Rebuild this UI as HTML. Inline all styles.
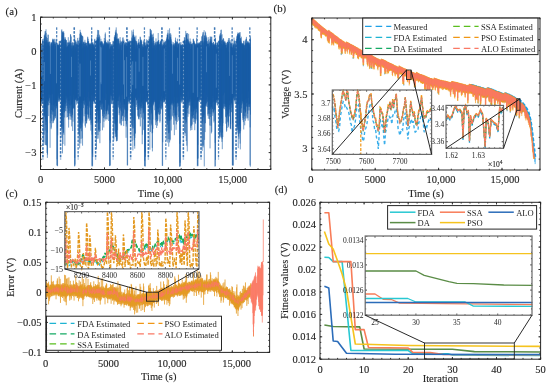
<!DOCTYPE html>
<html><head><meta charset="utf-8"><style>html,body{margin:0;padding:0;background:#fff;}</style></head>
<body><svg width="550" height="387" viewBox="0 0 550 387" style="display:block;will-change:transform;font-family:'Liberation Serif',serif"><style>text{stroke:#262626;stroke-width:0.12px;opacity:0.999;} text.s{stroke:none;}</style><rect width="550" height="387" fill="#fff"/><path d="M40.90 43.1V100.9M41.07 50.5V101.1M41.24 45.8V105.0M41.41 44.8V103.8M41.58 50.6V100.2M41.75 49.6V101.2M41.92 48.8V101.8M42.09 45.2V99.8M42.26 42.7V101.0M42.43 39.2V103.4M42.60 40.9V43.3M42.60 44.7V47.1M42.60 48.5V50.9M42.60 52.3V54.7M42.60 56.1V58.5M42.60 59.9V62.3M42.60 63.7V66.1M42.60 67.5V69.9M42.60 71.3V73.7M42.60 75.1V77.5M42.60 78.9V81.3M42.60 82.7V85.1M42.60 86.5V88.9M42.60 90.3V92.7M42.60 94.1V96.5M42.60 97.9V100.3M42.60 101.7V104.1M42.60 105.5V107.9M42.60 109.3V111.7M42.60 113.1V115.5M42.60 116.9V119.3M42.60 120.7V123.1M42.60 124.5V126.9M42.60 128.3V130.7M42.60 132.1V134.5M42.60 135.9V138.3M42.60 139.7V142.1M42.60 143.5V145.9M42.60 147.3V149.7M42.60 151.1V153.5M42.60 154.9V157.3M42.60 158.7V159.3M42.94 40.9V43.3M42.94 44.7V47.1M42.94 48.5V50.9M42.94 52.3V54.7M42.94 56.1V58.5M42.94 59.9V62.3M42.94 63.7V66.1M42.94 67.5V69.9M42.94 71.3V73.7M42.94 75.1V77.5M42.94 78.9V81.3M42.94 82.7V85.1M42.94 86.5V88.9M42.94 90.3V92.7M42.94 94.1V96.5M42.94 97.9V100.3M42.94 101.7V104.1M42.94 105.5V107.9M42.94 109.3V111.7M42.94 113.1V115.5M42.94 116.9V119.3M42.94 120.7V123.1M42.94 124.5V126.9M42.94 128.3V130.7M42.94 132.1V134.5M42.94 135.9V138.3M42.94 139.7V142.1M42.94 143.5V145.9M42.94 147.3V149.7M42.94 151.1V153.5M42.94 154.9V157.3M42.94 158.7V159.3M43.28 40.9V43.3M43.28 44.7V47.1M43.28 48.5V50.9M43.28 52.3V54.7M43.28 56.1V58.5M43.28 59.9V62.3M43.28 63.7V66.1M43.28 67.5V69.9M43.28 71.3V73.7M43.28 75.1V77.5M43.28 78.9V81.3M43.28 82.7V85.1M43.28 86.5V88.9M43.28 90.3V92.7M43.28 94.1V96.5M43.28 97.9V100.3M43.28 101.7V104.1M43.28 105.5V107.9M43.28 109.3V111.7M43.28 113.1V115.5M43.28 116.9V119.3M43.28 120.7V123.1M43.28 124.5V126.9M43.28 128.3V130.7M43.28 132.1V134.5M43.28 135.9V138.3M43.28 139.7V142.1M43.28 143.5V145.9M43.28 147.3V149.7M43.28 151.1V153.5M43.28 154.9V157.3M43.28 158.7V159.3M43.62 46.4V101.5M43.79 42.6V142.5M43.96 39.0V144.8M44.13 38.2V134.7M44.30 35.1V116.7M44.47 35.7V115.4M44.64 49.0V94.8M44.81 40.0V107.8M44.98 33.8V116.5M45.15 31.5V130.6M45.32 31.0V119.5M45.49 41.9V144.9M45.66 41.2V107.0M45.83 36.4V120.6M46.00 29.3V125.0M46.17 32.9V145.2M46.34 46.4V122.0M46.51 37.1V145.4M46.68 41.8V102.8M46.85 39.7V99.0M47.02 40.1V152.9M47.19 41.9V132.6M47.36 38.0V157.9M47.53 42.6V154.6M47.70 45.5V105.1M47.87 44.2V99.3M48.04 34.5V105.6M48.21 34.9V101.0M48.38 43.2V100.3M48.55 44.9V101.5M48.72 42.5V116.1M48.89 41.9V105.0M49.06 42.0V94.9M49.23 41.6V94.0M49.40 41.7V98.4M49.57 46.4V97.5M49.74 46.1V103.0M49.91 44.7V100.2M50.08 49.3V147.8M50.25 48.5V123.2M50.42 46.5V95.2M50.59 44.5V118.4M50.76 43.5V103.3M50.93 47.2V113.9M51.10 42.8V129.2M51.27 41.9V127.6M51.44 42.8V104.8M51.61 43.3V110.0M51.78 46.0V120.9M51.95 44.1V110.0M52.12 42.3V94.4M52.29 45.2V114.7M52.46 46.0V93.7M52.63 38.7V111.7M52.80 39.8V123.3M52.97 40.2V110.6M53.14 39.3V105.1M53.31 41.7V122.8M53.48 43.9V121.2M53.65 41.4V105.3M53.82 39.6V111.7M53.99 38.8V100.2M54.16 44.1V119.3M54.33 43.6V120.4M54.50 48.5V106.7M54.67 41.9V104.1M54.84 43.7V116.4M55.01 38.9V117.7M55.18 42.3V110.0M55.35 43.7V116.1M55.52 45.6V118.3M55.69 45.8V102.7M55.86 47.1V102.5M56.03 43.7V106.2M56.20 42.4V108.7M56.37 40.4V107.9M56.54 27.4V29.8M56.54 31.2V33.6M56.54 35.0V37.4M56.54 38.8V41.2M56.54 42.6V42.6M56.54 44.2V106.2M56.71 42.9V105.9M56.88 27.4V29.8M56.88 31.2V33.6M56.88 35.0V37.4M56.88 38.8V41.2M56.88 42.6V42.6M56.88 42.6V165.4M57.05 45.6V159.3M57.22 44.8V165.7M57.39 45.2V128.4M57.56 45.0V166.2M57.73 43.3V135.3M57.90 44.2V101.6M58.07 45.3V101.0M58.24 45.6V97.5M58.41 45.3V95.7M58.58 44.7V93.4M58.75 46.2V99.8M58.92 45.5V102.0M59.09 44.9V100.1M59.26 41.2V98.0M59.43 40.9V98.7M59.60 44.2V101.3M59.77 43.9V98.8M59.94 45.9V97.0M60.11 48.5V98.4M60.28 40.9V43.3M60.28 44.7V47.1M60.28 48.5V50.9M60.28 52.3V54.7M60.28 56.1V58.5M60.28 59.9V62.3M60.28 63.7V66.1M60.28 67.5V69.9M60.28 71.3V73.7M60.28 75.1V77.5M60.28 78.9V81.3M60.28 82.7V85.1M60.28 86.5V88.9M60.28 90.3V92.7M60.28 94.1V96.5M60.28 97.9V100.3M60.28 101.7V104.1M60.28 105.5V107.9M60.28 109.3V111.7M60.28 113.1V115.5M60.28 116.9V119.3M60.28 120.7V123.1M60.28 124.5V126.9M60.28 128.3V130.7M60.28 132.1V134.5M60.28 135.9V138.3M60.28 139.7V142.1M60.28 143.5V145.9M60.28 147.3V149.7M60.28 151.1V153.5M60.28 154.9V157.3M60.28 158.7V159.3M60.62 40.9V43.3M60.62 44.7V47.1M60.62 48.5V50.9M60.62 52.3V54.7M60.62 56.1V58.5M60.62 59.9V62.3M60.62 63.7V66.1M60.62 67.5V69.9M60.62 71.3V73.7M60.62 75.1V77.5M60.62 78.9V81.3M60.62 82.7V85.1M60.62 86.5V88.9M60.62 90.3V92.7M60.62 94.1V96.5M60.62 97.9V100.3M60.62 101.7V104.1M60.62 105.5V107.9M60.62 109.3V111.7M60.62 113.1V115.5M60.62 116.9V119.3M60.62 120.7V123.1M60.62 124.5V126.9M60.62 128.3V130.7M60.62 132.1V134.5M60.62 135.9V138.3M60.62 139.7V142.1M60.62 143.5V145.9M60.62 147.3V149.7M60.62 151.1V153.5M60.62 154.9V157.3M60.62 158.7V159.3M60.96 40.9V43.3M60.96 44.7V47.1M60.96 48.5V50.9M60.96 52.3V54.7M60.96 56.1V58.5M60.96 59.9V62.3M60.96 63.7V66.1M60.96 67.5V69.9M60.96 71.3V73.7M60.96 75.1V77.5M60.96 78.9V81.3M60.96 82.7V85.1M60.96 86.5V88.9M60.96 90.3V92.7M60.96 94.1V96.5M60.96 97.9V100.3M60.96 101.7V104.1M60.96 105.5V107.9M60.96 109.3V111.7M60.96 113.1V115.5M60.96 116.9V119.3M60.96 120.7V123.1M60.96 124.5V126.9M60.96 128.3V130.7M60.96 132.1V134.5M60.96 135.9V138.3M60.96 139.7V142.1M60.96 143.5V145.9M60.96 147.3V149.7M60.96 151.1V153.5M60.96 154.9V157.3M60.96 158.7V159.3M61.30 40.0V125.2M61.47 43.7V127.4M61.64 30.4V129.4M61.81 29.3V137.6M61.98 49.1V126.0M62.15 35.5V120.6M62.32 38.9V116.0M62.49 31.4V153.4M62.66 32.3V115.1M62.83 32.6V128.7M63.00 49.1V144.1M63.17 32.7V107.9M63.34 32.1V133.3M63.51 37.5V132.4M63.68 31.1V110.0M63.85 33.1V134.8M64.02 47.5V110.2M64.19 42.0V111.9M64.36 39.8V102.5M64.53 39.4V112.6M64.70 45.9V117.5M64.87 37.4V145.7M65.04 43.8V106.0M65.21 37.3V107.9M65.38 39.1V104.0M65.55 39.5V102.5M65.72 41.4V110.9M65.89 39.9V111.3M66.06 40.5V95.6M66.23 47.5V96.4M66.40 40.1V98.7M66.57 47.6V105.8M66.74 44.6V102.6M66.91 42.6V117.5M67.08 47.0V99.9M67.25 46.6V97.6M67.42 46.0V108.5M67.59 42.3V117.0M67.76 46.9V105.6M67.93 46.8V112.8M68.10 43.0V97.4M68.27 37.2V101.0M68.44 45.0V119.6M68.61 44.9V127.6M68.78 42.7V103.8M68.95 42.2V116.0M69.12 42.3V110.9M69.29 43.3V113.3M69.46 45.2V100.6M69.63 44.2V105.3M69.80 41.5V108.1M69.97 40.3V119.6M70.14 43.3V113.8M70.31 45.9V99.9M70.48 34.3V95.9M70.65 34.5V116.3M70.82 43.0V105.5M70.99 48.1V112.3M71.16 42.8V119.8M71.33 36.5V116.6M71.50 45.6V104.3M71.67 49.2V126.4M71.84 44.6V104.1M72.01 46.2V117.7M72.18 50.9V109.4M72.35 47.9V113.6M72.52 42.1V115.2M72.69 42.9V131.0M72.86 45.2V101.4M73.03 46.5V121.7M73.20 46.1V108.3M73.37 45.6V108.5M73.54 45.3V94.6M73.71 42.4V107.8M73.88 27.4V29.8M73.88 31.2V33.6M73.88 35.0V37.4M73.88 38.8V41.2M73.88 42.6V42.6M73.88 46.1V99.3M74.05 50.2V96.9M74.22 27.4V29.8M74.22 31.2V33.6M74.22 35.0V37.4M74.22 38.8V41.2M74.22 42.6V42.6M74.22 43.1V107.4M74.39 42.8V109.1M74.56 27.4V29.8M74.56 31.2V33.6M74.56 35.0V37.4M74.56 38.8V41.2M74.56 42.6V42.6M74.56 39.5V166.3M74.73 36.9V157.9M74.90 45.2V166.2M75.07 48.9V164.6M75.24 47.7V100.2M75.41 41.6V98.7M75.58 41.3V99.9M75.75 40.1V99.3M75.92 47.2V98.1M76.09 43.8V99.9M76.26 43.4V101.4M76.43 44.5V104.6M76.60 41.7V97.7M76.77 51.0V98.3M76.94 45.3V101.3M77.11 45.1V100.2M77.28 44.0V100.8M77.45 44.9V102.8M77.62 37.9V100.0M77.79 43.0V100.9M77.96 40.9V43.3M77.96 44.7V47.1M77.96 48.5V50.9M77.96 52.3V54.7M77.96 56.1V58.5M77.96 59.9V62.3M77.96 63.7V66.1M77.96 67.5V69.9M77.96 71.3V73.7M77.96 75.1V77.5M77.96 78.9V81.3M77.96 82.7V85.1M77.96 86.5V88.9M77.96 90.3V92.7M77.96 94.1V96.5M77.96 97.9V100.3M77.96 101.7V104.1M77.96 105.5V107.9M77.96 109.3V111.7M77.96 113.1V115.5M77.96 116.9V119.3M77.96 120.7V123.1M77.96 124.5V126.9M77.96 128.3V130.7M77.96 132.1V134.5M77.96 135.9V138.3M77.96 139.7V142.1M77.96 143.5V145.9M77.96 147.3V149.7M77.96 151.1V153.5M77.96 154.9V157.3M77.96 158.7V159.3M78.30 40.9V43.3M78.30 44.7V47.1M78.30 48.5V50.9M78.30 52.3V54.7M78.30 56.1V58.5M78.30 59.9V62.3M78.30 63.7V66.1M78.30 67.5V69.9M78.30 71.3V73.7M78.30 75.1V77.5M78.30 78.9V81.3M78.30 82.7V85.1M78.30 86.5V88.9M78.30 90.3V92.7M78.30 94.1V96.5M78.30 97.9V100.3M78.30 101.7V104.1M78.30 105.5V107.9M78.30 109.3V111.7M78.30 113.1V115.5M78.30 116.9V119.3M78.30 120.7V123.1M78.30 124.5V126.9M78.30 128.3V130.7M78.30 132.1V134.5M78.30 135.9V138.3M78.30 139.7V142.1M78.30 143.5V145.9M78.30 147.3V149.7M78.30 151.1V153.5M78.30 154.9V157.3M78.30 158.7V159.3M78.64 42.7V133.8M78.81 45.8V120.9M78.98 40.1V116.2M79.15 44.8V143.0M79.32 37.6V104.0M79.49 43.3V135.9M79.66 44.3V148.4M79.83 33.7V127.7M80.00 43.5V103.6M80.17 29.8V115.3M80.34 40.8V124.7M80.51 32.0V128.6M80.68 43.0V123.0M80.85 32.7V143.5M81.02 33.5V138.9M81.19 34.9V128.3M81.36 35.3V131.2M81.53 40.2V103.0M81.70 42.3V110.5M81.87 35.8V126.7M82.04 35.6V120.0M82.21 44.3V138.3M82.38 48.4V114.9M82.55 36.0V145.7M82.72 43.7V121.6M82.89 36.7V123.4M83.06 47.7V103.4M83.23 41.6V100.3M83.40 42.1V108.1M83.57 42.6V101.0M83.74 46.1V100.1M83.91 43.3V103.8M84.08 42.3V116.3M84.25 44.4V105.3M84.42 46.6V104.5M84.59 43.8V97.3M84.76 41.7V99.9M84.93 39.8V101.1M85.10 48.0V125.7M85.27 44.1V114.0M85.44 42.6V127.6M85.61 46.5V121.0M85.78 43.7V102.6M85.95 42.6V101.5M86.12 43.1V114.2M86.29 43.0V113.5M86.46 46.0V123.3M86.63 45.1V123.4M86.80 46.2V119.3M86.97 45.4V120.6M87.14 42.6V108.8M87.31 46.8V105.5M87.48 47.8V97.2M87.65 36.7V105.9M87.82 37.5V114.6M87.99 41.2V114.3M88.16 39.0V114.5M88.33 41.1V117.2M88.50 43.5V91.9M88.67 41.5V118.9M88.84 45.4V118.1M89.01 43.1V106.3M89.18 44.0V98.0M89.35 44.2V120.7M89.52 44.9V101.6M89.69 45.2V100.7M89.86 43.0V107.8M90.03 45.2V99.7M90.20 43.7V106.8M90.37 44.2V115.0M90.54 44.4V120.2M90.71 47.7V118.8M90.88 42.7V130.7M91.05 44.1V124.8M91.22 49.1V123.1M91.39 45.4V101.7M91.56 27.4V29.8M91.56 31.2V33.6M91.56 35.0V37.4M91.56 38.8V41.2M91.56 42.6V42.6M91.56 37.4V95.3M91.73 38.4V108.2M91.90 27.4V29.8M91.90 31.2V33.6M91.90 35.0V37.4M91.90 38.8V41.2M91.90 42.6V42.6M91.90 43.1V166.4M92.07 43.2V134.6M92.24 45.0V165.5M92.41 42.4V153.5M92.58 43.6V166.3M92.75 46.1V156.9M92.92 42.0V96.1M93.09 44.5V94.0M93.26 44.8V101.7M93.43 44.5V100.1M93.60 43.5V101.2M93.77 45.0V101.0M93.94 48.0V104.0M94.11 46.8V96.9M94.28 46.2V102.5M94.45 46.9V102.6M94.62 39.5V98.5M94.79 38.8V103.5M94.96 45.0V97.1M95.13 43.8V99.8M95.30 40.9V43.3M95.30 44.7V47.1M95.30 48.5V50.9M95.30 52.3V54.7M95.30 56.1V58.5M95.30 59.9V62.3M95.30 63.7V66.1M95.30 67.5V69.9M95.30 71.3V73.7M95.30 75.1V77.5M95.30 78.9V81.3M95.30 82.7V85.1M95.30 86.5V88.9M95.30 90.3V92.7M95.30 94.1V96.5M95.30 97.9V100.3M95.30 101.7V104.1M95.30 105.5V107.9M95.30 109.3V111.7M95.30 113.1V115.5M95.30 116.9V119.3M95.30 120.7V123.1M95.30 124.5V126.9M95.30 128.3V130.7M95.30 132.1V134.5M95.30 135.9V138.3M95.30 139.7V142.1M95.30 143.5V145.9M95.30 147.3V149.7M95.30 151.1V153.5M95.30 154.9V157.3M95.30 158.7V159.3M95.64 40.9V43.3M95.64 44.7V47.1M95.64 48.5V50.9M95.64 52.3V54.7M95.64 56.1V58.5M95.64 59.9V62.3M95.64 63.7V66.1M95.64 67.5V69.9M95.64 71.3V73.7M95.64 75.1V77.5M95.64 78.9V81.3M95.64 82.7V85.1M95.64 86.5V88.9M95.64 90.3V92.7M95.64 94.1V96.5M95.64 97.9V100.3M95.64 101.7V104.1M95.64 105.5V107.9M95.64 109.3V111.7M95.64 113.1V115.5M95.64 116.9V119.3M95.64 120.7V123.1M95.64 124.5V126.9M95.64 128.3V130.7M95.64 132.1V134.5M95.64 135.9V138.3M95.64 139.7V142.1M95.64 143.5V145.9M95.64 147.3V149.7M95.64 151.1V153.5M95.64 154.9V157.3M95.64 158.7V159.3M95.98 40.9V43.3M95.98 44.7V47.1M95.98 48.5V50.9M95.98 52.3V54.7M95.98 56.1V58.5M95.98 59.9V62.3M95.98 63.7V66.1M95.98 67.5V69.9M95.98 71.3V73.7M95.98 75.1V77.5M95.98 78.9V81.3M95.98 82.7V85.1M95.98 86.5V88.9M95.98 90.3V92.7M95.98 94.1V96.5M95.98 97.9V100.3M95.98 101.7V104.1M95.98 105.5V107.9M95.98 109.3V111.7M95.98 113.1V115.5M95.98 116.9V119.3M95.98 120.7V123.1M95.98 124.5V126.9M95.98 128.3V130.7M95.98 132.1V134.5M95.98 135.9V138.3M95.98 139.7V142.1M95.98 143.5V145.9M95.98 147.3V149.7M95.98 151.1V153.5M95.98 154.9V157.3M95.98 158.7V159.3M96.32 40.9V107.7M96.49 40.7V149.3M96.66 47.6V123.4M96.83 40.0V122.7M97.00 36.9V122.8M97.17 38.4V138.8M97.34 34.7V110.9M97.51 38.4V110.3M97.68 29.9V104.5M97.85 45.8V115.4M98.02 39.7V135.0M98.19 30.2V138.6M98.36 37.2V109.9M98.53 39.1V121.9M98.70 30.3V130.7M98.87 38.5V129.0M99.04 44.9V130.1M99.21 37.2V132.0M99.38 34.7V110.9M99.55 46.4V119.3M99.72 45.3V102.4M99.89 36.3V143.2M100.06 42.9V130.9M100.23 41.6V123.1M100.40 45.3V105.3M100.57 43.5V99.9M100.74 41.2V107.0M100.91 38.8V103.3M101.08 42.2V101.7M101.25 41.8V109.1M101.42 41.7V109.7M101.59 41.2V109.4M101.76 48.4V104.6M101.93 51.0V99.9M102.10 41.8V104.2M102.27 41.5V102.9M102.44 43.2V130.3M102.61 43.8V116.2M102.78 49.3V113.8M102.95 45.0V97.1M103.12 45.1V103.9M103.29 43.6V111.7M103.46 46.1V118.2M103.63 45.5V107.6M103.80 43.8V127.5M103.97 43.3V121.7M104.14 46.7V107.2M104.31 38.0V117.4M104.48 44.6V114.2M104.65 41.1V109.5M104.82 41.8V98.1M104.99 41.4V118.8M105.16 34.2V110.8M105.33 32.5V100.1M105.50 41.3V100.1M105.67 39.6V92.3M105.84 45.1V120.5M106.01 43.1V115.8M106.18 41.9V119.0M106.35 46.8V111.3M106.52 43.5V113.7M106.69 42.7V111.2M106.86 42.8V94.0M107.03 42.3V114.6M107.20 45.0V119.5M107.37 44.0V110.1M107.54 43.4V108.7M107.71 40.5V106.1M107.88 43.4V110.7M108.05 45.8V111.5M108.22 44.7V103.4M108.39 44.7V103.7M108.56 43.8V114.3M108.73 41.5V121.0M108.90 43.1V104.9M109.07 41.4V105.4M109.24 27.4V29.8M109.24 31.2V33.6M109.24 35.0V37.4M109.24 38.8V41.2M109.24 42.6V42.6M109.24 42.1V105.6M109.41 49.7V114.8M109.58 27.4V29.8M109.58 31.2V33.6M109.58 35.0V37.4M109.58 38.8V41.2M109.58 42.6V42.6M109.58 48.9V166.1M109.75 48.4V140.3M109.92 43.1V165.8M110.09 44.0V120.9M110.26 46.7V165.4M110.43 42.1V142.8M110.60 46.5V95.3M110.77 48.4V99.3M110.94 48.6V93.9M111.11 46.1V96.3M111.28 44.3V94.5M111.45 44.4V96.0M111.62 46.7V103.6M111.79 45.9V104.0M111.96 45.1V100.3M112.13 47.6V104.5M112.30 44.0V99.3M112.47 46.1V100.5M112.64 46.6V99.7M112.81 42.8V101.6M112.98 40.9V43.3M112.98 44.7V47.1M112.98 48.5V50.9M112.98 52.3V54.7M112.98 56.1V58.5M112.98 59.9V62.3M112.98 63.7V66.1M112.98 67.5V69.9M112.98 71.3V73.7M112.98 75.1V77.5M112.98 78.9V81.3M112.98 82.7V85.1M112.98 86.5V88.9M112.98 90.3V92.7M112.98 94.1V96.5M112.98 97.9V100.3M112.98 101.7V104.1M112.98 105.5V107.9M112.98 109.3V111.7M112.98 113.1V115.5M112.98 116.9V119.3M112.98 120.7V123.1M112.98 124.5V126.9M112.98 128.3V130.7M112.98 132.1V134.5M112.98 135.9V138.3M112.98 139.7V142.1M112.98 143.5V145.9M112.98 147.3V149.7M112.98 151.1V153.5M112.98 154.9V157.3M112.98 158.7V159.3M113.32 40.9V43.3M113.32 44.7V47.1M113.32 48.5V50.9M113.32 52.3V54.7M113.32 56.1V58.5M113.32 59.9V62.3M113.32 63.7V66.1M113.32 67.5V69.9M113.32 71.3V73.7M113.32 75.1V77.5M113.32 78.9V81.3M113.32 82.7V85.1M113.32 86.5V88.9M113.32 90.3V92.7M113.32 94.1V96.5M113.32 97.9V100.3M113.32 101.7V104.1M113.32 105.5V107.9M113.32 109.3V111.7M113.32 113.1V115.5M113.32 116.9V119.3M113.32 120.7V123.1M113.32 124.5V126.9M113.32 128.3V130.7M113.32 132.1V134.5M113.32 135.9V138.3M113.32 139.7V142.1M113.32 143.5V145.9M113.32 147.3V149.7M113.32 151.1V153.5M113.32 154.9V157.3M113.32 158.7V159.3M113.66 42.3V138.5M113.83 49.5V140.6M114.00 41.7V94.7M114.17 41.7V105.0M114.34 36.8V118.9M114.51 39.5V123.6M114.68 35.2V100.6M114.85 36.8V130.7M115.02 38.1V108.5M115.19 38.0V133.8M115.36 31.6V136.7M115.53 33.2V123.8M115.70 33.7V98.7M115.87 29.8V137.2M116.04 39.1V132.3M116.21 27.4V125.5M116.38 32.5V141.1M116.55 37.4V141.3M116.72 39.1V136.5M116.89 39.0V139.5M117.06 45.0V101.2M117.23 43.5V122.5M117.40 33.6V140.9M117.57 39.3V130.2M117.74 38.9V101.2M117.91 38.2V100.8M118.08 49.0V106.6M118.25 43.1V97.7M118.42 39.8V101.0M118.59 38.8V107.6M118.76 38.6V104.9M118.93 41.1V96.5M119.10 49.2V115.2M119.27 44.1V113.2M119.44 42.8V94.6M119.61 45.4V109.0M119.78 48.6V96.5M119.95 44.4V123.5M120.12 37.1V123.5M120.29 40.5V101.5M120.46 47.2V108.3M120.63 42.6V110.6M120.80 45.5V102.7M120.97 42.6V99.9M121.14 45.1V125.3M121.31 41.3V125.3M121.48 50.1V119.2M121.65 50.3V111.8M121.82 41.9V94.9M121.99 41.9V104.8M122.16 44.3V121.2M122.33 40.6V116.3M122.50 43.1V94.2M122.67 43.7V115.1M122.84 38.0V107.4M123.01 37.1V116.0M123.18 41.3V96.2M123.35 41.7V120.8M123.52 42.0V113.4M123.69 43.2V126.1M123.86 39.6V101.9M124.03 41.3V104.9M124.20 43.2V103.7M124.37 44.8V107.7M124.54 45.8V109.3M124.71 48.3V117.3M124.88 43.5V104.5M125.05 44.8V110.3M125.22 42.4V120.9M125.39 43.9V120.9M125.56 45.4V109.9M125.73 42.3V94.7M125.90 47.1V116.2M126.07 42.9V137.8M126.24 42.4V126.6M126.41 42.7V124.3M126.58 27.4V29.8M126.58 31.2V33.6M126.58 35.0V37.4M126.58 38.8V41.2M126.58 42.6V42.6M126.58 46.0V113.7M126.75 45.8V118.2M126.92 27.4V29.8M126.92 31.2V33.6M126.92 35.0V37.4M126.92 38.8V41.2M126.92 42.6V42.6M126.92 42.7V91.9M127.09 46.4V113.0M127.26 27.4V29.8M127.26 31.2V33.6M127.26 35.0V37.4M127.26 38.8V41.2M127.26 42.6V42.6M127.26 45.5V165.4M127.43 43.4V120.6M127.60 40.7V165.4M127.77 39.0V110.4M127.94 42.3V101.6M128.11 42.3V101.4M128.28 48.8V101.5M128.45 43.3V99.3M128.62 41.6V97.0M128.79 41.7V95.0M128.96 41.1V104.2M129.13 41.6V103.3M129.30 43.1V100.3M129.47 42.4V97.1M129.64 40.5V101.6M129.81 42.2V102.7M129.98 45.9V99.8M130.15 43.0V100.1M130.32 40.9V43.3M130.32 44.7V47.1M130.32 48.5V50.9M130.32 52.3V54.7M130.32 56.1V58.5M130.32 59.9V62.3M130.32 63.7V66.1M130.32 67.5V69.9M130.32 71.3V73.7M130.32 75.1V77.5M130.32 78.9V81.3M130.32 82.7V85.1M130.32 86.5V88.9M130.32 90.3V92.7M130.32 94.1V96.5M130.32 97.9V100.3M130.32 101.7V104.1M130.32 105.5V107.9M130.32 109.3V111.7M130.32 113.1V115.5M130.32 116.9V119.3M130.32 120.7V123.1M130.32 124.5V126.9M130.32 128.3V130.7M130.32 132.1V134.5M130.32 135.9V138.3M130.32 139.7V142.1M130.32 143.5V145.9M130.32 147.3V149.7M130.32 151.1V153.5M130.32 154.9V157.3M130.32 158.7V159.3M130.66 40.9V43.3M130.66 44.7V47.1M130.66 48.5V50.9M130.66 52.3V54.7M130.66 56.1V58.5M130.66 59.9V62.3M130.66 63.7V66.1M130.66 67.5V69.9M130.66 71.3V73.7M130.66 75.1V77.5M130.66 78.9V81.3M130.66 82.7V85.1M130.66 86.5V88.9M130.66 90.3V92.7M130.66 94.1V96.5M130.66 97.9V100.3M130.66 101.7V104.1M130.66 105.5V107.9M130.66 109.3V111.7M130.66 113.1V115.5M130.66 116.9V119.3M130.66 120.7V123.1M130.66 124.5V126.9M130.66 128.3V130.7M130.66 132.1V134.5M130.66 135.9V138.3M130.66 139.7V142.1M130.66 143.5V145.9M130.66 147.3V149.7M130.66 151.1V153.5M130.66 154.9V157.3M130.66 158.7V159.3M131.00 40.9V43.3M131.00 44.7V47.1M131.00 48.5V50.9M131.00 52.3V54.7M131.00 56.1V58.5M131.00 59.9V62.3M131.00 63.7V66.1M131.00 67.5V69.9M131.00 71.3V73.7M131.00 75.1V77.5M131.00 78.9V81.3M131.00 82.7V85.1M131.00 86.5V88.9M131.00 90.3V92.7M131.00 94.1V96.5M131.00 97.9V100.3M131.00 101.7V104.1M131.00 105.5V107.9M131.00 109.3V111.7M131.00 113.1V115.5M131.00 116.9V119.3M131.00 120.7V123.1M131.00 124.5V126.9M131.00 128.3V130.7M131.00 132.1V134.5M131.00 135.9V138.3M131.00 139.7V142.1M131.00 143.5V145.9M131.00 147.3V149.7M131.00 151.1V153.5M131.00 154.9V157.3M131.00 158.7V159.3M131.34 44.8V116.2M131.51 40.9V124.9M131.68 37.5V98.5M131.85 30.4V102.9M132.02 47.3V141.0M132.19 41.6V118.0M132.36 38.8V128.6M132.53 35.5V104.0M132.70 40.5V126.5M132.87 37.8V150.4M133.04 31.9V102.4M133.21 33.9V120.4M133.38 29.5V102.8M133.55 35.3V128.4M133.72 44.9V98.2M133.89 35.1V105.9M134.06 38.4V135.8M134.23 36.9V140.1M134.40 38.2V123.1M134.57 39.5V145.9M134.74 36.5V148.7M134.91 37.2V137.9M135.08 39.6V133.2M135.25 47.0V133.7M135.42 41.2V96.5M135.59 40.4V97.8M135.76 49.0V97.3M135.93 35.6V98.0M136.10 45.2V107.0M136.27 41.1V104.8M136.44 42.5V100.1M136.61 42.3V99.6M136.78 41.0V100.3M136.95 43.5V100.4M137.12 44.7V94.6M137.29 48.5V109.9M137.46 45.5V99.3M137.63 44.5V103.3M137.80 48.4V115.7M137.97 48.6V116.6M138.14 43.0V105.9M138.31 42.4V110.0M138.48 39.2V97.7M138.65 43.0V118.7M138.82 44.7V118.7M138.99 44.0V119.6M139.16 42.6V105.3M139.33 45.2V116.8M139.50 44.6V98.4M139.67 45.2V109.1M139.84 41.7V102.8M140.01 47.8V107.6M140.18 36.6V106.7M140.35 37.2V126.4M140.52 39.9V93.7M140.69 41.1V114.1M140.86 47.6V110.6M141.03 39.7V108.2M141.20 44.3V105.9M141.37 39.8V117.6M141.54 41.5V102.0M141.71 41.5V102.4M141.88 50.9V107.8M142.05 44.3V108.3M142.22 45.7V144.2M142.39 48.8V134.7M142.56 46.6V104.5M142.73 44.6V100.8M142.90 46.7V94.0M143.07 44.2V109.8M143.24 47.5V113.5M143.41 40.5V107.7M143.58 47.1V112.6M143.75 48.0V119.3M143.92 42.2V130.2M144.09 45.0V129.7M144.26 27.4V29.8M144.26 31.2V33.6M144.26 35.0V37.4M144.26 38.8V41.2M144.26 42.6V42.6M144.26 41.6V109.8M144.43 43.0V98.7M144.60 27.4V29.8M144.60 31.2V33.6M144.60 35.0V37.4M144.60 38.8V41.2M144.60 42.6V42.6M144.60 41.1V166.2M144.77 42.9V160.7M144.94 46.7V166.1M145.11 46.0V152.4M145.28 42.3V166.6M145.45 46.2V156.8M145.62 45.0V100.3M145.79 45.7V102.0M145.96 46.4V101.1M146.13 43.7V100.9M146.30 47.5V101.6M146.47 48.3V102.3M146.64 39.3V96.1M146.81 41.3V100.9M146.98 45.0V98.2M147.15 44.3V102.3M147.32 45.6V101.3M147.49 44.5V98.5M147.66 40.1V104.7M147.83 43.6V105.4M148.00 40.9V43.3M148.00 44.7V47.1M148.00 48.5V50.9M148.00 52.3V54.7M148.00 56.1V58.5M148.00 59.9V62.3M148.00 63.7V66.1M148.00 67.5V69.9M148.00 71.3V73.7M148.00 75.1V77.5M148.00 78.9V81.3M148.00 82.7V85.1M148.00 86.5V88.9M148.00 90.3V92.7M148.00 94.1V96.5M148.00 97.9V100.3M148.00 101.7V104.1M148.00 105.5V107.9M148.00 109.3V111.7M148.00 113.1V115.5M148.00 116.9V119.3M148.00 120.7V123.1M148.00 124.5V126.9M148.00 128.3V130.7M148.00 132.1V134.5M148.00 135.9V138.3M148.00 139.7V142.1M148.00 143.5V145.9M148.00 147.3V149.7M148.00 151.1V153.5M148.00 154.9V157.3M148.00 158.7V159.3M148.34 40.9V43.3M148.34 44.7V47.1M148.34 48.5V50.9M148.34 52.3V54.7M148.34 56.1V58.5M148.34 59.9V62.3M148.34 63.7V66.1M148.34 67.5V69.9M148.34 71.3V73.7M148.34 75.1V77.5M148.34 78.9V81.3M148.34 82.7V85.1M148.34 86.5V88.9M148.34 90.3V92.7M148.34 94.1V96.5M148.34 97.9V100.3M148.34 101.7V104.1M148.34 105.5V107.9M148.34 109.3V111.7M148.34 113.1V115.5M148.34 116.9V119.3M148.34 120.7V123.1M148.34 124.5V126.9M148.34 128.3V130.7M148.34 132.1V134.5M148.34 135.9V138.3M148.34 139.7V142.1M148.34 143.5V145.9M148.34 147.3V149.7M148.34 151.1V153.5M148.34 154.9V157.3M148.34 158.7V159.3M148.68 40.9V43.3M148.68 44.7V47.1M148.68 48.5V50.9M148.68 52.3V54.7M148.68 56.1V58.5M148.68 59.9V62.3M148.68 63.7V66.1M148.68 67.5V69.9M148.68 71.3V73.7M148.68 75.1V77.5M148.68 78.9V81.3M148.68 82.7V85.1M148.68 86.5V88.9M148.68 90.3V92.7M148.68 94.1V96.5M148.68 97.9V100.3M148.68 101.7V104.1M148.68 105.5V107.9M148.68 109.3V111.7M148.68 113.1V115.5M148.68 116.9V119.3M148.68 120.7V123.1M148.68 124.5V126.9M148.68 128.3V130.7M148.68 132.1V134.5M148.68 135.9V138.3M148.68 139.7V142.1M148.68 143.5V145.9M148.68 147.3V149.7M148.68 151.1V153.5M148.68 154.9V157.3M148.68 158.7V159.3M149.02 39.1V94.5M149.19 36.3V113.2M149.36 45.5V119.6M149.53 44.0V98.8M149.70 39.7V125.5M149.87 38.5V149.7M150.04 36.8V109.8M150.21 28.8V119.8M150.38 29.1V103.8M150.55 35.4V131.9M150.72 32.9V107.5M150.89 42.9V110.2M151.06 30.0V114.3M151.23 30.6V123.7M151.40 35.1V106.6M151.57 38.1V112.9M151.74 34.0V125.4M151.91 39.5V102.2M152.08 37.3V133.3M152.25 37.4V147.9M152.42 42.7V151.4M152.59 34.7V132.7M152.76 47.6V119.4M152.93 44.7V128.8M153.10 48.2V102.3M153.27 33.5V103.2M153.44 36.9V105.4M153.61 40.7V104.1M153.78 45.8V101.1M153.95 41.0V102.0M154.12 43.0V99.6M154.29 45.5V101.7M154.46 48.0V100.8M154.63 44.8V99.5M154.80 45.5V110.2M154.97 43.8V102.6M155.14 46.6V102.1M155.31 42.0V120.3M155.48 49.6V106.7M155.65 43.1V125.1M155.82 44.3V114.9M155.99 38.4V105.2M156.16 44.5V116.3M156.33 44.7V122.3M156.50 48.1V119.1M156.67 45.9V128.0M156.84 41.9V108.4M157.01 42.5V114.2M157.18 41.8V120.7M157.35 41.4V125.7M157.52 44.7V109.5M157.69 43.5V121.0M157.86 42.2V119.5M158.03 40.9V108.0M158.20 33.0V109.2M158.37 44.6V112.4M158.54 40.3V112.2M158.71 40.1V114.1M158.88 45.0V104.5M159.05 42.3V108.0M159.22 44.3V114.9M159.39 44.2V114.6M159.56 50.3V107.4M159.73 44.6V103.9M159.90 45.7V122.6M160.07 43.9V121.2M160.24 42.3V99.1M160.41 41.1V113.8M160.58 43.2V100.7M160.75 41.5V108.0M160.92 42.3V108.9M161.09 40.6V101.2M161.26 40.1V99.2M161.43 39.4V109.5M161.60 27.4V29.8M161.60 31.2V33.6M161.60 35.0V37.4M161.60 38.8V41.2M161.60 42.6V42.6M161.60 50.0V96.5M161.77 44.8V105.9M161.94 27.4V29.8M161.94 31.2V33.6M161.94 35.0V37.4M161.94 38.8V41.2M161.94 42.6V42.6M161.94 45.2V107.9M162.11 46.9V101.1M162.28 27.4V29.8M162.28 31.2V33.6M162.28 35.0V37.4M162.28 38.8V41.2M162.28 42.6V42.6M162.28 39.6V165.8M162.45 46.0V107.2M162.62 44.4V165.9M162.79 46.4V142.2M162.96 47.7V100.0M163.13 44.3V102.1M163.30 45.0V102.5M163.47 44.9V97.9M163.64 42.6V98.5M163.81 40.3V100.4M163.98 50.4V102.1M164.15 42.4V100.9M164.32 43.9V99.6M164.49 42.5V101.7M164.66 46.5V100.4M164.83 46.1V101.7M165.00 41.5V103.7M165.17 42.1V97.4M165.34 44.9V99.3M165.51 42.7V98.6M165.68 40.9V43.3M165.68 44.7V47.1M165.68 48.5V50.9M165.68 52.3V54.7M165.68 56.1V58.5M165.68 59.9V62.3M165.68 63.7V66.1M165.68 67.5V69.9M165.68 71.3V73.7M165.68 75.1V77.5M165.68 78.9V81.3M165.68 82.7V85.1M165.68 86.5V88.9M165.68 90.3V92.7M165.68 94.1V96.5M165.68 97.9V100.3M165.68 101.7V104.1M165.68 105.5V107.9M165.68 109.3V111.7M165.68 113.1V115.5M165.68 116.9V119.3M165.68 120.7V123.1M165.68 124.5V126.9M165.68 128.3V130.7M165.68 132.1V134.5M165.68 135.9V138.3M165.68 139.7V142.1M165.68 143.5V145.9M165.68 147.3V149.7M165.68 151.1V153.5M165.68 154.9V157.3M165.68 158.7V159.3M166.02 40.9V43.3M166.02 44.7V47.1M166.02 48.5V50.9M166.02 52.3V54.7M166.02 56.1V58.5M166.02 59.9V62.3M166.02 63.7V66.1M166.02 67.5V69.9M166.02 71.3V73.7M166.02 75.1V77.5M166.02 78.9V81.3M166.02 82.7V85.1M166.02 86.5V88.9M166.02 90.3V92.7M166.02 94.1V96.5M166.02 97.9V100.3M166.02 101.7V104.1M166.02 105.5V107.9M166.02 109.3V111.7M166.02 113.1V115.5M166.02 116.9V119.3M166.02 120.7V123.1M166.02 124.5V126.9M166.02 128.3V130.7M166.02 132.1V134.5M166.02 135.9V138.3M166.02 139.7V142.1M166.02 143.5V145.9M166.02 147.3V149.7M166.02 151.1V153.5M166.02 154.9V157.3M166.02 158.7V159.3M166.36 39.7V101.9M166.53 38.5V106.2M166.70 43.5V140.5M166.87 46.0V120.6M167.04 37.0V130.5M167.21 34.5V103.6M167.38 34.7V111.6M167.55 35.3V124.8M167.72 32.8V142.5M167.89 35.2V105.7M168.06 29.9V121.1M168.23 39.8V139.1M168.40 40.6V116.1M168.57 38.9V133.3M168.74 40.0V146.7M168.91 33.5V109.7M169.08 40.7V117.6M169.25 40.6V132.7M169.42 46.9V120.9M169.59 28.3V142.5M169.76 33.7V119.2M169.93 36.7V139.1M170.10 38.6V120.7M170.27 40.2V140.3M170.44 36.8V104.3M170.61 33.2V109.2M170.78 37.3V105.2M170.95 34.7V104.6M171.12 41.4V119.4M171.29 39.4V130.5M171.46 43.9V104.4M171.63 44.2V103.2M171.80 45.3V99.2M171.97 43.8V103.4M172.14 46.9V102.4M172.31 47.8V115.7M172.48 45.9V105.4M172.65 45.9V100.7M172.82 45.1V103.6M172.99 44.4V116.6M173.16 45.0V102.8M173.33 42.2V103.9M173.50 50.3V110.1M173.67 44.4V124.7M173.84 46.3V112.9M174.01 43.5V118.3M174.18 51.0V102.2M174.35 44.5V135.2M174.52 46.5V97.3M174.69 45.9V115.5M174.86 43.1V107.4M175.03 43.4V106.2M175.20 44.9V120.5M175.37 40.2V103.3M175.54 37.6V116.7M175.71 41.5V115.2M175.88 47.0V120.8M176.05 43.1V129.8M176.22 44.8V118.6M176.39 41.4V124.4M176.56 46.5V103.5M176.73 43.0V97.8M176.90 41.8V115.2M177.07 42.1V107.2M177.24 42.1V121.9M177.41 38.7V102.3M177.58 48.2V102.8M177.75 47.9V103.6M177.92 46.9V97.3M178.09 44.2V102.7M178.26 43.9V106.0M178.43 45.4V117.1M178.60 43.4V103.6M178.77 44.9V120.7M178.94 43.9V111.5M179.11 42.9V101.5M179.28 27.4V29.8M179.28 31.2V33.6M179.28 35.0V37.4M179.28 38.8V41.2M179.28 42.6V42.6M179.28 42.7V100.1M179.45 43.3V119.3M179.62 27.4V29.8M179.62 31.2V33.6M179.62 35.0V37.4M179.62 38.8V41.2M179.62 42.6V42.6M179.62 44.5V166.6M179.79 44.4V143.8M179.96 44.4V166.8M180.13 42.5V162.7M180.30 44.7V165.9M180.47 46.0V102.2M180.64 46.2V95.2M180.81 45.1V97.1M180.98 42.1V100.8M181.15 44.4V100.5M181.32 45.3V99.2M181.49 49.2V96.3M181.66 45.2V102.2M181.83 45.0V103.3M182.00 45.3V99.8M182.17 46.2V99.7M182.34 47.8V95.3M182.51 44.4V101.7M182.68 44.1V98.7M182.85 49.9V98.9M183.02 40.9V43.3M183.02 44.7V47.1M183.02 48.5V50.9M183.02 52.3V54.7M183.02 56.1V58.5M183.02 59.9V62.3M183.02 63.7V66.1M183.02 67.5V69.9M183.02 71.3V73.7M183.02 75.1V77.5M183.02 78.9V81.3M183.02 82.7V85.1M183.02 86.5V88.9M183.02 90.3V92.7M183.02 94.1V96.5M183.02 97.9V100.3M183.02 101.7V104.1M183.02 105.5V107.9M183.02 109.3V111.7M183.02 113.1V115.5M183.02 116.9V119.3M183.02 120.7V123.1M183.02 124.5V126.9M183.02 128.3V130.7M183.02 132.1V134.5M183.02 135.9V138.3M183.02 139.7V142.1M183.02 143.5V145.9M183.02 147.3V149.7M183.02 151.1V153.5M183.02 154.9V157.3M183.02 158.7V159.3M183.36 40.9V43.3M183.36 44.7V47.1M183.36 48.5V50.9M183.36 52.3V54.7M183.36 56.1V58.5M183.36 59.9V62.3M183.36 63.7V66.1M183.36 67.5V69.9M183.36 71.3V73.7M183.36 75.1V77.5M183.36 78.9V81.3M183.36 82.7V85.1M183.36 86.5V88.9M183.36 90.3V92.7M183.36 94.1V96.5M183.36 97.9V100.3M183.36 101.7V104.1M183.36 105.5V107.9M183.36 109.3V111.7M183.36 113.1V115.5M183.36 116.9V119.3M183.36 120.7V123.1M183.36 124.5V126.9M183.36 128.3V130.7M183.36 132.1V134.5M183.36 135.9V138.3M183.36 139.7V142.1M183.36 143.5V145.9M183.36 147.3V149.7M183.36 151.1V153.5M183.36 154.9V157.3M183.36 158.7V159.3M183.70 40.9V43.3M183.70 44.7V47.1M183.70 48.5V50.9M183.70 52.3V54.7M183.70 56.1V58.5M183.70 59.9V62.3M183.70 63.7V66.1M183.70 67.5V69.9M183.70 71.3V73.7M183.70 75.1V77.5M183.70 78.9V81.3M183.70 82.7V85.1M183.70 86.5V88.9M183.70 90.3V92.7M183.70 94.1V96.5M183.70 97.9V100.3M183.70 101.7V104.1M183.70 105.5V107.9M183.70 109.3V111.7M183.70 113.1V115.5M183.70 116.9V119.3M183.70 120.7V123.1M183.70 124.5V126.9M183.70 128.3V130.7M183.70 132.1V134.5M183.70 135.9V138.3M183.70 139.7V142.1M183.70 143.5V145.9M183.70 147.3V149.7M183.70 151.1V153.5M183.70 154.9V157.3M183.70 158.7V159.3M184.04 45.8V96.5M184.21 40.6V119.3M184.38 37.1V100.3M184.55 39.9V132.5M184.72 40.7V106.9M184.89 37.7V111.3M185.06 40.2V136.0M185.23 41.5V120.2M185.40 44.8V133.3M185.57 44.6V118.7M185.74 30.9V112.8M185.91 44.3V123.7M186.08 39.9V114.5M186.25 35.0V141.0M186.42 34.8V122.2M186.59 33.5V97.4M186.76 39.7V145.7M186.93 33.2V102.2M187.10 38.7V104.3M187.27 33.0V151.4M187.44 44.5V108.9M187.61 39.6V101.6M187.78 39.7V113.1M187.95 38.7V116.8M188.12 47.6V102.7M188.29 42.0V107.6M188.46 40.5V91.7M188.63 33.8V105.4M188.80 42.4V102.7M188.97 43.2V114.2M189.14 42.7V100.9M189.31 41.3V100.5M189.48 43.6V99.2M189.65 44.7V105.5M189.82 44.4V102.4M189.99 44.6V101.8M190.16 38.5V105.6M190.33 41.6V96.9M190.50 49.0V99.4M190.67 43.9V130.5M190.84 49.1V127.8M191.01 41.6V125.7M191.18 47.4V100.9M191.35 44.5V111.6M191.52 44.3V125.6M191.69 44.1V111.4M191.86 43.7V130.0M192.03 43.4V116.5M192.20 46.2V116.2M192.37 45.0V118.7M192.54 44.2V106.7M192.71 43.2V124.5M192.88 50.7V118.1M193.05 45.0V105.3M193.22 39.0V108.4M193.39 38.7V111.7M193.56 43.0V115.1M193.73 40.3V118.0M193.90 41.6V122.0M194.07 42.2V110.9M194.24 41.1V119.0M194.41 43.2V101.5M194.58 45.6V108.5M194.75 45.0V130.2M194.92 43.7V109.6M195.09 43.2V122.7M195.26 44.0V118.9M195.43 44.9V123.8M195.60 47.2V100.3M195.77 45.9V113.7M195.94 44.0V107.0M196.11 46.1V120.5M196.28 43.9V108.3M196.45 45.2V108.9M196.62 37.7V107.0M196.79 40.8V112.0M196.96 27.4V29.8M196.96 31.2V33.6M196.96 35.0V37.4M196.96 38.8V41.2M196.96 42.6V42.6M196.96 43.8V118.9M197.13 44.3V113.3M197.30 27.4V29.8M197.30 31.2V33.6M197.30 35.0V37.4M197.30 38.8V41.2M197.30 42.6V42.6M197.30 42.9V166.2M197.47 44.9V158.8M197.64 45.3V165.5M197.81 44.1V144.9M197.98 42.4V166.2M198.15 42.7V158.5M198.32 46.1V100.5M198.49 43.3V101.5M198.66 43.8V98.4M198.83 45.0V100.8M199.00 44.1V98.3M199.17 43.6V100.0M199.34 44.1V92.0M199.51 42.4V102.1M199.68 43.1V99.5M199.85 49.0V99.8M200.02 42.6V94.6M200.19 42.1V96.8M200.36 45.6V100.3M200.53 42.9V99.2M200.70 40.9V43.3M200.70 44.7V47.1M200.70 48.5V50.9M200.70 52.3V54.7M200.70 56.1V58.5M200.70 59.9V62.3M200.70 63.7V66.1M200.70 67.5V69.9M200.70 71.3V73.7M200.70 75.1V77.5M200.70 78.9V81.3M200.70 82.7V85.1M200.70 86.5V88.9M200.70 90.3V92.7M200.70 94.1V96.5M200.70 97.9V100.3M200.70 101.7V104.1M200.70 105.5V107.9M200.70 109.3V111.7M200.70 113.1V115.5M200.70 116.9V119.3M200.70 120.7V123.1M200.70 124.5V126.9M200.70 128.3V130.7M200.70 132.1V134.5M200.70 135.9V138.3M200.70 139.7V142.1M200.70 143.5V145.9M200.70 147.3V149.7M200.70 151.1V153.5M200.70 154.9V157.3M200.70 158.7V159.3M201.04 40.9V43.3M201.04 44.7V47.1M201.04 48.5V50.9M201.04 52.3V54.7M201.04 56.1V58.5M201.04 59.9V62.3M201.04 63.7V66.1M201.04 67.5V69.9M201.04 71.3V73.7M201.04 75.1V77.5M201.04 78.9V81.3M201.04 82.7V85.1M201.04 86.5V88.9M201.04 90.3V92.7M201.04 94.1V96.5M201.04 97.9V100.3M201.04 101.7V104.1M201.04 105.5V107.9M201.04 109.3V111.7M201.04 113.1V115.5M201.04 116.9V119.3M201.04 120.7V123.1M201.04 124.5V126.9M201.04 128.3V130.7M201.04 132.1V134.5M201.04 135.9V138.3M201.04 139.7V142.1M201.04 143.5V145.9M201.04 147.3V149.7M201.04 151.1V153.5M201.04 154.9V157.3M201.04 158.7V159.3M201.38 40.9V43.3M201.38 44.7V47.1M201.38 48.5V50.9M201.38 52.3V54.7M201.38 56.1V58.5M201.38 59.9V62.3M201.38 63.7V66.1M201.38 67.5V69.9M201.38 71.3V73.7M201.38 75.1V77.5M201.38 78.9V81.3M201.38 82.7V85.1M201.38 86.5V88.9M201.38 90.3V92.7M201.38 94.1V96.5M201.38 97.9V100.3M201.38 101.7V104.1M201.38 105.5V107.9M201.38 109.3V111.7M201.38 113.1V115.5M201.38 116.9V119.3M201.38 120.7V123.1M201.38 124.5V126.9M201.38 128.3V130.7M201.38 132.1V134.5M201.38 135.9V138.3M201.38 139.7V142.1M201.38 143.5V145.9M201.38 147.3V149.7M201.38 151.1V153.5M201.38 154.9V157.3M201.38 158.7V159.3M201.72 36.4V111.5M201.89 42.9V100.5M202.06 43.0V124.0M202.23 36.3V150.9M202.40 41.2V145.7M202.57 34.6V121.0M202.74 46.6V108.1M202.91 32.4V122.6M203.08 40.7V109.3M203.25 32.2V147.4M203.42 45.2V145.6M203.59 42.7V117.1M203.76 48.1V99.2M203.93 41.9V117.4M204.10 30.2V115.1M204.27 38.2V166.4M204.44 35.6V107.6M204.61 35.5V139.9M204.78 41.2V92.6M204.95 42.0V123.5M205.12 37.8V132.1M205.29 39.8V123.0M205.46 31.6V106.0M205.63 32.8V103.7M205.80 41.2V105.2M205.97 36.5V100.2M206.14 35.4V106.8M206.31 37.2V105.8M206.48 45.6V103.5M206.65 38.2V102.5M206.82 41.1V99.3M206.99 42.3V94.7M207.16 41.1V100.9M207.33 43.6V107.0M207.50 46.9V97.0M207.67 44.2V102.1M207.84 43.9V114.4M208.01 44.0V115.9M208.18 37.1V101.2M208.35 39.7V118.8M208.52 43.7V105.7M208.69 47.6V113.3M208.86 47.2V109.8M209.03 42.6V110.0M209.20 44.5V114.0M209.37 45.9V109.6M209.54 47.5V119.1M209.71 41.4V100.4M209.88 42.8V125.5M210.05 38.9V148.4M210.22 36.3V107.2M210.39 37.0V104.1M210.56 40.9V109.1M210.73 40.8V117.1M210.90 41.6V114.0M211.07 39.6V125.8M211.24 42.5V107.5M211.41 42.1V133.4M211.58 36.8V106.3M211.75 36.7V131.8M211.92 43.1V106.8M212.09 43.0V111.9M212.26 46.0V102.7M212.43 45.0V109.2M212.60 48.4V108.8M212.77 43.2V115.8M212.94 43.6V96.0M213.11 44.1V113.4M213.28 41.9V97.6M213.45 42.0V101.7M213.62 45.5V112.3M213.79 44.4V111.1M213.96 44.9V122.5M214.13 45.0V120.9M214.30 27.4V29.8M214.30 31.2V33.6M214.30 35.0V37.4M214.30 38.8V41.2M214.30 42.6V42.6M214.30 46.5V101.6M214.47 45.8V109.7M214.64 27.4V29.8M214.64 31.2V33.6M214.64 35.0V37.4M214.64 38.8V41.2M214.64 42.6V42.6M214.64 44.1V108.9M214.81 44.9V101.5M214.98 27.4V29.8M214.98 31.2V33.6M214.98 35.0V37.4M214.98 38.8V41.2M214.98 42.6V42.6M214.98 43.2V166.6M215.15 44.6V142.9M215.32 38.6V166.2M215.49 37.7V159.9M215.66 44.6V104.4M215.83 43.0V102.5M216.00 44.9V99.7M216.17 42.5V101.7M216.34 45.0V102.5M216.51 46.7V100.1M216.68 49.2V99.7M216.85 50.4V99.6M217.02 48.8V103.0M217.19 48.8V105.3M217.36 42.2V99.8M217.53 43.3V99.0M217.70 43.8V105.4M217.87 42.8V101.0M218.04 48.8V94.4M218.21 42.8V99.1M218.38 40.9V43.3M218.38 44.7V47.1M218.38 48.5V50.9M218.38 52.3V54.7M218.38 56.1V58.5M218.38 59.9V62.3M218.38 63.7V66.1M218.38 67.5V69.9M218.38 71.3V73.7M218.38 75.1V77.5M218.38 78.9V81.3M218.38 82.7V85.1M218.38 86.5V88.9M218.38 90.3V92.7M218.38 94.1V96.5M218.38 97.9V100.3M218.38 101.7V104.1M218.38 105.5V107.9M218.38 109.3V111.7M218.38 113.1V115.5M218.38 116.9V119.3M218.38 120.7V123.1M218.38 124.5V126.9M218.38 128.3V130.7M218.38 132.1V134.5M218.38 135.9V138.3M218.38 139.7V142.1M218.38 143.5V145.9M218.38 147.3V149.7M218.38 151.1V153.5M218.38 154.9V157.3M218.38 158.7V159.3M218.72 40.9V43.3M218.72 44.7V47.1M218.72 48.5V50.9M218.72 52.3V54.7M218.72 56.1V58.5M218.72 59.9V62.3M218.72 63.7V66.1M218.72 67.5V69.9M218.72 71.3V73.7M218.72 75.1V77.5M218.72 78.9V81.3M218.72 82.7V85.1M218.72 86.5V88.9M218.72 90.3V92.7M218.72 94.1V96.5M218.72 97.9V100.3M218.72 101.7V104.1M218.72 105.5V107.9M218.72 109.3V111.7M218.72 113.1V115.5M218.72 116.9V119.3M218.72 120.7V123.1M218.72 124.5V126.9M218.72 128.3V130.7M218.72 132.1V134.5M218.72 135.9V138.3M218.72 139.7V142.1M218.72 143.5V145.9M218.72 147.3V149.7M218.72 151.1V153.5M218.72 154.9V157.3M218.72 158.7V159.3M219.06 44.9V104.5M219.23 40.6V105.2M219.40 40.4V136.6M219.57 41.9V138.6M219.74 36.4V129.1M219.91 34.4V112.7M220.08 35.6V136.6M220.25 35.7V125.8M220.42 33.1V132.5M220.59 42.9V109.9M220.76 48.5V122.4M220.93 30.1V137.4M221.10 34.9V135.4M221.27 29.6V118.5M221.44 41.1V137.6M221.61 44.0V118.4M221.78 44.1V113.6M221.95 40.5V141.9M222.12 34.3V139.1M222.29 39.5V149.2M222.46 46.6V132.6M222.63 40.1V125.9M222.80 44.8V137.1M222.97 39.4V123.2M223.14 41.5V94.9M223.31 43.8V95.4M223.48 38.0V108.5M223.65 39.1V107.5M223.82 41.8V103.6M223.99 41.5V103.7M224.16 42.1V106.0M224.33 42.1V109.2M224.50 43.1V93.3M224.67 40.8V92.2M224.84 44.7V106.9M225.01 44.8V104.0M225.18 43.1V105.5M225.35 41.7V107.2M225.52 45.3V116.8M225.69 45.0V104.2M225.86 45.0V123.7M226.03 43.3V106.4M226.20 43.1V110.8M226.37 48.1V117.7M226.54 48.3V131.7M226.71 47.1V130.5M226.88 44.8V108.0M227.05 44.7V128.0M227.22 42.4V116.4M227.39 42.0V104.9M227.56 42.1V115.3M227.73 46.0V114.0M227.90 44.0V121.9M228.07 41.4V122.7M228.24 39.8V121.2M228.41 42.6V127.3M228.58 51.4V125.6M228.75 43.6V111.4M228.92 38.1V113.1M229.09 38.0V106.8M229.26 52.1V105.1M229.43 41.7V116.5M229.60 42.1V109.5M229.77 42.1V105.0M229.94 41.8V100.5M230.11 40.2V101.0M230.28 52.2V128.3M230.45 46.8V128.7M230.62 43.4V124.2M230.79 43.1V129.3M230.96 46.1V111.8M231.13 44.1V104.1M231.30 47.2V112.2M231.47 43.5V103.2M231.64 47.0V102.5M231.81 39.2V107.7M231.98 27.4V29.8M231.98 31.2V33.6M231.98 35.0V37.4M231.98 38.8V41.2M231.98 42.6V42.6M231.98 43.4V102.7M232.15 42.7V105.3M232.32 27.4V29.8M232.32 31.2V33.6M232.32 35.0V37.4M232.32 38.8V41.2M232.32 42.6V42.6M232.32 47.5V165.4M232.49 47.5V122.9M232.66 50.0V165.2M232.83 45.7V149.7M233.00 48.4V165.7M233.17 45.0V165.4M233.34 44.3V97.0M233.51 43.4V98.6M233.68 45.7V98.3M233.85 44.8V96.6M234.02 37.6V100.1M234.19 41.4V100.9M234.36 50.3V91.1M234.53 40.5V96.6M234.70 48.6V100.0M234.87 44.1V100.0M235.04 47.7V103.8M235.21 45.9V101.9M235.38 43.0V96.3M235.55 43.6V98.4M235.72 40.9V43.3M235.72 44.7V47.1M235.72 48.5V50.9M235.72 52.3V54.7M235.72 56.1V58.5M235.72 59.9V62.3M235.72 63.7V66.1M235.72 67.5V69.9M235.72 71.3V73.7M235.72 75.1V77.5M235.72 78.9V81.3M235.72 82.7V85.1M235.72 86.5V88.9M235.72 90.3V92.7M235.72 94.1V96.5M235.72 97.9V100.3M235.72 101.7V104.1M235.72 105.5V107.9M235.72 109.3V111.7M235.72 113.1V115.5M235.72 116.9V119.3M235.72 120.7V123.1M235.72 124.5V126.9M235.72 128.3V130.7M235.72 132.1V134.5M235.72 135.9V138.3M235.72 139.7V142.1M235.72 143.5V145.9M235.72 147.3V149.7M235.72 151.1V153.5M235.72 154.9V157.3M235.72 158.7V159.3M236.06 40.9V43.3M236.06 44.7V47.1M236.06 48.5V50.9M236.06 52.3V54.7M236.06 56.1V58.5M236.06 59.9V62.3M236.06 63.7V66.1M236.06 67.5V69.9M236.06 71.3V73.7M236.06 75.1V77.5M236.06 78.9V81.3M236.06 82.7V85.1M236.06 86.5V88.9M236.06 90.3V92.7M236.06 94.1V96.5M236.06 97.9V100.3M236.06 101.7V104.1M236.06 105.5V107.9M236.06 109.3V111.7M236.06 113.1V115.5M236.06 116.9V119.3M236.06 120.7V123.1M236.06 124.5V126.9M236.06 128.3V130.7M236.06 132.1V134.5M236.06 135.9V138.3M236.06 139.7V142.1M236.06 143.5V145.9M236.06 147.3V149.7M236.06 151.1V153.5M236.06 154.9V157.3M236.06 158.7V159.3M236.40 40.9V43.3M236.40 44.7V47.1M236.40 48.5V50.9M236.40 52.3V54.7M236.40 56.1V58.5M236.40 59.9V62.3M236.40 63.7V66.1M236.40 67.5V69.9M236.40 71.3V73.7M236.40 75.1V77.5M236.40 78.9V81.3M236.40 82.7V85.1M236.40 86.5V88.9M236.40 90.3V92.7M236.40 94.1V96.5M236.40 97.9V100.3M236.40 101.7V104.1M236.40 105.5V107.9M236.40 109.3V111.7M236.40 113.1V115.5M236.40 116.9V119.3M236.40 120.7V123.1M236.40 124.5V126.9M236.40 128.3V130.7M236.40 132.1V134.5M236.40 135.9V138.3M236.40 139.7V142.1M236.40 143.5V145.9M236.40 147.3V149.7M236.40 151.1V153.5M236.40 154.9V157.3M236.40 158.7V159.3M236.74 39.0V106.5M236.91 36.2V132.7M237.08 37.4V127.4M237.25 35.1V130.1M237.42 36.0V125.6M237.59 34.1V104.4M237.76 33.6V117.9M237.93 32.3V129.3M238.10 50.6V133.8M238.27 36.6V148.2M238.44 33.6V104.0M238.61 33.1V136.6M238.78 35.2V104.9M238.95 35.0V138.8M239.12 44.4V103.5M239.29 33.1V131.3M239.46 41.1V125.4M239.63 34.6V133.6M239.80 32.4V120.6M239.97 32.0V133.2M240.14 40.6V143.6M240.31 43.2V149.4M240.48 38.6V129.4M240.65 38.2V131.2M240.82 38.3V109.0M240.99 41.3V111.9M241.16 42.5V102.5M241.33 36.7V105.1M241.50 44.1V113.0M241.67 42.8V108.0M241.84 45.5V99.2M242.01 46.2V93.6M242.18 44.4V104.2M242.35 43.4V101.0M242.52 43.1V102.7M242.69 44.4V101.1M242.86 44.0V120.1M243.03 44.5V118.1M243.20 44.4V115.7M243.37 45.6V122.1M243.54 43.3V102.0M243.71 41.0V129.5M243.88 40.6V109.3M244.05 50.5V119.0M244.22 45.1V109.1M244.39 45.4V104.8M244.56 47.8V116.3M244.73 46.2V125.3M244.90 45.0V110.6M245.07 43.8V99.7M245.24 41.7V112.8M245.41 40.2V120.8M245.58 49.4V112.1M245.75 44.4V111.2M245.92 43.0V118.3M246.09 38.9V116.4M246.26 38.8V98.5M246.43 36.9V103.2M246.60 48.5V106.5M246.77 43.0V106.5M246.94 44.0V102.4M247.11 42.8V118.6M247.28 43.6V102.2M247.45 43.3V107.2M247.62 41.6V113.8M247.79 40.8V117.8M247.96 41.9V110.4M248.13 41.6V120.6M248.30 44.4V97.9M248.47 42.8V104.6M248.64 42.7V91.6M248.81 43.6V106.9M248.98 43.1V106.5M249.15 44.4V110.4M249.32 46.5V103.8M249.49 42.3V106.9M249.66 27.4V29.8M249.66 31.2V33.6M249.66 35.0V37.4M249.66 38.8V41.2M249.66 42.6V42.6M249.66 44.7V104.3M249.83 43.4V103.7M250.00 27.4V29.8M250.00 31.2V33.6M250.00 35.0V37.4M250.00 38.8V41.2M250.00 42.6V42.6M250.00 47.0V165.4M250.17 38.2V127.4M250.34 39.8V166.7M250.51 36.4V114.6" fill="none" stroke="#175da6" stroke-width="0.6"/><path d="M41.92 44.6V76.2M44.30 62.1V81.2M50.42 41.9V73.9M56.54 44.2V83.3M71.50 56.8V77.1M80.00 63.6V96.5M90.54 60.5V75.5M100.06 45.3V100.5M100.74 47.0V82.4M101.08 47.6V84.2M123.52 43.2V84.5M124.54 60.2V99.1M126.58 56.9V96.7M131.34 64.6V92.3M132.70 61.3V84.9M135.76 61.6V88.5M139.16 48.3V71.7M142.90 56.9V85.9M147.66 48.5V90.8M164.32 48.5V91.2M172.48 41.7V73.7M177.58 57.8V81.0M179.62 41.7V84.6M193.22 44.2V92.8M197.64 47.5V97.2M206.48 46.4V72.2M216.34 53.7V87.7M229.60 42.4V75.9M232.32 55.2V94.0" fill="none" stroke="#6d9fd0" stroke-width="0.5"/><path d="M40.5 169.5v-2.2M40.5 17.2v2.2M104.5 169.5v-2.2M104.5 17.2v2.2M168.4 169.5v-2.2M168.4 17.2v2.2M232.4 169.5v-2.2M232.4 17.2v2.2M40.5 169.5v-1.3M40.5 17.2v1.3M53.3 169.5v-1.3M53.3 17.2v1.3M66.1 169.5v-1.3M66.1 17.2v1.3M78.9 169.5v-1.3M78.9 17.2v1.3M91.7 169.5v-1.3M91.7 17.2v1.3M104.5 169.5v-1.3M104.5 17.2v1.3M117.3 169.5v-1.3M117.3 17.2v1.3M130.1 169.5v-1.3M130.1 17.2v1.3M142.9 169.5v-1.3M142.9 17.2v1.3M155.7 169.5v-1.3M155.7 17.2v1.3M168.4 169.5v-1.3M168.4 17.2v1.3M181.2 169.5v-1.3M181.2 17.2v1.3M194.0 169.5v-1.3M194.0 17.2v1.3M206.8 169.5v-1.3M206.8 17.2v1.3M219.6 169.5v-1.3M219.6 17.2v1.3M232.4 169.5v-1.3M232.4 17.2v1.3M245.2 169.5v-1.3M245.2 17.2v1.3M258.0 169.5v-1.3M258.0 17.2v1.3M270.8 169.5v-1.3M270.8 17.2v1.3M40.5 17.2h2.2M270.8 17.2h-2.2M40.5 51.0h2.2M270.8 51.0h-2.2M40.5 84.9h2.2M270.8 84.9h-2.2M40.5 118.7h2.2M270.8 118.7h-2.2M40.5 152.6h2.2M270.8 152.6h-2.2M40.5 166.1h1.3M270.8 166.1h-1.3M40.5 159.3h1.3M270.8 159.3h-1.3M40.5 152.6h1.3M270.8 152.6h-1.3M40.5 145.8h1.3M270.8 145.8h-1.3M40.5 139.0h1.3M270.8 139.0h-1.3M40.5 132.3h1.3M270.8 132.3h-1.3M40.5 125.5h1.3M270.8 125.5h-1.3M40.5 118.7h1.3M270.8 118.7h-1.3M40.5 112.0h1.3M270.8 112.0h-1.3M40.5 105.2h1.3M270.8 105.2h-1.3M40.5 98.4h1.3M270.8 98.4h-1.3M40.5 91.7h1.3M270.8 91.7h-1.3M40.5 84.9h1.3M270.8 84.9h-1.3M40.5 78.1h1.3M270.8 78.1h-1.3M40.5 71.4h1.3M270.8 71.4h-1.3M40.5 64.6h1.3M270.8 64.6h-1.3M40.5 57.8h1.3M270.8 57.8h-1.3M40.5 51.0h1.3M270.8 51.0h-1.3M40.5 44.3h1.3M270.8 44.3h-1.3M40.5 37.5h1.3M270.8 37.5h-1.3M40.5 30.7h1.3M270.8 30.7h-1.3M40.5 24.0h1.3M270.8 24.0h-1.3M40.5 17.2h1.3M270.8 17.2h-1.3" stroke="#262626" stroke-width="0.9" fill="none"/><rect x="40.5" y="17.2" width="230.3" height="152.3" fill="none" stroke="#262626" stroke-width="1.0"/><text x="36.5" y="20.8" font-size="10.5" text-anchor="end" fill="#262626" >1</text><text x="36.5" y="54.6" font-size="10.5" text-anchor="end" fill="#262626" >0</text><text x="36.5" y="88.5" font-size="10.5" text-anchor="end" fill="#262626" >−1</text><text x="36.5" y="122.3" font-size="10.5" text-anchor="end" fill="#262626" >−2</text><text x="36.5" y="156.2" font-size="10.5" text-anchor="end" fill="#262626" >−3</text><text x="40.7" y="182.7" font-size="10.5" text-anchor="middle" fill="#262626" >0</text><text x="104.6" y="182.7" font-size="10.5" text-anchor="middle" fill="#262626" >5000</text><text x="167.8" y="182.7" font-size="10.5" text-anchor="middle" fill="#262626" >10,000</text><text x="232.6" y="182.7" font-size="10.5" text-anchor="middle" fill="#262626" >15,000</text><text x="155.6" y="196.5" font-size="10.5" text-anchor="middle" fill="#262626" >Time (s)</text><text transform="translate(22.3,93.3) rotate(-90)" font-size="10.5" text-anchor="middle" fill="#262626">Current (A)</text><text x="5.6" y="14.8" font-size="10.8" text-anchor="start" fill="#262626" >(a)</text><path d="M519.0 99.0L524.0 104.5L528.3 111.0L530.8 121.0L532.3 132.0L533.8 145.0L535.3 157.0" fill="none" stroke="#1ea0e6" stroke-width="2.0" stroke-dasharray="3.5 1.8"/><path d="M341.24 53.0V55.1M341.58 51.2V53.3M341.92 51.7V53.8M353.14 56.9V59.0M363.34 64.2V66.3M369.80 65.6V67.7M371.16 66.9V69.0M371.50 66.3V68.4M384.76 72.4V74.5M403.80 83.6V85.7M414.68 85.9V88.0M427.94 91.8V93.9M428.96 91.8V93.9M429.30 92.8V94.9M438.14 91.8V93.9M470.90 84.0V92.0M471.24 84.1V91.9M471.58 84.2V93.1M471.92 84.1V92.1M472.26 84.3V93.2M472.60 84.3V92.2M472.94 84.7V92.5M473.28 84.8V93.0M473.62 84.5V92.3M473.96 84.6V92.6M474.30 84.9V92.6M474.64 85.2V94.2M474.98 85.3V94.0M475.32 85.5V94.5M475.66 85.2V94.2M476.00 85.2V92.9M476.34 85.3V94.5M476.68 85.4V93.8M477.02 86.0V94.2M477.36 85.9V94.2M477.70 86.0V94.3M478.04 86.2V95.3M478.38 85.9V93.5M478.72 86.0V93.2M477.92 101.4V103.5M479.06 86.6V94.4M479.40 86.4V95.6M479.74 86.4V94.3M480.08 86.6V94.2M480.42 86.5V94.5M480.76 86.7V93.8M481.10 87.2V95.1M480.30 103.6V105.7M481.44 87.2V95.3M481.78 87.1V94.5M482.12 87.2V96.3M482.46 87.3V94.9M482.80 87.3V95.0M483.14 87.4V95.7M483.48 87.6V96.9M483.82 87.6V96.8M484.16 87.8V96.0M484.50 88.3V97.1M484.84 88.4V96.7M485.18 88.1V96.7M485.52 88.4V95.7M485.86 88.2V97.4M486.20 88.7V97.6M485.40 106.4V108.5M486.54 88.9V96.7M485.74 105.7V107.8M486.88 88.6V96.6M487.22 88.6V97.6M487.56 87.6V95.2M487.90 87.5V96.6M488.24 87.5V95.8M488.58 87.5V95.7M488.92 87.6V96.6M489.26 87.6V94.9M489.60 88.2V95.8M489.94 88.1V96.9M490.28 88.0V97.3M490.62 88.2V95.8M490.96 88.1V97.3M491.30 88.3V97.5M491.64 88.6V97.9M490.84 102.9V105.0M491.98 89.0V98.4M492.32 88.7V98.1M492.66 88.9V98.3M491.86 103.4V105.5M493.00 88.9V96.2M493.34 89.4V97.5M493.68 89.2V97.5M494.02 89.8V97.3M494.36 89.8V97.4M494.70 89.8V97.9M495.04 89.8V97.1M495.38 90.1V98.9M494.58 103.8V105.9M495.72 90.5V97.9M494.92 103.7V105.8M496.06 90.5V98.0M496.40 90.5V99.5M496.74 90.9V98.9M497.08 90.9V98.2M497.42 91.1V99.9M497.76 91.3V99.1M498.10 91.2V100.1M498.44 91.0V100.2M498.78 91.6V100.6M499.12 91.4V100.4M499.46 91.7V99.4M499.80 91.6V100.8M500.14 91.9V99.9M500.48 92.0V100.9M499.68 111.8V113.9M500.82 92.0V100.8M501.16 92.5V101.9M501.50 92.4V100.6M501.84 92.5V100.5M502.18 92.9V100.9M502.52 92.8V101.3M502.86 93.3V101.4M503.20 93.3V101.4M503.54 93.5V101.7M503.88 93.1V101.7M504.22 93.5V101.5M504.56 93.6V101.0M504.90 94.0V102.6M505.24 92.4V101.1M505.58 92.4V100.9M505.92 92.6V102.1M506.26 92.7V100.4M506.60 92.6V100.8M506.94 93.1V101.8M507.28 93.3V102.2M506.48 108.1V110.2M507.62 93.2V101.5M506.82 107.3V109.4M507.96 93.5V102.6M507.16 109.2V111.3M508.30 93.6V101.3M508.64 93.9V102.6M508.98 93.6V102.2M509.32 93.8V101.7M509.66 94.2V102.6M510.00 94.5V104.0M510.34 94.6V103.0M510.68 94.7V102.4M511.02 94.6V104.0M510.22 110.7V112.8M511.36 94.9V102.6M511.70 95.1V102.9M512.04 95.3V103.3M512.38 95.5V104.0M512.72 95.4V104.5M513.06 96.0V105.5M513.40 96.3V104.7M513.74 96.4V105.2M514.08 96.2V105.3M514.42 96.5V105.0M514.76 96.9V105.6M515.10 96.9V106.4M515.44 97.0V105.9M515.78 97.3V106.9M516.12 97.9V107.1M516.46 98.1V107.4M516.80 98.2V107.4M517.14 98.1V107.3M516.34 114.5V116.6M517.48 98.5V106.8M517.82 98.8V108.3M518.16 98.6V106.6M518.50 98.8V108.0M518.84 99.2V109.0M519.18 99.6V109.3M519.52 100.3V109.6M519.86 100.7V110.2M519.06 116.3V118.4M520.20 101.2V110.8M520.54 101.5V109.7M520.88 101.9V110.3M521.22 102.0V111.8M521.56 102.9V111.4M521.90 103.2V112.1M522.24 103.9V112.7M522.58 102.5V112.0M522.92 102.6V110.2M523.26 103.5V108.8M523.60 103.9V111.3M523.94 104.3V110.8M524.28 104.5V111.0M524.62 104.7V109.6M524.96 105.3V111.5M525.30 106.0V111.7M525.64 106.8V111.7M525.98 107.4V114.3M526.32 108.6V113.7M526.66 109.3V116.6M527.00 109.9V116.2M527.34 110.5V116.9M527.68 111.1V117.9M528.02 112.1V119.1M528.36 112.8V118.4M528.70 113.4V119.5M529.04 114.2V121.7M529.38 115.2V120.2M529.72 116.5V122.9M530.06 117.4V122.7M530.40 118.8V126.5M530.74 119.6V125.7M531.08 122.5V128.0M531.42 124.9V130.0M531.76 128.1V135.6M532.10 130.8V136.1M532.44 133.7V139.3M532.78 136.8V141.8M533.12 139.6V146.7M533.46 142.5V149.9M533.80 145.7V151.3M534.14 149.0V156.4M534.48 151.6V158.7M534.82 154.9V161.8M535.16 157.6V164.1" fill="none" stroke="#1ea0e6" stroke-width="0.7"/><path d="M312.00 17.9V25.5M312.34 17.8V25.1M312.68 18.2V23.8M313.02 18.3V24.1M313.36 18.9V25.9M313.70 19.4V25.5M314.04 19.6V25.7M314.38 19.7V26.6M314.72 20.0V27.7M315.06 20.3V26.3M315.40 20.9V28.4M315.74 20.8V27.1M316.08 21.3V27.0M316.42 21.5V28.7M316.76 22.0V27.9M317.10 22.1V28.2M317.44 22.6V28.5M317.78 23.1V28.9M318.12 23.1V30.2M318.46 23.7V30.6M318.80 23.9V30.7M319.14 23.8V30.3M319.48 24.3V31.1M319.82 24.8V31.6M320.16 24.8V31.6M320.50 25.2V30.8M320.84 25.4V37.6M321.18 25.7V38.1M321.52 26.0V38.3M321.86 26.6V33.9M322.20 26.5V33.7M322.54 26.9V34.6M322.88 26.9V34.2M323.22 27.4V35.0M323.56 27.8V33.5M323.90 28.1V34.9M324.24 28.1V34.0M324.58 28.5V35.4M324.92 28.8V34.5M325.26 28.9V36.0M325.60 29.4V36.7M325.94 29.6V35.8M326.28 30.1V36.2M326.62 29.9V36.4M326.96 30.4V36.5M327.30 31.0V40.5M327.64 30.7V41.5M327.98 31.0V37.3M328.32 31.4V43.0M328.66 29.9V42.0M329.00 30.2V43.1M329.34 30.9V43.7M329.68 30.8V37.3M330.02 31.4V37.4M330.36 31.6V38.1M330.70 32.0V38.5M331.04 31.9V38.3M331.38 32.3V40.2M331.72 32.6V45.4M332.06 32.6V44.7M332.40 33.2V39.6M332.74 33.2V43.5M333.08 33.4V43.3M333.42 33.8V44.8M333.76 34.4V45.6M334.10 34.4V41.8M334.44 34.6V40.5M334.78 35.0V42.4M335.12 35.3V43.0M335.46 35.6V43.2M335.80 35.4V43.4M336.14 36.0V43.1M336.48 36.2V42.7M336.82 36.3V44.1M337.16 36.7V44.7M337.50 36.8V43.9M337.84 37.2V43.2M338.18 37.5V44.2M338.52 37.6V47.3M338.86 38.0V48.9M339.20 38.4V49.6M339.54 38.7V46.7M339.88 38.8V47.8M340.22 39.0V47.7M340.56 39.2V48.7M340.90 39.5V47.0M341.24 39.4V54.4M341.58 39.9V52.6M341.92 40.2V53.1M342.26 40.6V54.1M342.60 40.8V47.5M342.94 40.7V48.5M343.28 41.0V48.6M343.62 41.5V48.4M343.96 41.4V48.3M344.30 41.7V49.3M344.64 42.3V48.6M344.98 42.4V53.3M345.32 42.7V54.0M345.66 42.6V49.2M346.00 43.3V51.0M346.34 41.5V49.2M346.68 41.7V48.1M347.02 42.2V51.5M347.36 42.3V53.7M347.70 42.1V50.0M348.04 42.7V48.8M348.38 42.7V49.2M348.72 42.8V49.7M349.06 43.0V49.0M349.40 43.1V53.5M349.74 43.5V54.6M350.08 43.8V51.2M350.42 44.1V51.3M350.76 43.9V50.0M351.10 44.3V54.5M351.44 44.2V54.6M351.78 44.9V54.9M352.12 44.7V52.5M352.46 44.9V51.0M352.80 44.9V53.1M353.14 45.1V58.3M353.48 45.5V57.4M353.82 45.5V58.3M354.16 45.9V52.3M354.50 46.3V54.3M354.84 46.2V53.1M355.18 46.2V52.4M355.52 46.6V52.9M355.86 47.1V54.6M356.20 46.9V54.3M356.54 47.0V55.1M356.88 47.4V55.0M357.22 47.4V54.6M357.56 47.9V58.3M357.90 47.7V58.1M358.24 48.3V59.0M358.58 48.6V59.3M358.92 48.8V55.0M359.26 48.8V56.1M359.60 48.9V57.0M359.94 48.9V56.2M360.28 49.3V57.5M360.62 49.8V56.4M360.96 49.6V55.8M361.30 49.8V58.1M361.64 50.5V58.4M361.98 50.4V57.6M362.32 50.7V58.7M362.66 50.6V57.2M363.00 51.2V64.7M363.34 51.0V65.6M363.68 51.3V65.0M364.02 50.4V57.7M364.36 50.6V58.8M364.70 50.9V57.9M365.04 50.8V57.0M365.38 50.9V57.9M365.72 51.0V59.1M366.06 51.3V57.8M366.40 51.4V57.7M366.74 52.0V59.4M367.08 52.1V64.3M367.42 52.2V64.9M367.76 52.8V66.6M368.10 52.5V65.8M368.44 53.1V60.1M368.78 53.3V61.7M369.12 53.5V61.4M369.46 53.8V69.1M369.80 53.5V67.0M370.14 54.0V67.8M370.48 54.5V62.9M370.82 54.2V62.0M371.16 54.4V68.3M371.50 54.6V67.7M371.84 55.2V61.9M372.18 55.4V63.8M372.52 55.5V62.8M372.86 56.0V69.1M373.20 56.1V67.8M373.54 56.3V62.7M373.88 56.6V69.3M374.22 56.7V69.3M374.56 56.8V65.0M374.90 57.0V64.2M375.24 57.3V64.7M375.58 57.3V64.3M375.92 57.5V64.8M376.26 57.9V66.0M376.60 58.1V66.3M376.94 58.0V65.2M377.28 58.5V65.2M377.62 58.5V69.2M377.96 58.7V70.3M378.30 58.9V65.8M378.64 58.6V67.1M378.98 59.3V66.8M379.32 59.3V66.0M379.66 59.4V67.1M380.00 59.7V66.6M380.34 59.5V76.1M380.68 59.7V76.0M381.02 59.9V75.9M381.36 58.6V65.4M381.70 58.9V66.7M382.04 59.0V65.7M382.38 59.3V66.5M382.72 59.2V67.1M383.06 59.3V67.8M383.40 59.7V68.0M383.74 59.7V67.1M384.08 59.8V66.9M384.42 60.1V68.3M384.76 60.3V73.8M385.10 60.4V72.0M385.44 60.4V73.4M385.78 60.6V73.8M386.12 61.3V68.3M386.46 60.9V68.9M386.80 61.3V69.2M387.14 61.6V74.1M387.48 61.8V72.5M387.82 62.0V69.5M388.16 62.3V73.1M388.50 61.9V73.4M388.84 62.2V70.5M389.18 62.6V70.8M389.52 62.8V71.4M389.86 63.0V71.0M390.20 62.9V70.5M390.54 63.0V70.3M390.88 63.3V70.8M391.22 63.4V70.6M391.56 63.6V70.6M391.90 63.9V70.7M392.24 63.8V75.0M392.58 64.3V76.1M392.92 64.1V72.5M393.26 64.5V72.8M393.60 64.6V71.9M393.94 64.9V71.6M394.28 65.3V72.2M394.62 65.4V73.5M394.96 65.5V75.6M395.30 65.7V76.4M395.64 65.6V72.7M395.98 65.6V74.2M396.32 66.3V73.9M396.66 66.3V74.5M397.00 66.3V74.0M397.34 66.5V74.0M397.68 66.8V78.6M398.02 66.8V77.9M398.36 67.3V77.8M398.70 67.3V79.3M399.04 65.6V74.5M399.38 65.6V72.9M399.72 66.0V74.1M400.06 66.3V74.6M400.40 66.6V73.4M400.74 66.6V74.2M401.08 66.9V74.7M401.42 66.8V73.6M401.76 67.0V74.7M402.10 67.1V74.7M402.44 67.5V75.0M402.78 67.8V84.0M403.12 67.7V83.9M403.46 68.2V84.1M403.80 67.9V85.0M404.14 68.5V76.6M404.48 68.5V76.1M404.82 68.5V75.6M405.16 68.5V76.7M405.50 68.8V75.7M405.84 68.9V76.0M406.18 69.1V76.8M406.52 69.7V77.7M406.86 69.7V76.7M407.20 69.8V81.5M407.54 70.2V81.6M407.88 70.1V82.3M408.22 69.9V78.5M408.56 70.4V78.9M408.90 70.4V77.4M409.24 70.4V85.5M409.58 71.0V84.0M409.92 70.9V78.4M410.26 70.9V78.5M410.60 71.1V78.5M410.94 71.2V80.2M411.28 71.5V79.7M411.62 71.8V79.4M411.96 72.1V79.6M412.30 71.8V78.7M412.64 72.0V79.0M412.98 72.3V80.5M413.32 72.1V81.1M413.66 72.7V80.8M414.00 73.0V81.0M414.34 72.7V87.2M414.68 72.7V87.3M415.02 73.4V86.2M415.36 73.1V87.0M415.70 73.6V80.6M416.04 73.6V80.8M416.38 71.9V79.2M416.72 72.1V81.1M417.06 72.5V80.0M417.40 72.6V79.6M417.74 72.6V80.9M418.08 73.0V81.3M418.42 73.3V82.4M418.76 73.4V81.4M419.10 73.5V81.0M419.44 73.7V81.2M419.78 73.9V80.9M420.12 74.0V82.0M420.46 74.1V82.3M420.80 74.3V82.8M421.14 74.3V83.4M421.48 74.2V83.2M421.82 74.5V83.1M422.16 74.8V82.6M422.50 74.8V84.0M422.84 74.9V84.0M423.18 74.8V83.1M423.52 75.3V83.2M423.86 75.1V83.9M424.20 75.6V83.5M424.54 75.4V89.2M424.88 75.9V89.6M425.22 75.7V90.0M425.56 75.9V89.4M425.90 76.4V84.5M426.24 76.2V84.6M426.58 76.5V84.4M426.92 76.6V94.4M427.26 76.5V93.9M427.60 77.0V93.2M427.94 77.1V93.2M428.28 77.2V84.4M428.62 77.5V86.1M428.96 77.3V93.2M429.30 77.5V94.2M429.64 77.8V93.2M429.98 78.0V95.5M430.32 78.1V85.3M430.66 78.1V86.3M431.00 78.3V85.5M431.34 78.1V86.3M431.68 78.1V86.7M432.02 78.7V87.8M432.36 78.4V90.1M432.70 79.1V89.6M433.04 79.0V89.9M433.38 79.3V87.8M433.72 79.4V86.7M434.06 77.8V85.8M434.40 77.6V85.7M434.74 78.1V86.6M435.08 78.1V90.0M435.42 78.2V90.6M435.76 78.6V87.7M436.10 78.4V86.7M436.44 78.5V86.9M436.78 78.5V87.9M437.12 78.8V86.1M437.46 78.9V88.2M437.80 79.0V92.7M438.14 79.4V93.2M438.48 79.2V93.7M438.82 79.4V95.0M439.16 79.7V87.8M439.50 79.5V87.9M439.84 79.7V88.8M440.18 79.9V87.8M440.52 79.9V88.0M440.86 80.0V87.3M441.20 80.2V89.0M441.54 79.8V87.6M441.88 80.0V88.4M442.22 80.5V89.9M442.56 80.4V87.9M442.90 80.7V90.1M443.24 80.2V89.0M443.58 80.7V89.4M443.92 80.8V88.1M444.26 80.6V88.7M444.60 80.9V88.4M444.94 80.8V88.5M445.28 80.7V89.1M445.62 80.9V89.3M445.96 81.0V90.0M446.30 81.0V90.0M446.64 81.4V89.1M446.98 81.3V89.5M447.32 81.5V90.3M447.66 81.3V89.0M448.00 81.8V89.3M448.34 82.0V90.1M448.68 81.6V90.6M449.02 81.8V91.3M449.36 82.3V91.6M449.70 82.3V89.9M450.04 81.9V90.2M450.38 82.2V95.5M450.72 82.5V96.9M451.06 82.5V91.9M451.40 82.3V89.7M451.74 81.0V90.3M452.08 81.0V88.7M452.42 81.0V88.9M452.76 81.5V89.6M453.10 81.6V93.9M453.44 81.6V94.3M453.78 81.4V89.2M454.12 81.5V88.9M454.46 82.0V97.4M454.80 81.7V98.5M455.14 82.0V96.8M455.48 81.8V89.9M455.82 82.3V91.8M456.16 81.9V91.2M456.50 82.4V90.0M456.84 82.1V91.5M457.18 82.2V91.7M457.52 82.5V100.7M457.86 82.4V100.9M458.20 82.4V91.7M458.54 83.0V92.6M458.88 82.9V91.7M459.22 82.7V92.4M459.56 83.2V92.1M459.90 83.2V92.6M460.24 83.1V90.9M460.58 83.6V91.2M460.92 83.2V91.8M461.26 83.2V94.8M461.60 83.8V96.1M461.94 83.7V94.5M462.28 83.7V94.8M462.62 83.7V92.1M462.96 83.8V92.1M463.30 84.1V92.7M463.64 84.3V92.6M463.98 83.9V92.3M464.32 84.5V92.8M464.66 84.5V93.6M465.00 84.3V97.2M465.34 84.3V97.5M465.68 84.7V92.9M466.02 84.9V92.6M466.36 84.9V92.9M466.70 85.1V93.0M467.04 85.2V93.7M467.38 84.9V92.6M467.72 84.9V103.4M468.06 85.5V103.2M468.40 85.0V92.9M468.74 85.4V94.2M469.08 84.1V93.7M469.42 83.7V92.8M469.76 84.2V93.6M470.10 84.2V92.9M470.44 84.3V92.8M470.78 84.4V94.0M471.12 84.3V93.0M471.46 84.5V94.1M471.80 84.5V93.1M472.14 84.9V93.4M472.48 85.0V93.9M472.82 84.7V96.4M473.16 84.8V97.0M473.50 85.1V96.7M473.84 85.4V95.1M474.18 85.5V94.9M474.52 85.7V95.4M474.86 85.4V95.1M475.20 85.4V100.3M475.54 85.5V103.2M475.88 85.6V94.7M476.22 86.2V99.6M476.56 86.1V99.5M476.90 86.2V99.0M477.24 86.4V99.9M477.58 86.1V94.4M477.92 86.2V102.8M478.26 86.8V103.7M478.60 86.6V96.5M478.94 86.6V95.2M479.28 86.8V95.1M479.62 86.7V95.4M479.96 86.9V94.7M480.30 87.4V105.0M480.64 87.4V104.4M480.98 87.3V103.6M481.32 87.4V97.2M481.66 87.5V95.8M482.00 87.5V95.9M482.34 87.6V96.6M482.68 87.8V97.8M483.02 87.8V97.7M483.36 88.0V96.9M483.70 88.5V98.0M484.04 88.6V97.6M484.38 88.3V97.6M484.72 88.6V96.6M485.06 88.4V98.3M485.40 88.9V107.8M485.74 89.1V107.1M486.08 88.8V97.5M486.42 88.8V98.5M486.76 87.8V96.1M487.10 87.7V97.5M487.44 87.7V96.7M487.78 87.7V96.6M488.12 87.8V97.5M488.46 87.8V95.8M488.80 88.4V100.9M489.14 88.3V101.8M489.48 88.2V102.3M489.82 88.4V101.2M490.16 88.3V98.2M490.50 88.5V98.4M490.84 88.8V104.3M491.18 89.2V105.2M491.52 88.9V105.5M491.86 89.1V104.8M492.20 89.1V97.1M492.54 89.6V98.4M492.88 89.4V98.4M493.22 90.0V98.2M493.56 90.0V98.3M493.90 90.0V98.8M494.24 90.0V103.4M494.58 90.3V105.2M494.92 90.7V105.1M495.26 90.7V105.3M495.60 90.7V100.4M495.94 91.1V99.8M496.28 91.1V99.1M496.62 91.3V100.8M496.96 91.5V100.0M497.30 91.4V101.0M497.64 91.2V103.6M497.98 91.8V104.2M498.32 91.6V101.3M498.66 91.9V100.3M499.00 91.8V101.7M499.34 92.1V100.8M499.68 92.2V113.2M500.02 92.2V111.4M500.36 92.7V114.5M500.70 92.6V101.5M501.04 92.7V101.4M501.38 93.1V101.8M501.72 93.0V102.2M502.06 93.5V102.3M502.40 93.5V102.3M502.74 93.7V102.6M503.08 93.3V102.6M503.42 93.7V102.4M503.76 93.8V101.9M504.10 94.2V103.5M504.44 92.6V102.0M504.78 92.6V101.8M505.12 92.8V103.0M505.46 92.9V101.3M505.80 92.8V101.7M506.14 93.3V102.7M506.48 93.5V109.5M506.82 93.4V108.7M507.16 93.7V110.6M507.50 93.8V102.2M507.84 94.1V103.5M508.18 93.8V106.6M508.52 94.0V106.2M508.86 94.4V103.5M509.20 94.7V104.9M509.54 94.8V103.9M509.88 94.9V110.4M510.22 94.8V112.1M510.56 95.1V111.1M510.90 95.3V110.7M511.24 95.5V104.2M511.58 95.7V104.9M511.92 95.6V105.4M512.26 96.2V106.4M512.60 96.5V109.7M512.94 96.6V110.7M513.28 96.4V106.2M513.62 96.7V105.9M513.96 97.1V106.5M514.30 97.1V107.3M514.64 97.2V106.8M514.98 97.5V107.8M515.32 98.1V108.0M515.66 98.3V108.3M516.00 98.4V115.3M516.34 98.3V115.9M516.68 98.7V115.2M517.02 99.0V115.6M517.36 98.8V107.5M517.70 99.0V108.9M518.04 99.4V109.9M518.38 99.8V110.2M518.72 100.5V110.5M519.06 100.9V117.7M519.40 101.4V118.4M519.74 101.7V116.5M520.08 102.1V111.2M520.42 102.2V112.7M520.76 103.1V112.3M521.10 103.4V113.0M521.44 104.1V113.6M521.78 102.7V116.0M522.12 102.8V112.0M522.46 103.7V110.5M522.80 104.1V112.2M523.14 104.5V111.7M523.48 104.7V111.9M523.82 104.9V110.5M524.16 105.5V112.4M524.50 106.2V112.6M524.84 107.0V115.7M525.18 107.6V118.3M525.52 108.8V117.7M525.86 109.5V120.5M526.20 110.1V117.1M526.54 110.7V117.8M526.88 111.3V118.8M527.22 112.3V120.0M527.56 113.0V119.3M527.90 113.6V120.4M528.24 114.4V122.6M528.58 115.4V122.3M528.92 116.7V125.0M529.26 117.6V124.9M529.60 119.0V127.4M529.94 119.8V126.6M530.28 122.7V128.9M530.62 125.1V130.9M530.96 128.3V136.5M531.30 131.0V137.0M531.64 133.9V140.2M531.98 137.0V142.7M532.32 139.8V147.6M532.66 142.7V151.8M533.00 145.9V153.3M533.34 149.2V157.3M533.68 151.8V158.9M534.02 155.1V158.9M534.36 157.8V158.9" fill="none" stroke="#f09614" stroke-width="0.7"/><path d="M312.00 18.5V23.8M312.34 18.4V23.4M312.68 18.8V22.1M313.02 18.9V22.4M313.36 19.5V24.2M313.70 20.0V23.8M314.04 20.2V24.0M314.38 20.3V24.9M314.72 20.6V26.0M315.06 20.9V24.6M315.40 21.5V26.7M315.74 21.4V25.4M316.08 21.9V25.3M316.42 22.1V27.0M316.76 22.6V26.2M317.10 22.7V26.5M317.44 23.2V26.8M317.78 23.7V27.2M318.12 23.7V28.5M318.46 24.3V28.9M318.80 24.5V29.0M319.14 24.4V28.6M319.48 24.9V29.4M319.82 25.4V29.9M320.16 25.4V29.9M320.50 25.8V29.1M320.84 26.0V35.2M321.18 26.3V35.8M321.52 26.6V35.9M321.86 27.2V32.2M322.20 27.1V32.0M322.54 27.5V32.9M322.88 27.5V32.5M323.22 28.0V33.3M323.56 28.4V31.8M323.90 28.7V33.2M324.24 28.7V32.3M324.58 29.1V33.7M324.92 29.4V32.8M325.26 29.5V34.3M325.60 30.0V35.0M325.94 30.2V34.1M326.28 30.7V34.5M326.62 30.5V34.7M326.96 31.0V34.8M327.30 31.6V38.4M327.64 31.3V39.3M327.98 31.6V35.6M328.32 32.0V40.6M328.66 30.5V39.7M329.00 30.8V40.7M329.34 31.5V41.4M329.68 31.4V35.6M330.02 32.0V35.7M330.36 32.2V36.4M330.70 32.6V36.8M331.04 32.5V36.6M331.38 32.9V38.5M331.72 33.2V43.0M332.06 33.2V42.4M332.40 33.8V37.9M332.74 33.8V41.4M333.08 34.0V41.1M333.42 34.4V42.6M333.76 35.0V43.4M334.10 35.0V40.1M334.44 35.2V38.8M334.78 35.6V40.7M335.12 35.9V41.3M335.46 36.2V41.5M335.80 36.0V41.7M336.14 36.6V41.4M336.48 36.8V41.0M336.82 36.9V42.4M337.16 37.3V43.0M337.50 37.4V42.2M337.84 37.8V41.5M338.18 38.1V42.5M338.52 38.2V45.2M338.86 38.6V46.8M339.20 39.0V47.5M339.54 39.3V45.0M339.88 39.4V45.8M340.22 39.6V45.7M340.56 39.8V46.6M340.90 40.1V45.3M341.24 40.0V51.8M341.58 40.5V50.1M341.92 40.8V50.7M342.26 41.2V51.5M342.60 41.4V45.8M342.94 41.3V46.8M343.28 41.6V46.9M343.62 42.1V46.7M343.96 42.0V46.6M344.30 42.3V47.6M344.64 42.9V46.9M344.98 43.0V51.0M345.32 43.3V51.7M345.66 43.2V47.5M346.00 43.9V49.3M346.34 42.1V47.5M346.68 42.3V46.4M347.02 42.8V49.4M347.36 42.9V51.6M347.70 42.7V48.3M348.04 43.3V47.1M348.38 43.3V47.5M348.72 43.4V48.0M349.06 43.6V47.3M349.40 43.7V51.4M349.74 44.1V52.5M350.08 44.4V49.5M350.42 44.7V49.6M350.76 44.5V48.3M351.10 44.9V52.4M351.44 44.8V52.5M351.78 45.5V52.9M352.12 45.3V50.8M352.46 45.5V49.3M352.80 45.5V51.4M353.14 45.7V56.0M353.48 46.1V55.1M353.82 46.1V55.9M354.16 46.5V50.6M354.50 46.9V52.6M354.84 46.8V51.4M355.18 46.8V50.7M355.52 47.2V51.2M355.86 47.7V52.9M356.20 47.5V52.6M356.54 47.6V53.4M356.88 48.0V53.3M357.22 48.0V52.9M357.56 48.5V56.2M357.90 48.3V56.0M358.24 48.9V56.9M358.58 49.2V57.2M358.92 49.4V53.3M359.26 49.4V54.4M359.60 49.5V55.3M359.94 49.5V54.5M360.28 49.9V55.8M360.62 50.4V54.7M360.96 50.2V54.1M361.30 50.4V56.4M361.64 51.1V56.7M361.98 51.0V55.9M362.32 51.3V57.0M362.66 51.2V55.5M363.00 51.8V62.2M363.34 51.6V63.1M363.68 51.9V62.5M364.02 51.0V56.0M364.36 51.2V57.1M364.70 51.5V56.2M365.04 51.4V55.3M365.38 51.5V56.2M365.72 51.6V57.4M366.06 51.9V56.1M366.40 52.0V56.0M366.74 52.6V57.7M367.08 52.7V62.0M367.42 52.8V62.6M367.76 53.4V64.2M368.10 53.1V63.5M368.44 53.7V58.4M368.78 53.9V60.0M369.12 54.1V59.7M369.46 54.4V66.5M369.80 54.1V64.5M370.14 54.6V65.2M370.48 55.1V61.2M370.82 54.8V60.3M371.16 55.0V66.0M371.50 55.2V65.2M371.84 55.8V60.2M372.18 56.0V62.1M372.52 56.1V61.1M372.86 56.6V66.6M373.20 56.7V65.4M373.54 56.9V61.0M373.88 57.2V67.1M374.22 57.3V67.1M374.56 57.4V63.3M374.90 57.6V62.5M375.24 57.9V63.0M375.58 57.9V62.6M375.92 58.1V63.1M376.26 58.5V64.3M376.60 58.7V64.6M376.94 58.6V63.5M377.28 59.1V63.5M377.62 59.1V67.1M377.96 59.3V68.1M378.30 59.5V64.1M378.64 59.2V65.4M378.98 59.9V65.1M379.32 59.9V64.3M379.66 60.0V65.4M380.00 60.3V64.9M380.34 60.1V73.4M380.68 60.3V73.3M381.02 60.5V73.3M381.36 59.2V63.7M381.70 59.5V65.0M382.04 59.6V64.0M382.38 59.9V64.8M382.72 59.8V65.4M383.06 59.9V66.1M383.40 60.3V66.3M383.74 60.3V65.4M384.08 60.4V65.2M384.42 60.7V66.6M384.76 60.9V71.5M385.10 61.0V69.7M385.44 61.0V71.0M385.78 61.2V71.5M386.12 61.9V66.6M386.46 61.5V67.2M386.80 61.9V67.5M387.14 62.2V72.0M387.48 62.4V70.4M387.82 62.6V67.8M388.16 62.9V71.0M388.50 62.5V71.3M388.84 62.8V68.8M389.18 63.2V69.1M389.52 63.4V69.7M389.86 63.6V69.3M390.20 63.5V68.8M390.54 63.6V68.6M390.88 63.9V69.1M391.22 64.0V68.9M391.56 64.2V68.9M391.90 64.5V69.0M392.24 64.4V72.8M392.58 64.9V73.9M392.92 64.7V70.8M393.26 65.1V71.1M393.60 65.2V70.2M393.94 65.5V69.9M394.28 65.9V70.5M394.62 66.0V71.8M394.96 66.1V73.5M395.30 66.3V74.3M395.64 66.2V71.0M395.98 66.2V72.5M396.32 66.9V72.2M396.66 66.9V72.8M397.00 66.9V72.3M397.34 67.1V72.3M397.68 67.4V76.4M398.02 67.4V75.8M398.36 67.9V75.6M398.70 67.9V77.1M399.04 66.2V72.8M399.38 66.2V71.2M399.72 66.6V72.4M400.06 66.9V72.9M400.40 67.2V71.7M400.74 67.2V72.5M401.08 67.5V73.0M401.42 67.4V71.9M401.76 67.6V73.0M402.10 67.7V73.0M402.44 68.1V73.3M402.78 68.4V81.3M403.12 68.3V81.3M403.46 68.8V81.3M403.80 68.5V82.3M404.14 69.1V74.9M404.48 69.1V74.4M404.82 69.1V73.9M405.16 69.1V75.0M405.50 69.4V74.0M405.84 69.5V74.3M406.18 69.7V75.1M406.52 70.3V76.0M406.86 70.3V75.0M407.20 70.4V79.5M407.54 70.8V79.5M407.88 70.7V80.2M408.22 70.5V76.8M408.56 71.0V77.2M408.90 71.0V75.7M409.24 71.0V83.0M409.58 71.6V81.6M409.92 71.5V76.7M410.26 71.5V76.8M410.60 71.7V76.8M410.94 71.8V78.5M411.28 72.1V78.0M411.62 72.4V77.7M411.96 72.7V77.9M412.30 72.4V77.0M412.64 72.6V77.3M412.98 72.9V78.8M413.32 72.7V79.4M413.66 73.3V79.1M414.00 73.6V79.3M414.34 73.3V84.8M414.68 73.3V84.8M415.02 74.0V83.8M415.36 73.7V84.7M415.70 74.2V78.9M416.04 74.2V79.1M416.38 72.5V77.5M416.72 72.7V79.4M417.06 73.1V78.3M417.40 73.2V77.9M417.74 73.2V79.2M418.08 73.6V79.6M418.42 73.9V80.7M418.76 74.0V79.7M419.10 74.1V79.3M419.44 74.3V79.5M419.78 74.5V79.2M420.12 74.6V80.3M420.46 74.7V80.6M420.80 74.9V81.1M421.14 74.9V81.7M421.48 74.8V81.5M421.82 75.1V81.4M422.16 75.4V80.9M422.50 75.4V82.3M422.84 75.5V82.3M423.18 75.4V81.4M423.52 75.9V81.5M423.86 75.7V82.2M424.20 76.2V81.8M424.54 76.0V86.9M424.88 76.5V87.4M425.22 76.3V87.6M425.56 76.5V87.0M425.90 77.0V82.8M426.24 76.8V82.9M426.58 77.1V82.7M426.92 77.2V91.6M427.26 77.1V91.1M427.60 77.6V90.6M427.94 77.7V90.4M428.28 77.8V82.7M428.62 78.1V84.4M428.96 77.9V90.6M429.30 78.1V91.6M429.64 78.4V90.6M429.98 78.6V92.8M430.32 78.7V83.6M430.66 78.7V84.6M431.00 78.9V83.8M431.34 78.7V84.6M431.68 78.7V85.0M432.02 79.3V86.1M432.36 79.0V88.0M432.70 79.7V87.5M433.04 79.6V87.8M433.38 79.9V86.1M433.72 80.0V85.0M434.06 78.4V84.1M434.40 78.2V84.0M434.74 78.7V84.9M435.08 78.7V87.8M435.42 78.8V88.4M435.76 79.2V86.0M436.10 79.0V85.0M436.44 79.1V85.2M436.78 79.1V86.2M437.12 79.4V84.4M437.46 79.5V86.5M437.80 79.6V90.3M438.14 80.0V90.8M438.48 79.8V91.3M438.82 80.0V92.5M439.16 80.3V86.1M439.50 80.1V86.2M439.84 80.3V87.1M440.18 80.5V86.1M440.52 80.5V86.3M440.86 80.6V85.6M441.20 80.8V87.3M441.54 80.4V85.9M441.88 80.6V86.7M442.22 81.1V88.2M442.56 81.0V86.2M442.90 81.3V88.4M443.24 80.8V87.3M443.58 81.3V87.7M443.92 81.4V86.4M444.26 81.2V87.0M444.60 81.5V86.7M444.94 81.4V86.8M445.28 81.3V87.4M445.62 81.5V87.6M445.96 81.6V88.3M446.30 81.6V88.3M446.64 82.0V87.4M446.98 81.9V87.8M447.32 82.1V88.6M447.66 81.9V87.3M448.00 82.4V87.6M448.34 82.6V88.4M448.68 82.2V88.9M449.02 82.4V89.6M449.36 82.9V89.9M449.70 82.9V88.2M450.04 82.5V88.5M450.38 82.8V93.2M450.72 83.1V94.6M451.06 83.1V90.2M451.40 82.9V88.0M451.74 81.6V88.6M452.08 81.6V87.0M452.42 81.6V87.2M452.76 82.1V87.9M453.10 82.2V91.9M453.44 82.2V92.2M453.78 82.0V87.5M454.12 82.1V87.2M454.46 82.6V94.8M454.80 82.3V95.8M455.14 82.6V94.2M455.48 82.4V88.2M455.82 82.9V90.1M456.16 82.5V89.5M456.50 83.0V88.3M456.84 82.7V89.8M457.18 82.8V90.0M457.52 83.1V98.0M457.86 83.0V98.0M458.20 83.0V90.0M458.54 83.6V90.9M458.88 83.5V90.0M459.22 83.3V90.7M459.56 83.8V90.4M459.90 83.8V90.9M460.24 83.7V89.2M460.58 84.2V89.5M460.92 83.8V90.1M461.26 83.8V92.7M461.60 84.4V94.0M461.94 84.3V92.5M462.28 84.3V92.7M462.62 84.3V90.4M462.96 84.4V90.4M463.30 84.7V91.0M463.64 84.9V90.9M463.98 84.5V90.6M464.32 85.1V91.1M464.66 85.1V91.9M465.00 84.9V94.9M465.34 84.9V95.3M465.68 85.3V91.2M466.02 85.5V90.9M466.36 85.5V91.2M466.70 85.7V91.3M467.04 85.8V92.0M467.38 85.5V90.9M467.72 85.5V100.5M468.06 86.1V100.4M468.40 85.6V91.2M468.74 86.0V92.5M469.08 84.7V92.0M469.42 84.3V91.1M469.76 84.8V91.9M470.10 84.8V91.2M470.44 84.9V91.1M470.78 85.0V92.3M471.12 84.9V91.3M471.46 85.1V92.4M471.80 85.1V91.4M472.14 85.5V91.7M472.48 85.6V92.2M472.82 85.3V94.3M473.16 85.4V94.9M473.50 85.7V94.6M473.84 86.0V93.4M474.18 86.1V93.2M474.52 86.3V93.7M474.86 86.0V93.4M475.20 86.0V97.8M475.54 86.1V100.5M475.88 86.2V93.0M476.22 86.8V97.4M476.56 86.7V97.2M476.90 86.8V96.8M477.24 87.0V97.8M477.58 86.7V92.7M477.92 86.8V100.0M478.26 87.4V101.0M478.60 87.2V94.8M478.94 87.2V93.5M479.28 87.4V93.4M479.62 87.3V93.7M479.96 87.5V93.0M480.30 88.0V102.2M480.64 88.0V101.7M480.98 87.9V100.9M481.32 88.0V95.5M481.66 88.1V94.1M482.00 88.1V94.2M482.34 88.2V94.9M482.68 88.4V96.1M483.02 88.4V96.0M483.36 88.6V95.2M483.70 89.1V96.3M484.04 89.2V95.9M484.38 88.9V95.9M484.72 89.2V94.9M485.06 89.0V96.6M485.40 89.5V105.0M485.74 89.7V104.3M486.08 89.4V95.8M486.42 89.4V96.8M486.76 88.4V94.4M487.10 88.3V95.8M487.44 88.3V95.0M487.78 88.3V94.9M488.12 88.4V95.8M488.46 88.4V94.1M488.80 89.0V98.7M489.14 88.9V99.7M489.48 88.8V100.1M489.82 89.0V99.0M490.16 88.9V96.5M490.50 89.1V96.7M490.84 89.4V102.0M491.18 89.8V102.7M491.52 89.5V103.0M491.86 89.7V102.4M492.20 89.7V95.4M492.54 90.2V96.7M492.88 90.0V96.7M493.22 90.6V96.5M493.56 90.6V96.6M493.90 90.6V97.1M494.24 90.6V101.1M494.58 90.9V102.8M494.92 91.3V102.7M495.26 91.3V102.8M495.60 91.3V98.7M495.94 91.7V98.1M496.28 91.7V97.4M496.62 91.9V99.1M496.96 92.1V98.3M497.30 92.0V99.3M497.64 91.8V101.6M497.98 92.4V102.2M498.32 92.2V99.6M498.66 92.5V98.6M499.00 92.4V100.0M499.34 92.7V99.1M499.68 92.8V110.1M500.02 92.8V108.6M500.36 93.3V111.4M500.70 93.2V99.8M501.04 93.3V99.7M501.38 93.7V100.1M501.72 93.6V100.5M502.06 94.1V100.6M502.40 94.1V100.6M502.74 94.3V100.9M503.08 93.9V100.9M503.42 94.3V100.7M503.76 94.4V100.2M504.10 94.8V101.8M504.44 93.2V100.3M504.78 93.2V100.1M505.12 93.4V101.3M505.46 93.5V99.6M505.80 93.4V100.0M506.14 93.9V101.0M506.48 94.1V107.0M506.82 94.0V106.3M507.16 94.3V108.1M507.50 94.4V100.5M507.84 94.7V101.8M508.18 94.4V104.4M508.52 94.6V104.0M508.86 95.0V101.8M509.20 95.3V103.2M509.54 95.4V102.2M509.88 95.5V107.8M510.22 95.4V109.6M510.56 95.7V108.5M510.90 95.9V108.2M511.24 96.1V102.5M511.58 96.3V103.2M511.92 96.2V103.7M512.26 96.8V104.7M512.60 97.1V107.5M512.94 97.2V108.5M513.28 97.0V104.5M513.62 97.3V104.2M513.96 97.7V104.8M514.30 97.7V105.6M514.64 97.8V105.1M514.98 98.1V106.1M515.32 98.7V106.3M515.66 98.9V106.6M516.00 99.0V112.7M516.34 98.9V113.3M516.68 99.3V112.6M517.02 99.6V113.1M517.36 99.4V105.8M517.70 99.6V107.2M518.04 100.0V108.2M518.38 100.4V108.5M518.72 101.1V108.8M519.06 101.5V115.2M519.40 102.0V115.9M519.74 102.3V114.1M520.08 102.7V109.5M520.42 102.8V111.0M520.76 103.7V110.6M521.10 104.0V111.3M521.44 104.7V111.9M521.78 103.3V114.0M522.12 103.4V110.2M522.46 104.3V108.7M522.80 104.7V110.5M523.14 105.1V110.0M523.48 105.3V110.2M523.82 105.5V108.8M524.16 106.1V110.7M524.50 106.8V110.9M524.84 107.6V113.6M525.18 108.2V116.3M525.52 109.4V115.6M525.86 110.1V118.5M526.20 110.7V115.4M526.54 111.3V116.1M526.88 111.9V117.1M527.22 112.9V118.3M527.56 113.6V117.6M527.90 114.2V118.7M528.24 115.0V120.9M528.58 116.0V120.5M528.92 117.3V123.2M529.26 118.2V123.1M529.60 119.6V125.7M529.94 120.4V124.9M530.28 123.3V127.2M530.62 125.7V129.2M530.96 128.9V134.8M531.30 131.6V135.3M531.64 134.5V138.5M531.98 137.6V141.0M532.32 140.4V145.9M532.66 143.3V150.0M533.00 146.5V151.5M533.34 149.8V155.6M533.68 152.4V157.2M534.02 155.7V157.2M534.36 158.4V157.2" fill="none" stroke="#fa7864" stroke-width="0.7"/><path d="M311.8 170.0v-2.2M311.8 18.0v2.2M375.2 170.0v-2.2M375.2 18.0v2.2M438.6 170.0v-2.2M438.6 18.0v2.2M502.0 170.0v-2.2M502.0 18.0v2.2M311.8 170.0v-1.3M311.8 18.0v1.3M324.5 170.0v-1.3M324.5 18.0v1.3M337.2 170.0v-1.3M337.2 18.0v1.3M349.8 170.0v-1.3M349.8 18.0v1.3M362.5 170.0v-1.3M362.5 18.0v1.3M375.2 170.0v-1.3M375.2 18.0v1.3M387.9 170.0v-1.3M387.9 18.0v1.3M400.5 170.0v-1.3M400.5 18.0v1.3M413.2 170.0v-1.3M413.2 18.0v1.3M425.9 170.0v-1.3M425.9 18.0v1.3M438.6 170.0v-1.3M438.6 18.0v1.3M451.3 170.0v-1.3M451.3 18.0v1.3M463.9 170.0v-1.3M463.9 18.0v1.3M476.6 170.0v-1.3M476.6 18.0v1.3M489.3 170.0v-1.3M489.3 18.0v1.3M502.0 170.0v-1.3M502.0 18.0v1.3M514.6 170.0v-1.3M514.6 18.0v1.3M527.3 170.0v-1.3M527.3 18.0v1.3M540.0 170.0v-1.3M540.0 18.0v1.3M311.8 148.3h2.2M540.0 148.3h-2.2M311.8 94.0h2.2M540.0 94.0h-2.2M311.8 39.7h2.2M540.0 39.7h-2.2M311.8 170.0h1.3M540.0 170.0h-1.3M311.8 159.1h1.3M540.0 159.1h-1.3M311.8 148.3h1.3M540.0 148.3h-1.3M311.8 137.4h1.3M540.0 137.4h-1.3M311.8 126.6h1.3M540.0 126.6h-1.3M311.8 115.7h1.3M540.0 115.7h-1.3M311.8 104.9h1.3M540.0 104.9h-1.3M311.8 94.0h1.3M540.0 94.0h-1.3M311.8 83.1h1.3M540.0 83.1h-1.3M311.8 72.3h1.3M540.0 72.3h-1.3M311.8 61.4h1.3M540.0 61.4h-1.3M311.8 50.6h1.3M540.0 50.6h-1.3M311.8 39.7h1.3M540.0 39.7h-1.3M311.8 28.9h1.3M540.0 28.9h-1.3M311.8 18.0h1.3M540.0 18.0h-1.3" stroke="#262626" stroke-width="0.9" fill="none"/><rect x="311.8" y="18.0" width="228.2" height="152.0" fill="none" stroke="#262626" stroke-width="1.0"/><text x="307.4" y="43.3" font-size="10.5" text-anchor="end" fill="#262626" >4</text><text x="307.4" y="97.6" font-size="10.5" text-anchor="end" fill="#262626" >3.5</text><text x="307.4" y="151.9" font-size="10.5" text-anchor="end" fill="#262626" >3</text><text x="310.9" y="182.7" font-size="10.5" text-anchor="middle" fill="#262626" >0</text><text x="375.0" y="182.7" font-size="10.5" text-anchor="middle" fill="#262626" >5000</text><text x="441.0" y="182.7" font-size="10.5" text-anchor="middle" fill="#262626" >10,000</text><text x="505.0" y="182.7" font-size="10.5" text-anchor="middle" fill="#262626" >15,000</text><text x="425.9" y="196.5" font-size="10.5" text-anchor="middle" fill="#262626" >Time (s)</text><text transform="translate(289,94.2) rotate(-90)" font-size="10.5" text-anchor="middle" fill="#262626">Voltage (V)</text><text x="273.6" y="12.3" font-size="10.8" text-anchor="start" fill="#262626" >(b)</text><rect x="332.3" y="90.0" width="99.3" height="64.4" fill="#fff"/><path d="M332.4 106.6L333.3 110.7L334.2 109.3L335.1 118.0L336.0 122.4L336.9 129.6L337.8 130.1L338.7 131.0L339.6 127.3L340.5 115.4L341.4 111.1L342.3 104.9L343.2 101.5L344.1 102.4L345.0 106.3L345.9 105.0L346.8 108.0L347.7 109.9L348.6 112.0L349.5 116.0L350.4 123.0L351.3 124.3L352.2 132.7L353.1 126.6L354.0 127.4L354.9 124.9L355.8 116.7L356.7 107.8L357.6 106.2L358.5 105.0L359.4 117.5L360.3 125.7L361.2 131.1L362.1 136.3L363.0 141.4L363.9 139.0L364.8 130.5L365.7 128.5L366.6 125.8L367.5 120.1L368.4 113.8L369.3 107.9L370.2 104.3L371.1 103.1L372.0 108.3L372.9 120.7L373.8 122.8L374.7 130.0L375.6 129.5L376.5 137.5L377.4 139.7L378.3 149.0L379.2 134.3L380.1 118.5L381.0 124.2L381.9 125.9L382.8 120.3L383.7 135.9L384.6 145.3L385.5 132.2L386.4 129.1L387.3 122.6L388.2 117.8L389.1 116.4L390.0 117.8L390.9 117.3L391.8 124.2L392.7 115.9L393.6 113.5L394.5 114.2L395.4 109.0L396.3 109.3L397.2 116.3L398.1 128.7L399.0 131.7L399.9 135.5L400.8 131.6L401.7 128.8L402.6 130.0L403.5 120.2L404.4 116.3L405.3 112.6L406.2 122.6L407.1 130.1L408.0 139.2L408.9 127.9L409.8 125.9L410.7 119.1L411.6 120.3L412.5 123.8L413.4 121.1L414.3 129.4L415.2 132.1L416.1 131.4L417.0 131.1L417.9 130.8L418.8 122.0L419.7 121.7L420.6 117.4L421.5 113.6L422.4 117.3L423.3 123.4L424.2 132.3L425.1 130.0L426.0 124.6L426.9 126.8L427.8 122.9L428.7 120.4L429.6 121.9L430.5 119.2L431.4 118.5" fill="none" stroke="#3aaeea" stroke-width="1.4" stroke-dasharray="3.2 2.4"/><path d="M332.4 93.9L333.3 94.8L334.2 98.5L335.1 104.2L336.0 113.1L336.9 118.3L337.8 126.2L338.7 120.1L339.6 110.9L340.5 105.2L341.4 99.5L342.3 93.1L343.2 90.8L344.1 93.6L345.0 95.6L345.9 98.6L346.8 90.8L347.7 91.5L348.6 101.0L349.5 105.2L350.4 109.9L351.3 113.9L352.2 115.8L353.1 118.7L354.0 115.2L354.9 111.6L355.8 107.1L356.7 96.2L357.6 90.8L358.5 92.5L359.4 100.2L360.3 109.9L361.2 118.2L362.1 121.9L363.0 130.2L363.9 126.7L364.8 119.5L365.7 114.7L366.6 105.4L367.5 101.3L368.4 100.6L369.3 95.6L370.2 93.7L371.1 93.9L372.0 104.5L372.9 107.7L373.8 112.5L374.7 116.9L375.6 118.1L376.5 124.2L377.4 125.4L378.3 130.1L379.2 125.5L380.1 107.4L381.0 108.6L381.9 112.4L382.8 113.8L383.7 121.5L384.6 131.8L385.5 124.9L386.4 115.3L387.3 111.6L388.2 105.2L389.1 106.1L390.0 101.6L390.9 109.1L391.8 106.2L392.7 99.0L393.6 105.1L394.5 100.1L395.4 98.3L396.3 93.5L397.2 107.7L398.1 115.9L399.0 117.6L399.9 121.0L400.8 121.1L401.7 118.7L402.6 114.9L403.5 108.6L404.4 105.4L405.3 97.1L406.2 107.1L407.1 115.9L408.0 125.7L408.9 117.3L409.8 112.8L410.7 100.8L411.6 107.0L412.5 110.8L413.4 115.5L414.3 111.3L415.2 119.8L416.1 123.7L417.0 124.0L417.9 115.7L418.8 109.9L419.7 109.1L420.6 105.5L421.5 94.8L422.4 105.1L423.3 112.6L424.2 116.3L425.1 116.3L426.0 114.7L426.9 111.3L427.8 110.8L428.7 110.7L429.6 110.3L430.5 108.9L431.4 110.8" fill="none" stroke="#f09614" stroke-width="1.4" stroke-dasharray="4 1"/><path d="M332.4 94.6L333.3 98.0L334.2 99.8L335.1 107.1L336.0 114.8L336.9 120.2L337.8 128.3L338.7 123.6L339.6 112.7L340.5 106.9L341.4 101.9L342.3 94.9L343.2 91.4L344.1 95.9L345.0 97.1L345.9 101.2L346.8 92.0L347.7 92.7L348.6 100.8L349.5 106.2L350.4 111.3L351.3 114.5L352.2 118.3L353.1 119.5L354.0 117.3L354.9 113.8L355.8 107.9L356.7 97.8L357.6 91.2L358.5 95.3L359.4 101.7L360.3 112.1L361.2 120.1L362.1 125.1L363.0 131.2L363.9 128.3L364.8 122.0L365.7 117.5L366.6 107.8L367.5 102.0L368.4 102.4L369.3 97.6L370.2 95.0L371.1 95.6L372.0 106.0L372.9 108.8L373.8 114.0L374.7 117.9L375.6 120.8L376.5 125.9L377.4 127.4L378.3 131.7L379.2 127.3L380.1 109.6L381.0 110.6L381.9 113.4L382.8 115.9L383.7 124.2L384.6 133.0L385.5 125.9L386.4 117.2L387.3 113.2L388.2 107.6L389.1 108.0L390.0 102.4L390.9 110.2L391.8 107.8L392.7 100.9L393.6 108.1L394.5 101.5L395.4 99.7L396.3 94.3L397.2 107.9L398.1 117.3L399.0 118.5L399.9 123.6L400.8 121.9L401.7 119.7L402.6 115.6L403.5 109.8L404.4 106.7L405.3 97.7L406.2 109.3L407.1 117.1L408.0 126.6L408.9 119.6L409.8 115.4L410.7 102.2L411.6 108.6L412.5 112.0L413.4 116.7L414.3 113.6L415.2 121.2L416.1 124.5L417.0 125.9L417.9 117.7L418.8 112.5L419.7 110.2L420.6 105.6L421.5 97.6L422.4 106.2L423.3 113.6L424.2 118.4L425.1 118.3L426.0 117.2L426.9 113.6L427.8 112.4L428.7 111.9L429.6 111.9L430.5 109.9L431.4 112.3" fill="none" stroke="#14aa64" stroke-width="1.2" stroke-dasharray="3 1.6"/><path d="M332.4 94.2L333.3 97.6L334.2 99.4L335.1 106.7L336.0 114.4L336.9 119.8L337.8 127.9L338.7 123.2L339.6 112.3L340.5 106.5L341.4 101.5L342.3 94.5L343.2 91.0L344.1 95.5L345.0 96.7L345.9 100.8L346.8 91.6L347.7 92.3L348.6 100.4L349.5 105.8L350.4 110.9L351.3 114.1L352.2 117.9L353.1 119.1L354.0 116.9L354.9 113.4L355.8 107.5L356.7 97.4L357.6 90.8L358.5 94.9L359.4 101.3L360.3 111.7L361.2 119.7L362.1 124.7L363.0 130.8L363.9 127.9L364.8 121.6L365.7 117.1L366.6 107.4L367.5 101.6L368.4 102.0L369.3 97.2L370.2 94.6L371.1 95.2L372.0 105.6L372.9 108.4L373.8 113.6L374.7 117.5L375.6 120.4L376.5 125.5L377.4 127.0L378.3 131.3L379.2 126.9L380.1 109.2L381.0 110.2L381.9 113.0L382.8 115.5L383.7 123.8L384.6 132.6L385.5 125.5L386.4 116.8L387.3 112.8L388.2 107.2L389.1 107.6L390.0 102.0L390.9 109.8L391.8 107.4L392.7 100.5L393.6 107.7L394.5 101.1L395.4 99.3L396.3 93.9L397.2 107.5L398.1 116.9L399.0 118.1L399.9 123.2L400.8 121.5L401.7 119.3L402.6 115.2L403.5 109.4L404.4 106.3L405.3 97.3L406.2 108.9L407.1 116.7L408.0 126.2L408.9 119.2L409.8 115.0L410.7 101.8L411.6 108.2L412.5 111.6L413.4 116.3L414.3 113.2L415.2 120.8L416.1 124.1L417.0 125.5L417.9 117.3L418.8 112.1L419.7 109.8L420.6 105.2L421.5 97.2L422.4 105.8L423.3 113.2L424.2 118.0L425.1 117.9L426.0 116.8L426.9 113.2L427.8 112.0L428.7 111.5L429.6 111.5L430.5 109.5L431.4 111.9" fill="none" stroke="#fa7864" stroke-width="1.1" stroke-dasharray="3.5 1"/><path d="M360.8 112V154.2" stroke="#f09614" stroke-width="1.2" stroke-dasharray="3 1.5"/><path d="M333.3 154.4v-1.8M333.3 90.0v1.8M366.6 154.4v-1.8M366.6 90.0v1.8M399.9 154.4v-1.8M399.9 90.0v1.8M333.3 154.4v-1.0M333.3 90.0v1.0M340.0 154.4v-1.0M340.0 90.0v1.0M346.6 154.4v-1.0M346.6 90.0v1.0M353.3 154.4v-1.0M353.3 90.0v1.0M360.0 154.4v-1.0M360.0 90.0v1.0M366.6 154.4v-1.0M366.6 90.0v1.0M373.3 154.4v-1.0M373.3 90.0v1.0M380.0 154.4v-1.0M380.0 90.0v1.0M386.6 154.4v-1.0M386.6 90.0v1.0M393.3 154.4v-1.0M393.3 90.0v1.0M399.9 154.4v-1.0M399.9 90.0v1.0M406.6 154.4v-1.0M406.6 90.0v1.0M413.3 154.4v-1.0M413.3 90.0v1.0M419.9 154.4v-1.0M419.9 90.0v1.0M426.6 154.4v-1.0M426.6 90.0v1.0M332.3 149.0h1.8M431.6 149.0h-1.8M332.3 133.7h1.8M431.6 133.7h-1.8M332.3 118.4h1.8M431.6 118.4h-1.8M332.3 103.0h1.8M431.6 103.0h-1.8M332.3 152.9h1.0M431.6 152.9h-1.0M332.3 149.0h1.0M431.6 149.0h-1.0M332.3 145.2h1.0M431.6 145.2h-1.0M332.3 141.4h1.0M431.6 141.4h-1.0M332.3 137.5h1.0M431.6 137.5h-1.0M332.3 133.7h1.0M431.6 133.7h-1.0M332.3 129.9h1.0M431.6 129.9h-1.0M332.3 126.0h1.0M431.6 126.0h-1.0M332.3 122.2h1.0M431.6 122.2h-1.0M332.3 118.4h1.0M431.6 118.4h-1.0M332.3 114.5h1.0M431.6 114.5h-1.0M332.3 110.7h1.0M431.6 110.7h-1.0M332.3 106.9h1.0M431.6 106.9h-1.0M332.3 103.0h1.0M431.6 103.0h-1.0M332.3 99.2h1.0M431.6 99.2h-1.0M332.3 95.4h1.0M431.6 95.4h-1.0M332.3 91.5h1.0M431.6 91.5h-1.0" stroke="#686868" stroke-width="1.08" fill="none"/><rect x="332.3" y="90.0" width="99.3" height="64.4" fill="none" stroke="#686868" stroke-width="1.2"/><text x="330.5" y="151.6" font-size="7.5" text-anchor="end" fill="#262626" class="s">3.64</text><text x="330.5" y="136.3" font-size="7.5" text-anchor="end" fill="#262626" class="s">3.66</text><text x="330.5" y="121.0" font-size="7.5" text-anchor="end" fill="#262626" class="s">3.68</text><text x="330.5" y="105.6" font-size="7.5" text-anchor="end" fill="#262626" class="s">3.7</text><text x="333.3" y="163.5" font-size="7.5" text-anchor="middle" fill="#262626" class="s">7500</text><text x="366.6" y="163.5" font-size="7.5" text-anchor="middle" fill="#262626" class="s">7600</text><text x="399.9" y="163.5" font-size="7.5" text-anchor="middle" fill="#262626" class="s">7700</text><rect x="446.0" y="105.4" width="57.5" height="42.9" fill="#fff"/><path d="M446.4 120.0L447.8 117.1L449.9 120.0L452.1 117.1L454.2 110.0L455.6 107.9L457.8 112.2L459.9 111.4L462.0 114.3L463.0 139.9L464.1 110.0L465.6 107.2L467.0 114.3L468.4 112.9L469.5 142.7L470.5 117.1L472.0 125.6L474.1 118.5L476.2 115.7L478.4 117.1L480.5 111.4L482.6 115.7L485.2 148.4L486.2 120.0L488.3 124.2L489.7 138.4L491.1 121.4L494.0 124.2L496.1 125.6L498.0 132.0L499.7 108.6L501.1 112.9L502.5 110.0L503.4 111.5" fill="none" stroke="#1ea0e6" stroke-width="1.3" stroke-dasharray="3 1.5"/><path d="M446.4 118.0L447.8 115.1L449.9 118.0L452.1 115.1L454.2 108.0L455.6 105.9L457.8 110.2L459.9 109.4L462.0 112.3L463.0 137.9L464.1 108.0L465.6 105.2L467.0 112.3L468.4 110.9L469.5 140.7L470.5 115.1L472.0 123.6L474.1 116.5L476.2 113.7L478.4 115.1L480.5 109.4L482.6 113.7L485.2 146.4L486.2 118.0L488.3 122.2L489.7 136.4L491.1 119.4L494.0 122.2L496.1 123.6L498.0 130.0L499.7 106.6L501.1 110.9L502.5 108.0L503.4 109.5" fill="none" stroke="#f09614" stroke-width="1.3"/><path d="M446.4 118.9L447.8 116.0L449.9 118.9L452.1 116.0L454.2 108.9L455.6 106.8L457.8 111.1L459.9 110.3L462.0 113.2L463.0 138.8L464.1 108.9L465.6 106.1L467.0 113.2L468.4 111.8L469.5 141.6L470.5 116.0L472.0 124.5L474.1 117.4L476.2 114.6L478.4 116.0L480.5 110.3L482.6 114.6L485.2 147.3L486.2 118.9L488.3 123.1L489.7 137.3L491.1 120.3L494.0 123.1L496.1 124.5L498.0 130.9L499.7 107.5L501.1 111.8L502.5 108.9L503.4 110.4" fill="none" stroke="#14aa64" stroke-width="1.1" stroke-dasharray="3 1.5"/><path d="M446.4 118.5L447.8 115.6L449.9 118.5L452.1 115.6L454.2 108.5L455.6 106.4L457.8 110.7L459.9 109.9L462.0 112.8L463.0 138.4L464.1 108.5L465.6 105.7L467.0 112.8L468.4 111.4L469.5 141.2L470.5 115.6L472.0 124.1L474.1 117.0L476.2 114.2L478.4 115.6L480.5 109.9L482.6 114.2L485.2 146.9L486.2 118.5L488.3 122.7L489.7 136.9L491.1 119.9L494.0 122.7L496.1 124.1L498.0 130.5L499.7 107.1L501.1 111.4L502.5 108.5L503.4 110.0" fill="none" stroke="#fa7864" stroke-width="1.2" stroke-dasharray="4 0.8"/><path d="M451.4 148.3v-1.8M451.4 105.4v1.8M478.4 148.3v-1.8M478.4 105.4v1.8M451.4 148.3v-1.0M451.4 105.4v1.0M456.8 148.3v-1.0M456.8 105.4v1.0M462.2 148.3v-1.0M462.2 105.4v1.0M467.6 148.3v-1.0M467.6 105.4v1.0M473.0 148.3v-1.0M473.0 105.4v1.0M478.4 148.3v-1.0M478.4 105.4v1.0M483.8 148.3v-1.0M483.8 105.4v1.0M489.2 148.3v-1.0M489.2 105.4v1.0M494.6 148.3v-1.0M494.6 105.4v1.0M500.0 148.3v-1.0M500.0 105.4v1.0M446.0 141.6h1.8M503.5 141.6h-1.8M446.0 124.7h1.8M503.5 124.7h-1.8M446.0 107.9h1.8M503.5 107.9h-1.8M446.0 145.8h1.0M503.5 145.8h-1.0M446.0 141.6h1.0M503.5 141.6h-1.0M446.0 137.4h1.0M503.5 137.4h-1.0M446.0 133.2h1.0M503.5 133.2h-1.0M446.0 129.0h1.0M503.5 129.0h-1.0M446.0 124.7h1.0M503.5 124.7h-1.0M446.0 120.5h1.0M503.5 120.5h-1.0M446.0 116.3h1.0M503.5 116.3h-1.0M446.0 112.1h1.0M503.5 112.1h-1.0M446.0 107.9h1.0M503.5 107.9h-1.0" stroke="#686868" stroke-width="1.08" fill="none"/><rect x="446.0" y="105.4" width="57.5" height="42.9" fill="none" stroke="#686868" stroke-width="1.2"/><text x="444.3" y="144.2" font-size="7.5" text-anchor="end" fill="#262626" class="s">3.36</text><text x="444.3" y="127.3" font-size="7.5" text-anchor="end" fill="#262626" class="s">3.4</text><text x="444.3" y="110.5" font-size="7.5" text-anchor="end" fill="#262626" class="s">3.44</text><text x="451.4" y="157.5" font-size="7.5" text-anchor="middle" fill="#262626" class="s">1.62</text><text x="478.4" y="157.5" font-size="7.5" text-anchor="middle" fill="#262626" class="s">1.63</text><text x="488" y="167" font-size="7.5" fill="#262626">×10<tspan font-size="5.5" dy="-3">4</tspan></text><rect x="406.5" y="70" width="4.5" height="9.5" fill="none" stroke="#222" stroke-width="0.9"/><rect x="516.8" y="98.8" width="3.2" height="11.5" fill="none" stroke="#222" stroke-width="0.9"/><path d="M332.3 154.4L406.5 70M431.6 154.4L411 70M446 148.3L520 98.8M503.5 148.3L516.8 110.3" stroke="#111" stroke-width="0.9" fill="none"/><rect x="362.7" y="18.1" width="175.3" height="36.5" fill="#fff" stroke="#262626" stroke-width="1"/><path d="M365.0 26.4H391.3" stroke="#1ea0e6" stroke-width="1.2" stroke-dasharray="6.6 4"/><text x="393.6" y="30.0" font-size="8.6" text-anchor="start" fill="#262626" class="s">Measured</text><path d="M365.0 37.4H391.3" stroke="#1eb4d2" stroke-width="1.2" stroke-dasharray="6.6 4"/><text x="393.6" y="41.0" font-size="8.6" text-anchor="start" fill="#262626" class="s">FDA Estimated</text><path d="M365.0 48.4H391.3" stroke="#14aa64" stroke-width="1.2" stroke-dasharray="6.6 4"/><text x="393.6" y="52.0" font-size="8.6" text-anchor="start" fill="#262626" class="s">DA Estimated</text><path d="M453.2 26.4H478.6" stroke="#5abe1e" stroke-width="1.2" stroke-dasharray="6.6 4"/><text x="481.0" y="30.0" font-size="8.6" text-anchor="start" fill="#262626" class="s">SSA Estimated</text><path d="M453.2 37.4H478.6" stroke="#f09614" stroke-width="1.2" stroke-dasharray="6.6 4"/><text x="481.0" y="41.0" font-size="8.6" text-anchor="start" fill="#262626" class="s">PSO Estimated</text><path d="M453.2 48.4H478.6" stroke="#fa7864" stroke-width="1.2" stroke-dasharray="6.6 4"/><text x="481.0" y="52.0" font-size="8.6" text-anchor="start" fill="#262626" class="s">ALO Estimated</text><path d="M46.20 285.2V296.6M46.54 281.3V297.5M46.88 283.1V298.1M47.22 284.5V295.9M47.56 283.6V295.7M47.90 283.4V296.9M48.24 283.9V296.4M48.58 281.7V304.4M48.92 284.4V298.1M49.26 285.6V301.1M49.60 286.9V299.3M49.94 286.9V297.4M50.28 285.0V297.1M50.62 284.6V294.9M50.96 284.8V294.2M51.30 275.3V296.2M51.64 281.4V296.2M51.98 285.7V296.2M52.32 284.1V293.1M52.66 281.9V295.8M53.00 284.3V294.7M53.34 280.9V293.4M53.68 284.5V295.7M54.02 285.1V295.3M54.36 284.5V294.3M54.70 286.1V294.6M55.04 286.3V295.6M55.38 284.5V294.2M55.72 286.2V294.6M56.06 284.7V299.3M56.40 284.3V294.1M56.74 284.3V295.6M57.08 280.6V293.6M57.42 278.4V294.6M57.76 284.3V294.1M58.10 285.5V295.6M58.44 284.1V296.1M58.78 284.6V296.2M59.12 276.6V295.0M59.46 284.4V295.7M59.80 285.4V295.1M60.14 278.9V297.0M60.48 285.6V302.9M60.82 284.1V294.5M61.16 285.6V296.0M61.50 284.9V297.0M61.84 285.8V295.5M62.18 283.6V295.6M62.52 285.2V298.0M62.86 283.4V296.2M63.20 283.2V295.9M63.54 285.1V296.5M63.88 283.3V300.8M64.22 285.2V295.7M64.56 274.8V296.6M64.90 283.5V301.7M65.24 284.1V296.1M65.58 275.2V298.7M65.92 286.0V302.2M66.26 285.9V305.3M66.60 278.7V297.4M66.94 278.6V295.5M67.28 284.3V295.7M67.62 284.5V296.3M67.96 277.8V294.6M68.30 286.2V293.8M68.64 285.3V295.5M68.98 277.3V295.0M69.32 286.9V296.2M69.66 284.6V300.6M70.00 287.4V296.7M70.34 280.9V295.9M70.68 284.9V295.8M71.02 286.4V299.9M71.36 284.5V298.4M71.70 286.2V295.2M72.04 284.4V294.2M72.38 286.7V295.8M72.72 285.0V295.9M73.06 286.3V294.9M73.40 280.6V296.6M73.74 283.8V294.3M74.08 285.3V300.6M74.42 284.2V296.1M74.76 284.9V294.1M75.10 284.8V294.4M75.44 287.2V296.4M75.78 275.7V296.1M76.12 283.0V295.1M76.46 282.1V296.1M76.80 284.6V295.7M77.14 286.3V297.7M77.48 285.4V298.0M77.82 283.1V296.4M78.16 286.7V296.9M78.50 286.3V301.3M78.84 286.5V296.5M79.18 280.3V295.9M79.52 286.4V298.7M79.86 285.8V296.9M80.20 285.0V297.5M80.54 281.7V296.4M80.88 285.7V297.8M81.22 284.4V296.5M81.56 285.7V298.3M81.90 284.3V296.7M82.24 276.2V298.0M82.58 284.3V299.7M82.92 288.1V306.2M83.26 287.3V299.9M83.60 279.1V297.8M83.94 286.4V299.0M84.28 285.3V296.6M84.62 283.1V296.2M84.96 285.2V294.7M85.30 287.8V295.4M85.64 287.0V295.8M85.98 277.5V295.2M86.32 286.3V297.2M86.66 288.1V296.3M87.00 286.8V296.4M87.34 285.6V295.6M87.68 285.3V296.1M88.02 278.9V296.5M88.36 285.8V296.3M88.70 285.1V296.9M89.04 285.0V296.0M89.38 286.5V297.4M89.72 285.3V297.0M90.06 285.0V297.2M90.40 283.5V297.2M90.74 282.1V295.4M91.08 286.5V298.2M91.42 285.5V296.7M91.76 285.6V298.4M92.10 287.5V296.8M92.44 287.6V297.6M92.78 287.3V304.0M93.12 287.3V297.7M93.46 286.3V299.7M93.80 281.3V297.4M94.14 286.4V296.8M94.48 286.7V301.9M94.82 286.3V297.9M95.16 286.3V297.6M95.50 284.1V297.2M95.84 286.6V298.2M96.18 285.7V297.2M96.52 285.2V298.0M96.86 286.9V300.7M97.20 286.7V298.9M97.54 284.4V297.5M97.88 284.9V297.4M98.22 275.9V297.6M98.56 286.5V300.2M98.90 284.9V298.9M99.24 282.2V300.4M99.58 287.5V298.2M99.92 287.2V300.7M100.26 286.7V304.6M100.60 287.8V300.7M100.94 288.3V300.2M101.28 278.7V299.1M101.62 286.4V297.1M101.96 289.1V296.8M102.30 288.4V297.2M102.64 278.5V296.2M102.98 286.7V297.7M103.32 288.5V298.2M103.66 286.5V297.4M104.00 287.8V297.1M104.34 287.7V298.2M104.68 289.6V296.8M105.02 288.3V304.3M105.36 287.7V297.2M105.70 285.8V296.8M106.04 285.0V296.1M106.38 283.3V297.5M106.72 283.9V298.2M107.06 288.6V297.5M107.40 288.1V299.0M107.74 289.3V303.2M108.08 288.4V298.4M108.42 288.2V297.5M108.76 288.1V299.4M109.10 287.2V298.7M109.44 289.8V299.2M109.78 287.1V297.9M110.12 288.8V297.7M110.46 284.0V298.8M110.80 286.3V299.6M111.14 289.1V303.8M111.48 285.0V298.3M111.82 286.8V298.5M112.16 289.4V298.4M112.50 284.6V300.4M112.84 287.9V300.7M113.18 283.6V299.1M113.52 288.9V299.8M113.86 287.0V304.6M114.20 289.3V298.7M114.54 287.3V300.4M114.88 287.4V301.6M115.22 287.9V300.2M115.56 288.3V300.7M115.90 286.6V300.3M116.24 289.9V301.7M116.58 288.4V301.3M116.92 286.7V302.3M117.26 288.2V301.7M117.60 291.6V304.9M117.94 281.3V304.0M118.28 287.6V304.0M118.62 293.0V302.4M118.96 292.0V301.5M119.30 292.2V301.7M119.64 285.0V303.8M119.98 293.1V304.3M120.32 287.1V302.1M120.66 285.3V303.9M121.00 292.5V306.3M121.34 294.7V304.8M121.68 291.7V302.9M122.02 295.4V304.2M122.36 295.6V302.8M122.70 293.8V302.5M123.04 292.3V304.3M123.38 292.7V303.3M123.72 293.2V302.7M124.06 294.2V307.6M124.40 292.7V305.0M124.74 289.5V304.5M125.08 294.0V304.4M125.42 296.0V304.9M125.76 294.1V303.1M126.10 294.8V303.4M126.44 293.9V305.2M126.78 293.1V305.6M127.12 288.4V302.8M127.46 287.1V303.9M127.80 294.8V304.2M128.14 295.1V305.1M128.48 290.2V306.2M128.82 292.7V305.3M129.16 293.6V305.4M129.50 286.5V305.5M129.84 290.7V306.3M130.18 294.7V310.6M130.52 293.7V308.0M130.86 293.8V305.6M131.20 283.9V306.8M131.54 284.8V305.8M131.88 287.5V307.2M132.22 290.8V307.9M132.56 288.4V306.4M132.90 287.8V306.8M133.24 295.1V305.5M133.58 296.0V310.0M133.92 293.7V306.1M134.26 294.4V307.3M134.60 290.4V314.4M134.94 297.5V311.0M135.28 294.7V309.5M135.62 296.9V305.6M135.96 286.5V305.3M136.30 295.3V312.8M136.64 296.4V306.1M136.98 295.9V304.7M137.32 294.2V304.3M137.66 295.0V312.6M138.00 294.9V303.7M138.34 294.5V304.2M138.68 294.4V305.4M139.02 294.1V305.5M139.36 295.1V308.9M139.70 293.7V307.8M140.04 283.8V305.8M140.38 294.8V302.8M140.72 286.7V305.1M141.06 295.9V311.0M141.40 293.5V303.4M141.74 294.7V305.2M142.08 294.6V303.2M142.42 294.2V305.0M142.76 293.0V310.1M143.10 292.8V304.0M143.44 283.5V304.4M143.78 286.4V304.0M144.12 293.4V303.7M144.46 294.6V312.1M144.80 293.8V305.4M145.14 294.3V303.0M145.48 293.8V307.2M145.82 293.0V305.9M146.16 292.8V303.2M146.50 292.3V304.0M146.84 294.9V305.5M147.18 292.5V305.8M147.52 293.0V306.3M147.86 292.0V304.0M148.20 292.3V303.4M148.54 285.6V305.7M148.88 293.4V304.0M149.22 284.6V304.7M149.56 287.8V304.3M149.90 292.0V304.9M150.24 283.2V305.4M150.58 287.9V304.1M150.92 290.9V304.5M151.26 291.6V308.1M151.60 293.2V304.9M151.94 291.9V310.9M152.28 293.0V306.4M152.62 293.7V305.7M152.96 293.3V303.1M153.30 288.2V302.5M153.64 291.4V302.9M153.98 292.3V302.0M154.32 292.9V307.6M154.66 291.1V302.4M155.00 293.7V300.0M155.34 291.8V300.6M155.68 290.3V299.9M156.02 293.0V300.4M156.36 290.8V304.0M156.70 285.9V301.3M157.04 291.2V303.1M157.38 290.3V298.9M157.72 291.6V300.0M158.06 291.1V300.8M158.40 291.3V306.0M158.74 289.8V300.7M159.08 291.2V299.6M159.42 290.5V299.3M159.76 289.4V298.9M160.10 288.9V298.5M160.44 288.7V299.9M160.78 281.6V299.6M161.12 289.0V298.6M161.46 287.8V300.5M161.80 290.6V301.1M162.14 287.6V300.2M162.48 288.3V299.6M162.82 289.7V300.6M163.16 288.9V300.4M163.50 281.4V298.6M163.84 288.9V299.6M164.18 284.2V298.9M164.52 287.3V304.5M164.86 289.6V300.0M165.20 289.0V298.2M165.54 289.4V299.6M165.88 288.7V300.3M166.22 288.3V299.6M166.56 284.8V300.2M166.90 286.8V304.7M167.24 278.0V298.7M167.58 287.6V301.0M167.92 286.8V299.7M168.26 286.4V302.9M168.60 279.6V301.1M168.94 285.7V301.1M169.28 287.9V306.1M169.62 287.6V301.0M169.96 287.1V304.3M170.30 288.2V298.3M170.64 286.8V297.1M170.98 288.3V297.0M171.32 285.7V296.0M171.66 286.6V296.9M172.00 286.8V295.2M172.34 287.2V296.6M172.68 286.5V296.5M173.02 288.7V296.1M173.36 287.4V297.7M173.70 285.1V295.0M174.04 285.5V296.7M174.38 287.4V296.9M174.72 276.4V295.4M175.06 286.5V294.4M175.40 278.6V294.5M175.74 284.8V295.2M176.08 284.8V295.6M176.42 284.8V294.9M176.76 286.9V294.6M177.10 286.7V294.6M177.44 285.8V296.5M177.78 286.3V295.5M178.12 284.4V295.0M178.46 274.7V294.1M178.80 283.0V293.6M179.14 283.8V296.0M179.48 283.8V295.9M179.82 283.2V294.0M180.16 284.1V294.3M180.50 284.7V295.5M180.84 285.3V295.7M181.18 284.8V294.8M181.52 283.2V294.1M181.86 284.0V295.2M182.20 279.4V293.6M182.54 284.7V294.2M182.88 283.4V295.3M183.22 282.0V299.7M183.56 283.5V296.1M183.90 283.0V295.9M184.24 282.4V298.7M184.58 282.4V294.3M184.92 282.6V298.1M185.26 280.6V294.5M185.60 281.3V296.1M185.94 274.2V296.5M186.28 285.0V302.8M186.62 276.3V297.5M186.96 283.0V296.2M187.30 283.1V294.5M187.64 282.5V293.5M187.98 283.7V293.8M188.32 283.8V292.8M188.66 281.7V291.9M189.00 283.5V293.4M189.34 282.2V291.4M189.68 281.7V292.1M190.02 282.0V290.1M190.36 283.0V290.4M190.70 283.1V289.9M191.04 281.7V290.9M191.38 281.1V291.3M191.72 280.8V290.8M192.06 280.6V291.0M192.40 282.5V290.6M192.74 281.8V292.0M193.08 280.6V290.7M193.42 272.7V291.0M193.76 282.1V289.8M194.10 279.8V295.9M194.44 281.5V292.0M194.78 281.7V289.8M195.12 280.5V289.9M195.46 279.4V289.8M195.80 280.1V292.5M196.14 279.1V290.2M196.48 280.2V296.0M196.82 279.8V289.7M197.16 270.4V290.5M197.50 278.8V291.2M197.84 276.0V290.1M198.18 274.7V289.5M198.52 280.7V293.2M198.86 280.2V294.8M199.20 271.2V290.8M199.54 280.7V291.7M199.88 279.4V291.0M200.22 279.0V290.6M200.56 278.7V290.7M200.90 275.4V291.8M201.24 277.9V297.6M201.58 279.7V291.8M201.92 278.9V291.7M202.26 278.2V292.1M202.60 278.5V292.2M202.94 280.4V290.3M203.28 280.5V292.3M203.62 282.2V304.9M203.96 282.1V294.5M204.30 281.2V292.0M204.64 279.8V290.9M204.98 281.8V294.4M205.32 280.4V291.1M205.66 281.9V290.2M206.00 280.6V288.4M206.34 278.5V289.7M206.68 274.6V290.0M207.02 274.5V289.3M207.36 282.0V291.0M207.70 281.4V293.9M208.04 280.6V290.6M208.38 282.5V291.5M208.72 279.4V290.2M209.06 281.6V290.2M209.40 278.9V289.9M209.74 281.7V291.6M210.08 281.4V289.5M210.42 272.3V290.5M210.76 274.9V291.8M211.10 279.9V290.0M211.44 281.0V290.1M211.78 281.3V289.5M212.12 278.3V291.2M212.46 281.6V289.9M212.80 281.6V290.6M213.14 279.7V290.3M213.48 279.2V291.7M213.82 280.3V289.8M214.16 278.8V292.0M214.50 279.9V296.2M214.84 278.5V290.2M215.18 280.3V289.7M215.52 279.4V291.2M215.86 276.8V290.5M216.20 278.6V291.9M216.54 280.8V293.0M216.88 277.8V296.6M217.22 279.6V289.8M217.56 280.4V290.1M217.90 278.6V292.0M218.24 271.9V292.7M218.58 281.1V292.3M218.92 281.9V294.4M219.26 282.5V293.7M219.60 284.9V296.9M219.94 285.0V297.1M220.28 283.6V296.4M220.62 286.2V297.0M220.96 285.4V302.8M221.30 286.8V300.7M221.64 286.1V296.3M221.98 285.3V297.2M222.32 287.9V296.8M222.66 287.4V295.7M223.00 283.3V297.3M223.34 286.6V302.6M223.68 287.8V299.8M224.02 282.3V297.4M224.36 288.8V296.5M224.70 288.4V295.4M225.04 279.5V297.3M225.38 288.4V298.2M225.72 287.5V298.0M226.06 289.1V296.6M226.40 286.4V297.7M226.74 287.2V298.1M227.08 287.1V298.6M227.42 287.3V299.5M227.76 288.5V296.8M228.10 289.4V299.7M228.44 289.5V299.9M228.78 289.4V298.3M229.12 290.6V298.4M229.46 289.2V305.7M229.80 288.3V300.4M230.14 290.1V300.3M230.48 292.0V301.2M230.82 290.6V303.6M231.16 292.9V301.9M231.50 292.0V303.0M231.84 286.2V304.2M232.18 294.6V303.0M232.52 287.1V304.3M232.86 293.0V303.6M233.20 291.0V303.7M233.54 294.8V305.0M233.88 293.1V305.5M234.22 295.1V307.4M234.56 294.7V306.9M234.90 291.4V307.1M235.24 295.5V308.5M235.58 297.8V308.5M235.92 297.8V308.6M236.26 296.1V310.2M236.60 287.3V308.4M236.94 284.4V307.4M237.28 294.8V309.5M237.62 296.8V309.2M237.96 297.4V316.0M238.30 296.5V310.8M238.64 295.9V309.7M238.98 294.8V308.3M239.32 296.8V306.3M239.66 296.6V306.9M240.00 292.1V305.5M240.34 295.1V305.4M240.68 291.2V305.3M241.02 294.2V309.6M241.36 293.0V303.3M241.70 293.1V302.7M242.04 292.8V308.1M242.38 288.8V303.3M242.72 293.5V301.4M243.06 293.3V303.4M243.40 285.6V302.8M243.74 291.8V302.1M244.08 286.2V300.4M244.42 290.4V302.1M244.76 287.5V299.6M245.10 289.4V299.3M245.44 282.4V300.3M245.78 290.0V299.2M246.12 290.6V299.2M246.46 290.5V300.1M246.80 289.9V305.9M247.14 287.9V300.8M247.48 289.8V299.1M247.82 287.8V298.9M248.16 286.7V304.1M248.50 287.9V297.6M248.84 287.1V297.3M249.18 285.6V297.7M249.52 286.3V296.9M249.86 286.9V296.6M250.20 285.0V296.8M250.54 283.3V295.1M253.5 330V336.5M236.4 300V313.6" fill="none" stroke="#e3981f" stroke-width="0.8"/><path d="M46.20 289.3V290.3M46.88 287.7V290.9M47.22 287.0V290.3M48.24 288.5V292.1M48.58 289.5V292.3M48.92 289.8V291.8M49.26 290.5V292.2M49.94 289.9V292.3M50.62 290.4V293.4M50.96 289.2V291.5M51.98 289.7V292.4M52.32 290.2V292.4M53.00 288.1V291.3M54.02 288.1V290.7M54.36 287.5V292.6M55.04 288.3V292.1M55.72 289.9V291.3M56.06 287.1V291.7M56.74 286.5V291.5M57.08 287.3V291.6M57.42 288.8V290.1M57.76 288.0V291.4M58.10 288.7V292.9M58.78 287.5V292.5M60.14 288.7V291.7M61.50 287.3V290.0M61.84 284.4V291.3M62.18 288.6V292.0M62.86 288.4V291.8M63.88 288.2V290.1M64.90 286.8V290.6M65.58 286.4V291.4M66.94 290.4V293.4M67.28 286.8V291.4M67.62 290.4V292.2M67.96 288.2V293.4M68.98 288.6V293.2M70.00 289.9V291.6M70.34 287.7V292.9M71.02 285.7V292.7M71.36 288.7V292.8M72.04 290.2V292.1M72.72 288.8V292.2M73.06 287.4V291.0M74.08 288.7V292.1M74.76 288.9V292.1M76.12 284.9V291.9M77.14 288.2V292.7M77.82 285.8V292.4M79.86 288.6V292.0M82.92 291.0V293.9M83.26 289.0V292.3M83.60 289.2V294.3M84.96 290.2V292.6M85.64 289.5V292.6M85.98 289.7V293.8M86.32 290.9V293.1M86.66 288.3V292.4M88.70 285.6V292.1M89.38 291.2V294.1M90.06 290.1V292.9M90.74 289.2V292.7M91.08 290.9V293.1M91.42 290.7V294.0M92.44 288.4V293.1M92.78 289.8V293.8M93.46 291.0V292.3M93.80 288.0V291.6M94.48 291.6V294.1M94.82 289.7V293.8M95.50 291.7V292.4M95.84 290.5V293.1M96.52 288.8V291.9M96.86 289.0V293.5M97.54 288.8V293.4M97.88 289.2V293.1M98.56 288.4V293.2M98.90 290.4V292.6M99.58 290.1V292.9M99.92 288.3V292.6M100.26 288.3V294.3M101.28 291.2V293.2M101.96 289.9V295.4M102.64 291.7V294.1M102.98 290.1V294.4M103.32 289.8V294.7M103.66 291.8V293.6M104.00 290.5V295.1M104.34 293.5V294.8M105.02 293.1V294.1M107.40 290.9V294.8M108.42 291.5V294.7M108.76 292.2V293.8M109.10 290.6V293.5M109.44 291.1V294.3M109.78 291.2V295.0M110.12 291.3V294.3M110.46 290.9V294.4M111.48 290.6V293.9M112.50 292.4V294.7M113.52 287.8V294.8M114.54 288.9V293.9M114.88 290.9V293.9M115.90 291.5V295.5M116.92 291.0V295.0M117.60 292.1V296.9M117.94 294.3V297.8M119.30 297.1V300.7M120.32 297.2V301.1M120.66 298.8V301.0M121.00 296.1V300.7M121.34 299.5V299.7M121.68 297.6V299.9M122.36 296.2V300.3M122.70 298.9V300.1M123.72 297.0V300.7M124.06 296.4V302.0M124.74 297.8V300.1M125.08 295.0V300.7M125.42 298.0V301.1M127.12 298.9V300.9M127.46 296.7V300.6M127.80 294.9V299.5M128.14 298.8V302.0M128.48 298.3V300.1M128.82 297.2V300.1M129.16 295.8V301.3M129.50 296.9V301.6M130.18 296.9V301.0M130.52 296.9V302.0M131.20 296.9V300.5M131.88 297.6V300.3M132.90 298.6V300.6M134.94 298.6V301.9M135.28 299.6V301.7M135.62 300.5V302.4M136.30 299.0V301.3M136.64 299.3V301.6M136.98 297.9V301.8M138.00 298.9V301.9M138.34 299.5V302.0M138.68 299.2V301.4M139.70 298.8V302.4M140.38 297.7V301.8M140.72 298.5V300.8M141.40 295.3V301.8M141.74 297.5V301.7M142.42 297.5V302.5M142.76 296.8V301.0M144.46 296.8V300.4M145.48 297.1V300.5M145.82 296.5V300.3M146.50 296.3V301.0M146.84 295.7V300.5M148.20 296.4V300.6M149.56 296.1V298.9M149.90 296.8V299.1M150.92 295.3V297.4M151.26 295.9V297.9M152.62 292.5V299.3M153.30 296.5V297.8M153.98 294.7V298.4M155.00 295.3V298.6M155.34 293.4V298.5M156.70 294.8V298.1M157.04 293.7V297.2M157.38 295.6V298.1M158.74 294.4V296.1M159.76 294.0V295.7M160.10 289.4V296.3M160.78 293.5V297.3M161.46 293.1V296.8M161.80 290.8V297.1M162.48 292.4V296.3M162.82 292.9V295.8M163.16 292.6V296.2M164.18 292.6V295.4M165.20 290.0V294.1M167.58 291.5V294.5M167.92 287.8V293.8M168.26 289.5V293.9M168.94 291.1V292.3M170.30 292.6V294.9M170.98 291.5V294.0M171.66 290.7V293.6M172.00 290.7V293.7M172.34 289.0V294.0M173.02 287.6V294.5M173.70 289.2V293.6M175.06 289.5V293.0M175.40 288.8V293.3M175.74 287.8V291.4M176.42 287.7V292.0M176.76 287.6V293.4M177.10 289.0V292.9M177.78 289.5V292.1M178.46 288.5V291.4M179.14 289.4V291.3M179.82 287.2V290.7M180.50 286.5V290.2M180.84 288.3V291.6M181.18 287.6V291.4M181.86 286.9V291.0M182.54 286.7V289.4M183.56 286.9V288.8M183.90 287.3V289.6M184.92 286.3V289.0M185.26 285.4V288.6M185.60 285.9V288.4M186.28 287.6V290.5M186.62 283.6V289.4M186.96 285.4V290.5M187.64 285.8V289.7M187.98 286.8V290.3M188.32 284.1V289.5M188.66 285.5V289.0M189.34 284.5V289.0M189.68 285.4V289.3M190.36 285.9V288.2M191.04 284.4V288.1M192.06 284.9V288.4M193.08 284.3V287.3M193.76 286.0V287.2M194.44 284.6V288.6M194.78 284.4V287.8M195.46 282.7V287.2M195.80 284.4V288.6M196.48 284.1V287.1M197.50 284.4V285.7M197.84 282.8V287.9M198.52 284.2V285.7M199.20 283.6V285.6M199.88 283.7V286.3M200.56 282.2V286.7M203.62 283.9V286.9M203.96 284.1V287.5M204.98 285.3V286.6M205.66 283.7V287.4M206.00 284.8V288.3M207.36 284.6V287.3M207.70 283.3V287.5M208.04 285.1V288.2M208.72 282.4V286.2M209.40 284.7V286.4M209.74 284.0V287.5M210.76 284.5V288.3M211.10 284.3V287.1M211.44 282.5V285.7M212.12 283.9V286.1M212.80 281.2V287.1M213.14 281.7V287.0M214.16 284.2V286.8M214.50 282.3V286.0M214.84 282.0V287.1M215.18 281.7V284.5M215.52 282.6V285.1M216.54 280.9V286.4M216.88 282.6V286.2M217.56 282.8V284.9M217.90 283.6V286.4M218.24 283.6V286.6M218.58 282.9V285.7M219.26 286.1V289.3M220.96 288.9V293.6M221.64 289.8V292.8M221.98 288.3V293.0M222.66 290.0V293.4M223.68 290.9V293.0M224.36 291.1V293.2M224.70 290.9V295.1M225.72 291.3V294.9M226.06 292.5V295.7M226.74 290.6V295.9M227.08 289.4V294.9M228.10 291.7V294.3M229.12 291.9V295.6M230.14 295.7V297.6M230.82 294.0V299.4M232.52 295.2V299.6M233.20 297.7V300.0M233.54 294.9V299.9M234.56 298.6V301.2M234.90 298.0V301.9M235.24 299.7V302.6M236.94 300.7V303.4M237.28 299.4V303.0M238.30 301.9V304.3M238.98 299.5V302.3M240.34 299.7V301.0M240.68 299.5V301.0M241.36 297.8V301.6M241.70 298.5V301.4M242.04 296.9V300.3M242.38 297.7V300.9M242.72 296.9V300.6M243.40 294.9V300.2M243.74 296.7V299.8M244.42 293.1V297.9M244.76 294.0V297.9M245.10 294.1V296.3M245.44 294.7V298.2M245.78 292.0V297.4M246.12 293.2V297.1M246.46 293.0V297.0M247.14 290.0V295.8M247.48 291.4V294.2M248.16 291.1V295.0M248.50 289.5V292.8M248.84 286.4V294.0M249.52 290.8V292.9M249.86 289.2V293.6M250.70 288.1V298.9M251.00 287.4V298.0M251.30 285.0V302.6M251.60 284.1V300.8M251.90 283.1V302.2M252.20 282.4V303.7M252.50 282.4V304.4M252.80 280.6V313.2M253.10 281.2V324.4M253.40 279.8V331.9M253.70 281.1V326.7M254.00 278.7V323.5M254.30 277.1V316.0M254.60 276.1V312.7M254.90 278.2V310.3M255.20 274.7V307.7M255.50 272.4V306.6M255.80 276.7V305.9M256.10 276.6V304.8M256.40 283.0V299.2M256.70 283.0V299.7M257.00 283.0V295.1M257.30 275.3V296.6M257.60 268.7V293.5M257.90 265.7V295.5M258.20 266.8V297.7M258.50 267.0V302.2M258.80 266.7V306.0M259.10 268.2V306.3M259.40 266.3V309.2M259.70 267.5V309.6M260.00 267.5V308.5M260.30 268.7V309.8M260.60 268.5V308.3M260.90 268.0V311.7M261.20 264.7V311.3M261.50 262.4V315.7M261.80 261.9V315.4M262.10 262.2V316.0M262.40 262.4V315.5M262.70 261.2V309.6M263.00 264.6V295.3M253.5 295V336.1M262.3 300V322.6M263.3 262V219.5M255.6 290V310.6M260.6 295V312" fill="none" stroke="#fa7864" stroke-width="0.7"/><rect x="64.8" y="211.6" width="134.2" height="57.3" fill="#fff"/><path d="M65.0 265.0L65.8 262.1L66.6 264.6L67.4 265.2L68.2 263.8L69.0 265.7L69.8 265.6L70.6 261.6L71.4 262.0L72.2 262.7L73.0 262.7L73.8 263.6L74.6 261.8L75.4 263.5L76.2 265.2L77.0 263.9L77.8 265.3L78.6 265.6L79.4 263.4L80.2 263.4L81.0 261.6L81.8 261.8L82.6 256.2L83.4 257.8L84.2 257.7L85.0 260.9L85.8 261.0L86.6 260.7L87.4 261.5L88.2 262.2L89.0 258.3L89.8 263.9L90.6 261.0L91.4 261.5L92.2 258.7L93.0 261.0L93.8 260.4L94.6 260.8L95.4 263.4L96.2 262.3L97.0 263.9L97.8 264.7L98.6 265.6L99.4 265.5L100.2 262.6L101.0 260.5L101.8 260.7L102.6 261.6L103.4 257.6L104.2 257.4L105.0 255.5L105.8 256.6L106.6 255.2L107.4 256.0L108.2 252.3L109.0 252.1L109.8 253.2L110.6 249.0L111.4 245.5L112.2 247.5L113.0 248.5L113.8 249.2L114.6 250.7L115.4 251.2L116.2 255.1L117.0 254.8L117.8 260.4L118.6 257.7L119.4 261.7L120.2 261.2L121.0 260.9L121.8 260.7L122.6 258.5L123.4 258.4L124.2 255.3L125.0 254.3L125.8 252.7L126.6 252.6L127.4 251.3L128.2 253.2L129.0 249.6L129.8 249.0L130.6 249.1L131.4 248.3L132.2 243.5L133.0 241.8L133.8 243.4L134.6 242.7L135.4 246.4L136.2 245.1L137.0 247.3L137.8 249.6L138.6 249.9L139.4 251.6L140.2 252.0L141.0 252.9L141.8 252.6L142.6 250.0L143.4 249.8L144.2 248.5L145.0 249.4L145.8 245.5L146.6 248.6L147.4 246.1L148.2 248.3L149.0 247.6L149.8 250.7L150.6 249.6L151.4 250.6L152.2 248.8L153.0 247.0L153.8 248.7L154.6 246.5L155.4 245.4L156.2 246.3L157.0 245.6L157.8 242.9L158.6 244.2L159.4 246.6L160.2 246.8L161.0 245.7L161.8 243.4L162.6 246.9L163.4 243.6L164.2 243.5L165.0 242.9L165.8 243.3L166.6 241.5L167.4 241.7L168.2 239.5L169.0 239.7L169.8 242.8L170.6 242.5L171.4 242.3L172.2 242.9L173.0 243.1L173.8 243.8L174.6 242.7L175.4 238.9L176.2 240.6L177.0 238.6L177.8 239.2L178.6 239.5L179.4 239.5L180.2 241.5L181.0 236.8L181.8 243.0L182.6 240.7L183.4 243.3L184.2 240.9L185.0 242.2L185.8 239.7L186.6 239.3L187.4 239.1L188.2 238.2L189.0 236.9L189.8 238.9L190.6 237.0L191.4 238.5L192.2 235.1L193.0 236.0L193.8 236.9L194.6 238.8L195.4 239.3L196.2 235.2L197.0 236.7L197.8 236.9L198.6 235.7" fill="none" stroke="#1eb4d2" stroke-width="1.1" stroke-dasharray="3 2"/><path d="M65.0 263.4L65.8 260.9L66.6 263.6L67.4 263.0L68.2 262.1L69.0 263.9L69.8 262.9L70.6 260.3L71.4 259.8L72.2 261.7L73.0 260.7L73.8 261.7L74.6 260.9L75.4 263.6L76.2 265.1L77.0 263.4L77.8 263.3L78.6 264.3L79.4 262.3L80.2 261.6L81.0 259.5L81.8 259.0L82.6 255.4L83.4 255.8L84.2 255.6L85.0 260.5L85.8 259.5L86.6 260.2L87.4 260.3L88.2 260.4L89.0 258.6L89.8 263.3L90.6 260.4L91.4 260.0L92.2 258.0L93.0 259.2L93.8 259.8L94.6 260.0L95.4 261.4L96.2 260.6L97.0 262.4L97.8 263.4L98.6 263.2L99.4 262.7L100.2 261.6L101.0 259.8L101.8 260.3L102.6 258.4L103.4 257.1L104.2 257.3L105.0 253.9L105.8 254.2L106.6 255.0L107.4 254.7L108.2 252.4L109.0 251.4L109.8 250.2L110.6 247.4L111.4 244.3L112.2 246.1L113.0 246.8L113.8 247.9L114.6 250.5L115.4 251.0L116.2 251.7L117.0 254.1L117.8 257.8L118.6 257.0L119.4 259.0L120.2 259.1L121.0 259.7L121.8 257.3L122.6 258.0L123.4 257.2L124.2 254.7L125.0 253.7L125.8 251.6L126.6 252.1L127.4 250.3L128.2 250.2L129.0 249.9L129.8 248.8L130.6 248.6L131.4 247.3L132.2 241.1L133.0 239.7L133.8 241.5L134.6 241.1L135.4 242.6L136.2 244.8L137.0 247.1L137.8 248.2L138.6 248.3L139.4 250.4L140.2 251.4L141.0 252.8L141.8 251.4L142.6 249.3L143.4 248.9L144.2 248.2L145.0 246.7L145.8 243.7L146.6 245.3L147.4 245.2L148.2 246.9L149.0 246.5L149.8 249.3L150.6 248.5L151.4 249.3L152.2 249.4L153.0 245.9L153.8 246.6L154.6 247.0L155.4 244.3L156.2 244.3L157.0 242.9L157.8 241.6L158.6 242.3L159.4 243.4L160.2 244.1L161.0 244.8L161.8 242.6L162.6 244.5L163.4 242.0L164.2 242.6L165.0 241.7L165.8 241.6L166.6 240.3L167.4 240.5L168.2 238.3L169.0 239.8L169.8 239.7L170.6 239.9L171.4 239.4L172.2 241.6L173.0 241.6L173.8 241.9L174.6 240.5L175.4 239.3L176.2 238.9L177.0 238.2L177.8 237.8L178.6 238.8L179.4 236.4L180.2 239.6L181.0 235.4L181.8 240.2L182.6 239.3L183.4 242.6L184.2 239.7L185.0 241.1L185.8 238.3L186.6 237.0L187.4 237.8L188.2 236.9L189.0 234.5L189.8 237.3L190.6 234.6L191.4 236.9L192.2 235.0L193.0 235.7L193.8 237.2L194.6 236.2L195.4 237.5L196.2 234.3L197.0 236.3L197.8 235.2L198.6 234.4" fill="none" stroke="#5abe1e" stroke-width="1.2" stroke-dasharray="3.5 1.8"/><path d="M65.0 262.8L65.8 260.3L66.6 263.0L67.4 262.4L68.2 261.5L69.0 263.3L69.8 262.3L70.6 259.7L71.4 259.2L72.2 261.1L73.0 260.1L73.8 261.1L74.6 260.3L75.4 263.0L76.2 264.5L77.0 262.8L77.8 262.7L78.6 263.7L79.4 261.7L80.2 261.0L81.0 258.9L81.8 258.4L82.6 254.8L83.4 255.2L84.2 255.0L85.0 259.9L85.8 258.9L86.6 259.6L87.4 259.7L88.2 259.8L89.0 258.0L89.8 262.7L90.6 259.8L91.4 259.4L92.2 257.4L93.0 258.6L93.8 259.2L94.6 259.4L95.4 260.8L96.2 260.0L97.0 261.8L97.8 262.8L98.6 262.6L99.4 262.1L100.2 261.0L101.0 259.2L101.8 259.7L102.6 257.8L103.4 256.5L104.2 256.7L105.0 253.3L105.8 253.6L106.6 254.4L107.4 254.1L108.2 251.8L109.0 250.8L109.8 249.6L110.6 246.8L111.4 243.7L112.2 245.5L113.0 246.2L113.8 247.3L114.6 249.9L115.4 250.4L116.2 251.1L117.0 253.5L117.8 257.2L118.6 256.4L119.4 258.4L120.2 258.5L121.0 259.1L121.8 256.7L122.6 257.4L123.4 256.6L124.2 254.1L125.0 253.1L125.8 251.0L126.6 251.5L127.4 249.7L128.2 249.6L129.0 249.3L129.8 248.2L130.6 248.0L131.4 246.7L132.2 240.5L133.0 239.1L133.8 240.9L134.6 240.5L135.4 242.0L136.2 244.2L137.0 246.5L137.8 247.6L138.6 247.7L139.4 249.8L140.2 250.8L141.0 252.2L141.8 250.8L142.6 248.7L143.4 248.3L144.2 247.6L145.0 246.1L145.8 243.1L146.6 244.7L147.4 244.6L148.2 246.3L149.0 245.9L149.8 248.7L150.6 247.9L151.4 248.7L152.2 248.8L153.0 245.3L153.8 246.0L154.6 246.4L155.4 243.7L156.2 243.7L157.0 242.3L157.8 241.0L158.6 241.7L159.4 242.8L160.2 243.5L161.0 244.2L161.8 242.0L162.6 243.9L163.4 241.4L164.2 242.0L165.0 241.1L165.8 241.0L166.6 239.7L167.4 239.9L168.2 237.7L169.0 239.2L169.8 239.1L170.6 239.3L171.4 238.8L172.2 241.0L173.0 241.0L173.8 241.3L174.6 239.9L175.4 238.7L176.2 238.3L177.0 237.6L177.8 237.2L178.6 238.2L179.4 235.8L180.2 239.0L181.0 234.8L181.8 239.6L182.6 238.7L183.4 242.0L184.2 239.1L185.0 240.5L185.8 237.7L186.6 236.4L187.4 237.2L188.2 236.3L189.0 233.9L189.8 236.7L190.6 234.0L191.4 236.3L192.2 234.4L193.0 235.1L193.8 236.6L194.6 235.6L195.4 236.9L196.2 233.7L197.0 235.7L197.8 234.6L198.6 233.8" fill="none" stroke="#14aa64" stroke-width="1.3" stroke-dasharray="3.5 1.8"/><path d="M65.0 265.3L65.8 211.8L66.6 221.6L67.4 268.5L68.2 262.0L69.0 227.9L69.8 237.9L70.6 259.8L71.4 266.3L72.2 264.7L73.0 264.1L73.8 265.2L74.6 261.4L75.4 258.8L76.2 268.6L77.0 263.8L77.8 252.5L78.6 232.0L79.4 242.0L80.2 265.7L81.0 266.3L81.8 268.6L82.6 265.8L83.4 253.1L84.2 263.8L85.0 263.4L85.8 264.7L86.6 222.9L87.4 232.9L88.2 268.6L89.0 266.7L89.8 235.3L90.6 245.3L91.4 265.4L92.2 265.4L93.0 265.8L93.8 259.7L94.6 261.7L95.4 247.7L96.2 257.7L97.0 262.3L97.8 264.8L98.6 264.0L99.4 263.0L100.2 260.6L101.0 264.1L101.8 268.6L102.6 266.8L103.4 267.3L104.2 264.5L105.0 259.5L105.8 262.8L106.6 263.3L107.4 211.8L108.2 221.6L109.0 264.7L109.8 265.3L110.6 268.6L111.4 211.8L112.2 221.6L113.0 252.0L113.8 263.1L114.6 257.6L115.4 235.3L116.2 245.3L117.0 265.8L117.8 264.9L118.6 248.6L119.4 265.9L120.2 254.5L121.0 264.0L121.8 264.4L122.6 268.6L123.4 234.4L124.2 244.4L125.0 267.0L125.8 259.5L126.6 249.5L127.4 259.3L128.2 264.8L129.0 258.7L129.8 263.5L130.6 268.6L131.4 265.6L132.2 264.6L133.0 264.9L133.8 217.1L134.6 227.1L135.4 267.2L136.2 263.4L137.0 263.4L137.8 261.8L138.6 264.1L139.4 262.7L140.2 267.0L141.0 256.2L141.8 211.8L142.6 221.6L143.4 257.1L144.2 263.0L145.0 265.3L145.8 266.2L146.6 256.6L147.4 258.3L148.2 264.9L149.0 211.8L149.8 221.6L150.6 263.3L151.4 266.0L152.2 259.7L153.0 263.0L153.8 266.9L154.6 251.7L155.4 250.5L156.2 265.7L157.0 265.2L157.8 229.5L158.6 239.5L159.4 266.2L160.2 264.2L161.0 266.9L161.8 261.2L162.6 266.5L163.4 264.0L164.2 262.1L165.0 263.0L165.8 218.0L166.6 228.0L167.4 263.6L168.2 260.5L169.0 262.5L169.8 267.0L170.6 224.6L171.4 234.6L172.2 246.1L173.0 266.5L173.8 263.6L174.6 259.5L175.4 261.5L176.2 268.2L177.0 211.8L177.8 221.6L178.6 252.9L179.4 250.9L180.2 263.1L181.0 253.0L181.8 264.9L182.6 249.4L183.4 254.3L184.2 265.3L185.0 220.4L185.8 230.4L186.6 255.5L187.4 266.1L188.2 211.8L189.0 221.6L189.8 264.5L190.6 267.4L191.4 263.3L192.2 265.8L193.0 264.0L193.8 226.2L194.6 236.2L195.4 254.4L196.2 264.8L197.0 267.0L197.8 211.8L198.6 221.6" fill="none" stroke="#e3981f" stroke-width="1.4" stroke-dasharray="3.5 1.3"/><path d="M65.0 262.8L65.8 237.8L66.6 263.8L67.4 263.3L68.2 256.7L69.0 250.0L69.8 259.2L70.6 263.3L71.4 263.5L72.2 258.8L73.0 259.8L73.8 261.0L74.6 260.3L75.4 262.6L76.2 263.1L77.0 262.2L77.8 263.2L78.6 252.0L79.4 260.5L80.2 259.7L81.0 258.9L81.8 262.2L82.6 262.3L83.4 262.5L84.2 259.5L85.0 259.3L85.8 260.7L86.6 245.0L87.4 260.7L88.2 260.4L89.0 258.0L89.8 252.0L90.6 260.8L91.4 257.5L92.2 263.3L93.0 257.4L93.8 261.4L94.6 258.9L95.4 255.0L96.2 257.4L97.0 257.9L97.8 260.5L98.6 258.5L99.4 258.1L100.2 260.7L101.0 260.3L101.8 259.0L102.6 259.1L103.4 262.2L104.2 258.0L105.0 259.2L105.8 259.2L106.6 255.2L107.4 232.8L108.2 258.3L109.0 259.8L109.8 258.3L110.6 256.7L111.4 237.8L112.2 259.4L113.0 257.0L113.8 254.0L114.6 258.9L115.4 250.0L116.2 258.1L117.0 259.5L117.8 260.0L118.6 258.3L119.4 256.6L120.2 252.4L121.0 257.5L121.8 256.5L122.6 259.6L123.4 250.0L124.2 257.6L125.0 259.5L125.8 256.3L126.6 256.2L127.4 254.4L128.2 255.5L129.0 256.6L129.8 258.3L130.6 254.4L131.4 257.6L132.2 260.8L133.0 252.7L133.8 231.0L134.6 255.4L135.4 257.4L136.2 259.4L137.0 257.7L137.8 254.8L138.6 252.9L139.4 254.5L140.2 254.5L141.0 255.0L141.8 241.0L142.6 257.5L143.4 252.5L144.2 255.4L145.0 254.3L145.8 251.4L146.6 253.8L147.4 253.5L148.2 253.0L149.0 227.8L149.8 252.1L150.6 258.6L151.4 255.4L152.2 250.8L153.0 247.3L153.8 255.3L154.6 253.0L155.4 252.5L156.2 250.1L157.0 249.0L157.8 242.0L158.6 257.4L159.4 255.2L160.2 250.4L161.0 255.6L161.8 247.4L162.6 252.8L163.4 252.7L164.2 249.2L165.0 250.0L165.8 236.0L166.6 250.8L167.4 253.5L168.2 252.6L169.0 251.3L169.8 252.7L170.6 240.0L171.4 254.4L172.2 249.8L173.0 246.9L173.8 248.8L174.6 248.1L175.4 249.6L176.2 250.0L177.0 230.0L177.8 251.8L178.6 252.7L179.4 246.6L180.2 252.0L181.0 251.4L181.8 250.7L182.6 251.9L183.4 245.2L184.2 249.7L185.0 234.0L185.8 253.1L186.6 245.7L187.4 245.0L188.2 232.0L189.0 248.8L189.8 247.4L190.6 247.5L191.4 248.5L192.2 250.8L193.0 245.3L193.8 238.0L194.6 245.4L195.4 246.4L196.2 246.4L197.0 243.5L197.8 229.0L198.6 243.3" fill="none" stroke="#fa7864" stroke-width="1.3" stroke-dasharray="3.5 1.2"/><path d="M81.6 268.9v-1.8M81.6 211.6v1.8M109.5 268.9v-1.8M109.5 211.6v1.8M137.5 268.9v-1.8M137.5 211.6v1.8M165.4 268.9v-1.8M165.4 211.6v1.8M193.4 268.9v-1.8M193.4 211.6v1.8M67.6 268.9v-1.0M67.6 211.6v1.0M74.6 268.9v-1.0M74.6 211.6v1.0M81.6 268.9v-1.0M81.6 211.6v1.0M88.6 268.9v-1.0M88.6 211.6v1.0M95.6 268.9v-1.0M95.6 211.6v1.0M102.5 268.9v-1.0M102.5 211.6v1.0M109.5 268.9v-1.0M109.5 211.6v1.0M116.5 268.9v-1.0M116.5 211.6v1.0M123.5 268.9v-1.0M123.5 211.6v1.0M130.5 268.9v-1.0M130.5 211.6v1.0M137.5 268.9v-1.0M137.5 211.6v1.0M144.5 268.9v-1.0M144.5 211.6v1.0M151.5 268.9v-1.0M151.5 211.6v1.0M158.5 268.9v-1.0M158.5 211.6v1.0M165.4 268.9v-1.0M165.4 211.6v1.0M172.4 268.9v-1.0M172.4 211.6v1.0M179.4 268.9v-1.0M179.4 211.6v1.0M186.4 268.9v-1.0M186.4 211.6v1.0M193.4 268.9v-1.0M193.4 211.6v1.0M64.8 268.9h1.8M199.0 268.9h-1.8M64.8 249.8h1.8M199.0 249.8h-1.8M64.8 230.7h1.8M199.0 230.7h-1.8M64.8 265.1h1.0M199.0 265.1h-1.0M64.8 261.3h1.0M199.0 261.3h-1.0M64.8 257.4h1.0M199.0 257.4h-1.0M64.8 253.6h1.0M199.0 253.6h-1.0M64.8 249.8h1.0M199.0 249.8h-1.0M64.8 246.0h1.0M199.0 246.0h-1.0M64.8 242.2h1.0M199.0 242.2h-1.0M64.8 238.3h1.0M199.0 238.3h-1.0M64.8 234.5h1.0M199.0 234.5h-1.0M64.8 230.7h1.0M199.0 230.7h-1.0M64.8 226.9h1.0M199.0 226.9h-1.0M64.8 223.1h1.0M199.0 223.1h-1.0M64.8 219.2h1.0M199.0 219.2h-1.0M64.8 215.4h1.0M199.0 215.4h-1.0" stroke="#686868" stroke-width="1.08" fill="none"/><rect x="64.8" y="211.6" width="134.2" height="57.3" fill="none" stroke="#686868" stroke-width="1.2"/><text x="63.0" y="271.6" font-size="8" text-anchor="end" fill="#262626" class="s">−15</text><text x="63.0" y="252.5" font-size="8" text-anchor="end" fill="#262626" class="s">−10</text><text x="63.0" y="233.4" font-size="8" text-anchor="end" fill="#262626" class="s">−5</text><text x="81.6" y="277.5" font-size="7.5" text-anchor="middle" fill="#262626" class="s">8200</text><text x="109.5" y="277.5" font-size="7.5" text-anchor="middle" fill="#262626" class="s">8400</text><text x="137.5" y="277.5" font-size="7.5" text-anchor="middle" fill="#262626" class="s">8600</text><text x="165.4" y="277.5" font-size="7.5" text-anchor="middle" fill="#262626" class="s">8800</text><text x="193.4" y="277.5" font-size="7.5" text-anchor="middle" fill="#262626" class="s">9000</text><text x="66" y="209.5" font-size="7.5" fill="#262626">×10<tspan font-size="5.5" dy="-3">−3</tspan></text><rect x="146.5" y="292.2" width="11.9" height="9" fill="none" stroke="#222" stroke-width="0.9"/><path d="M64.8 268.9L146.5 292.2M199 268.9L158.4 292.2" stroke="#111" stroke-width="0.9" fill="none"/><rect x="46.5" y="316.2" width="175" height="34.1" fill="#fff" stroke="#262626" stroke-width="1"/><path d="M49.5 323.3H74.5" stroke="#1eb4d2" stroke-width="1.2" stroke-dasharray="6.6 4"/><text x="77.2" y="326.9" font-size="8.6" text-anchor="start" fill="#262626" class="s">FDA Estimated</text><path d="M49.5 333.9H74.5" stroke="#14aa64" stroke-width="1.2" stroke-dasharray="6.6 4"/><text x="77.2" y="337.5" font-size="8.6" text-anchor="start" fill="#262626" class="s">DA Estimated</text><path d="M49.5 343.9H74.5" stroke="#5abe1e" stroke-width="1.2" stroke-dasharray="6.6 4"/><text x="77.2" y="347.5" font-size="8.6" text-anchor="start" fill="#262626" class="s">SSA Estimated</text><path d="M137.3 323.3H162.5" stroke="#f09614" stroke-width="1.2" stroke-dasharray="6.6 4"/><text x="164.5" y="326.9" font-size="8.6" text-anchor="start" fill="#262626" class="s">PSO Estimated</text><path d="M137.3 333.9H162.5" stroke="#fa7864" stroke-width="1.2" stroke-dasharray="6.6 4"/><text x="164.5" y="337.5" font-size="8.6" text-anchor="start" fill="#262626" class="s">ALO Estimated</text><path d="M45.8 352.4v-2.2M45.8 202.3v2.2M108.0 352.4v-2.2M108.0 202.3v2.2M170.1 352.4v-2.2M170.1 202.3v2.2M232.3 352.4v-2.2M232.3 202.3v2.2M45.8 352.4v-1.3M45.8 202.3v1.3M58.2 352.4v-1.3M58.2 202.3v1.3M70.7 352.4v-1.3M70.7 202.3v1.3M83.1 352.4v-1.3M83.1 202.3v1.3M95.5 352.4v-1.3M95.5 202.3v1.3M108.0 352.4v-1.3M108.0 202.3v1.3M120.4 352.4v-1.3M120.4 202.3v1.3M132.8 352.4v-1.3M132.8 202.3v1.3M145.3 352.4v-1.3M145.3 202.3v1.3M157.7 352.4v-1.3M157.7 202.3v1.3M170.1 352.4v-1.3M170.1 202.3v1.3M182.6 352.4v-1.3M182.6 202.3v1.3M195.0 352.4v-1.3M195.0 202.3v1.3M207.4 352.4v-1.3M207.4 202.3v1.3M219.9 352.4v-1.3M219.9 202.3v1.3M232.3 352.4v-1.3M232.3 202.3v1.3M244.7 352.4v-1.3M244.7 202.3v1.3M257.2 352.4v-1.3M257.2 202.3v1.3M269.6 352.4v-1.3M269.6 202.3v1.3M45.8 352.4h2.2M269.6 352.4h-2.2M45.8 322.4h2.2M269.6 322.4h-2.2M45.8 292.4h2.2M269.6 292.4h-2.2M45.8 262.3h2.2M269.6 262.3h-2.2M45.8 232.3h2.2M269.6 232.3h-2.2M45.8 202.3h2.2M269.6 202.3h-2.2M45.8 352.4h1.3M269.6 352.4h-1.3M45.8 346.4h1.3M269.6 346.4h-1.3M45.8 340.4h1.3M269.6 340.4h-1.3M45.8 334.4h1.3M269.6 334.4h-1.3M45.8 328.4h1.3M269.6 328.4h-1.3M45.8 322.4h1.3M269.6 322.4h-1.3M45.8 316.4h1.3M269.6 316.4h-1.3M45.8 310.4h1.3M269.6 310.4h-1.3M45.8 304.4h1.3M269.6 304.4h-1.3M45.8 298.4h1.3M269.6 298.4h-1.3M45.8 292.4h1.3M269.6 292.4h-1.3M45.8 286.4h1.3M269.6 286.4h-1.3M45.8 280.4h1.3M269.6 280.4h-1.3M45.8 274.3h1.3M269.6 274.3h-1.3M45.8 268.3h1.3M269.6 268.3h-1.3M45.8 262.3h1.3M269.6 262.3h-1.3M45.8 256.3h1.3M269.6 256.3h-1.3M45.8 250.3h1.3M269.6 250.3h-1.3M45.8 244.3h1.3M269.6 244.3h-1.3M45.8 238.3h1.3M269.6 238.3h-1.3M45.8 232.3h1.3M269.6 232.3h-1.3M45.8 226.3h1.3M269.6 226.3h-1.3M45.8 220.3h1.3M269.6 220.3h-1.3M45.8 214.3h1.3M269.6 214.3h-1.3M45.8 208.3h1.3M269.6 208.3h-1.3M45.8 202.3h1.3M269.6 202.3h-1.3" stroke="#262626" stroke-width="0.9" fill="none"/><rect x="45.8" y="202.3" width="223.8" height="150.1" fill="none" stroke="#262626" stroke-width="1.0"/><text x="41.5" y="205.9" font-size="10.5" text-anchor="end" fill="#262626" >0.15</text><text x="41.5" y="235.9" font-size="10.5" text-anchor="end" fill="#262626" >0.1</text><text x="41.5" y="265.9" font-size="10.5" text-anchor="end" fill="#262626" >0.05</text><text x="41.5" y="296.0" font-size="10.5" text-anchor="end" fill="#262626" >0</text><text x="41.5" y="326.0" font-size="10.5" text-anchor="end" fill="#262626" >−0.05</text><text x="41.5" y="356.0" font-size="10.5" text-anchor="end" fill="#262626" >−0.1</text><text x="45.7" y="367.2" font-size="10.5" text-anchor="middle" fill="#262626" >0</text><text x="108.4" y="367.2" font-size="10.5" text-anchor="middle" fill="#262626" >5000</text><text x="172.0" y="367.2" font-size="10.5" text-anchor="middle" fill="#262626" >10,000</text><text x="236.6" y="367.2" font-size="10.5" text-anchor="middle" fill="#262626" >15,000</text><text x="158.7" y="379.5" font-size="10.5" text-anchor="middle" fill="#262626" >Time (s)</text><text transform="translate(13.6,277.4) rotate(-90)" font-size="10.5" text-anchor="middle" fill="#262626">Error (V)</text><text x="5.6" y="196.7" font-size="10.8" text-anchor="start" fill="#262626" >(c)</text><path d="M324.4 325.0L333.2 326.5L359.7 326.9L364.1 349.0L452.4 349.3L474.4 351.6L540.6 352.0" fill="none" stroke="#5a8c46" stroke-width="1.6" stroke-linejoin="round"/><path d="M324.4 257.3L328.8 257.5L333.2 261.6L342.1 261.6L346.5 306.0L350.9 350.5L408.2 350.5L412.7 353.5L447.9 353.8L452.4 355.0L540.6 355.5" fill="none" stroke="#28c8d2" stroke-width="1.6" stroke-linejoin="round"/><path d="M324.4 212.8L328.8 212.8L333.2 261.6L350.9 261.6L355.3 329.6L364.1 329.6L368.5 347.5L408.2 348.0L412.7 352.4L430.3 352.6L443.5 354.5L540.6 354.8" fill="none" stroke="#f87c58" stroke-width="1.6" stroke-linejoin="round"/><path d="M324.4 231.5L328.8 244.0L333.2 249.0L337.6 261.0L342.1 274.0L346.5 290.0L350.9 317.0L355.3 344.0L372.9 344.5L408.2 345.5L540.6 346.4" fill="none" stroke="#f5c31e" stroke-width="1.6" stroke-linejoin="round"/><path d="M324.4 286.2L328.8 288.0L333.2 341.0L337.6 341.5L342.1 347.5L346.5 353.3L395.0 354.3L540.6 354.5" fill="none" stroke="#2b6cb9" stroke-width="1.6" stroke-linejoin="round"/><rect x="365.2" y="236.0" width="166.8" height="79.2" fill="#fff"/><path d="M365.2 253.7L532.5 253.7" fill="none" stroke="#f5c31e" stroke-width="1.3" stroke-linejoin="round"/><path d="M365.2 271.0L416.0 271.0L424.2 275.3L448.8 281.7L457.0 283.4L473.4 283.6L503.8 285.0L532.5 285.3" fill="none" stroke="#5a8c46" stroke-width="1.3" stroke-linejoin="round"/><path d="M365.2 294.0L375.0 294.0L383.2 299.3L391.4 299.5L399.6 303.2L532.5 304.6" fill="none" stroke="#f87c58" stroke-width="1.3" stroke-linejoin="round"/><path d="M365.2 298.5L407.8 298.5L416.0 302.0L465.2 302.0L473.4 306.2L532.5 306.3" fill="none" stroke="#28c8d2" stroke-width="1.3" stroke-linejoin="round"/><path d="M365.2 302.5L532.5 302.5" fill="none" stroke="#2b6cb9" stroke-width="1.3" stroke-linejoin="round"/><path d="M375.0 315.2v-1.8M375.0 236.0v1.8M415.9 315.2v-1.8M415.9 236.0v1.8M456.8 315.2v-1.8M456.8 236.0v1.8M497.7 315.2v-1.8M497.7 236.0v1.8M366.8 315.2v-1.0M366.8 236.0v1.0M375.0 315.2v-1.0M375.0 236.0v1.0M383.2 315.2v-1.0M383.2 236.0v1.0M391.4 315.2v-1.0M391.4 236.0v1.0M399.5 315.2v-1.0M399.5 236.0v1.0M407.7 315.2v-1.0M407.7 236.0v1.0M415.9 315.2v-1.0M415.9 236.0v1.0M424.1 315.2v-1.0M424.1 236.0v1.0M432.2 315.2v-1.0M432.2 236.0v1.0M440.4 315.2v-1.0M440.4 236.0v1.0M448.6 315.2v-1.0M448.6 236.0v1.0M456.8 315.2v-1.0M456.8 236.0v1.0M465.0 315.2v-1.0M465.0 236.0v1.0M473.1 315.2v-1.0M473.1 236.0v1.0M481.3 315.2v-1.0M481.3 236.0v1.0M489.5 315.2v-1.0M489.5 236.0v1.0M497.7 315.2v-1.0M497.7 236.0v1.0M505.8 315.2v-1.0M505.8 236.0v1.0M514.0 315.2v-1.0M514.0 236.0v1.0M522.2 315.2v-1.0M522.2 236.0v1.0M530.4 315.2v-1.0M530.4 236.0v1.0M365.2 315.2h1.8M532.0 315.2h-1.8M365.2 290.1h1.8M532.0 290.1h-1.8M365.2 264.9h1.8M532.0 264.9h-1.8M365.2 239.8h1.8M532.0 239.8h-1.8M365.2 315.2h1.0M532.0 315.2h-1.0M365.2 308.9h1.0M532.0 308.9h-1.0M365.2 302.6h1.0M532.0 302.6h-1.0M365.2 296.3h1.0M532.0 296.3h-1.0M365.2 290.1h1.0M532.0 290.1h-1.0M365.2 283.8h1.0M532.0 283.8h-1.0M365.2 277.5h1.0M532.0 277.5h-1.0M365.2 271.2h1.0M532.0 271.2h-1.0M365.2 264.9h1.0M532.0 264.9h-1.0M365.2 258.6h1.0M532.0 258.6h-1.0M365.2 252.3h1.0M532.0 252.3h-1.0M365.2 246.1h1.0M532.0 246.1h-1.0M365.2 239.8h1.0M532.0 239.8h-1.0" stroke="#686868" stroke-width="1.08" fill="none"/><rect x="365.2" y="236.0" width="166.8" height="79.2" fill="none" stroke="#686868" stroke-width="1.2"/><text x="363.5" y="317.9" font-size="7.5" text-anchor="end" fill="#262626" class="s">0.0122</text><text x="363.5" y="292.8" font-size="7.5" text-anchor="end" fill="#262626" class="s">0.0126</text><text x="363.5" y="267.6" font-size="7.5" text-anchor="end" fill="#262626" class="s">0.013</text><text x="363.5" y="242.5" font-size="7.5" text-anchor="end" fill="#262626" class="s">0.0134</text><text x="375.0" y="324.5" font-size="7.5" text-anchor="middle" fill="#262626" class="s">25</text><text x="415.9" y="324.5" font-size="7.5" text-anchor="middle" fill="#262626" class="s">30</text><text x="456.8" y="324.5" font-size="7.5" text-anchor="middle" fill="#262626" class="s">35</text><text x="497.7" y="324.5" font-size="7.5" text-anchor="middle" fill="#262626" class="s">40</text><rect x="424.5" y="343" width="89.8" height="16" fill="none" stroke="#222" stroke-width="0.9"/><path d="M365.2 315.2L424.5 343M532 315.2L514.3 343" stroke="#111" stroke-width="0.9" fill="none"/><rect x="387.6" y="205.6" width="149" height="23.5" fill="#fff" stroke="#262626" stroke-width="1"/><path d="M389.9 212.2H415.5" stroke="#28c8d2" stroke-width="1.5"/><text x="417.6" y="215.8" font-size="8.5" text-anchor="start" fill="#262626" class="s">FDA</text><path d="M389.9 222.6H415.5" stroke="#5a8c46" stroke-width="1.5"/><text x="417.6" y="226.2" font-size="8.5" text-anchor="start" fill="#262626" class="s">DA</text><path d="M439.9 212.2H465" stroke="#f87c58" stroke-width="1.5"/><text x="467.0" y="215.8" font-size="8.5" text-anchor="start" fill="#262626" class="s">SSA</text><path d="M439.9 222.6H465" stroke="#f5c31e" stroke-width="1.5"/><text x="467.0" y="226.2" font-size="8.5" text-anchor="start" fill="#262626" class="s">PSO</text><path d="M488.4 212.2H513.8" stroke="#2b6cb9" stroke-width="1.5"/><text x="516.2" y="215.8" font-size="8.5" text-anchor="start" fill="#262626" class="s">ALO</text><path d="M320.0 359.2v-2.2M320.0 202.3v2.2M364.1 359.2v-2.2M364.1 202.3v2.2M408.2 359.2v-2.2M408.2 202.3v2.2M452.4 359.2v-2.2M452.4 202.3v2.2M496.5 359.2v-2.2M496.5 202.3v2.2M540.6 359.2v-2.2M540.6 202.3v2.2M320.0 359.2v-1.3M320.0 202.3v1.3M328.8 359.2v-1.3M328.8 202.3v1.3M337.6 359.2v-1.3M337.6 202.3v1.3M346.5 359.2v-1.3M346.5 202.3v1.3M355.3 359.2v-1.3M355.3 202.3v1.3M364.1 359.2v-1.3M364.1 202.3v1.3M372.9 359.2v-1.3M372.9 202.3v1.3M381.8 359.2v-1.3M381.8 202.3v1.3M390.6 359.2v-1.3M390.6 202.3v1.3M399.4 359.2v-1.3M399.4 202.3v1.3M408.2 359.2v-1.3M408.2 202.3v1.3M417.1 359.2v-1.3M417.1 202.3v1.3M425.9 359.2v-1.3M425.9 202.3v1.3M434.7 359.2v-1.3M434.7 202.3v1.3M443.5 359.2v-1.3M443.5 202.3v1.3M452.4 359.2v-1.3M452.4 202.3v1.3M461.2 359.2v-1.3M461.2 202.3v1.3M470.0 359.2v-1.3M470.0 202.3v1.3M478.8 359.2v-1.3M478.8 202.3v1.3M487.7 359.2v-1.3M487.7 202.3v1.3M496.5 359.2v-1.3M496.5 202.3v1.3M505.3 359.2v-1.3M505.3 202.3v1.3M514.1 359.2v-1.3M514.1 202.3v1.3M523.0 359.2v-1.3M523.0 202.3v1.3M531.8 359.2v-1.3M531.8 202.3v1.3M540.6 359.2v-1.3M540.6 202.3v1.3M320.0 359.2h2.2M540.6 359.2h-2.2M320.0 336.8h2.2M540.6 336.8h-2.2M320.0 314.4h2.2M540.6 314.4h-2.2M320.0 292.0h2.2M540.6 292.0h-2.2M320.0 269.5h2.2M540.6 269.5h-2.2M320.0 247.1h2.2M540.6 247.1h-2.2M320.0 224.7h2.2M540.6 224.7h-2.2M320.0 202.3h2.2M540.6 202.3h-2.2M320.0 359.2h1.3M540.6 359.2h-1.3M320.0 353.6h1.3M540.6 353.6h-1.3M320.0 348.0h1.3M540.6 348.0h-1.3M320.0 342.4h1.3M540.6 342.4h-1.3M320.0 336.8h1.3M540.6 336.8h-1.3M320.0 331.2h1.3M540.6 331.2h-1.3M320.0 325.6h1.3M540.6 325.6h-1.3M320.0 320.0h1.3M540.6 320.0h-1.3M320.0 314.4h1.3M540.6 314.4h-1.3M320.0 308.8h1.3M540.6 308.8h-1.3M320.0 303.2h1.3M540.6 303.2h-1.3M320.0 297.6h1.3M540.6 297.6h-1.3M320.0 292.0h1.3M540.6 292.0h-1.3M320.0 286.4h1.3M540.6 286.4h-1.3M320.0 280.7h1.3M540.6 280.7h-1.3M320.0 275.1h1.3M540.6 275.1h-1.3M320.0 269.5h1.3M540.6 269.5h-1.3M320.0 263.9h1.3M540.6 263.9h-1.3M320.0 258.3h1.3M540.6 258.3h-1.3M320.0 252.7h1.3M540.6 252.7h-1.3M320.0 247.1h1.3M540.6 247.1h-1.3M320.0 241.5h1.3M540.6 241.5h-1.3M320.0 235.9h1.3M540.6 235.9h-1.3M320.0 230.3h1.3M540.6 230.3h-1.3M320.0 224.7h1.3M540.6 224.7h-1.3M320.0 219.1h1.3M540.6 219.1h-1.3M320.0 213.5h1.3M540.6 213.5h-1.3M320.0 207.9h1.3M540.6 207.9h-1.3M320.0 202.3h1.3M540.6 202.3h-1.3" stroke="#262626" stroke-width="0.9" fill="none"/><rect x="320.0" y="202.3" width="220.6" height="156.9" fill="none" stroke="#262626" stroke-width="1.0"/><text x="316.0" y="362.8" font-size="10.5" text-anchor="end" fill="#262626" >0.012</text><text x="316.0" y="340.4" font-size="10.5" text-anchor="end" fill="#262626" >0.014</text><text x="316.0" y="318.0" font-size="10.5" text-anchor="end" fill="#262626" >0.016</text><text x="316.0" y="295.6" font-size="10.5" text-anchor="end" fill="#262626" >0.018</text><text x="316.0" y="273.1" font-size="10.5" text-anchor="end" fill="#262626" >0.02</text><text x="316.0" y="250.7" font-size="10.5" text-anchor="end" fill="#262626" >0.022</text><text x="316.0" y="228.3" font-size="10.5" text-anchor="end" fill="#262626" >0.024</text><text x="316.0" y="205.9" font-size="10.5" text-anchor="end" fill="#262626" >0.026</text><text x="320.0" y="373.3" font-size="10.5" text-anchor="middle" fill="#262626" >0</text><text x="364.1" y="373.3" font-size="10.5" text-anchor="middle" fill="#262626" >10</text><text x="408.2" y="373.3" font-size="10.5" text-anchor="middle" fill="#262626" >20</text><text x="452.4" y="373.3" font-size="10.5" text-anchor="middle" fill="#262626" >30</text><text x="496.5" y="373.3" font-size="10.5" text-anchor="middle" fill="#262626" >40</text><text x="540.6" y="373.3" font-size="10.5" text-anchor="middle" fill="#262626" >50</text><text x="440.5" y="382.0" font-size="10.5" text-anchor="middle" fill="#262626" >Iteration</text><text transform="translate(287.5,280.7) rotate(-90)" font-size="10.5" text-anchor="middle" fill="#262626">Fitness values (V)</text><text x="274.7" y="193.0" font-size="10.8" text-anchor="start" fill="#262626" >(d)</text></svg></body></html>
